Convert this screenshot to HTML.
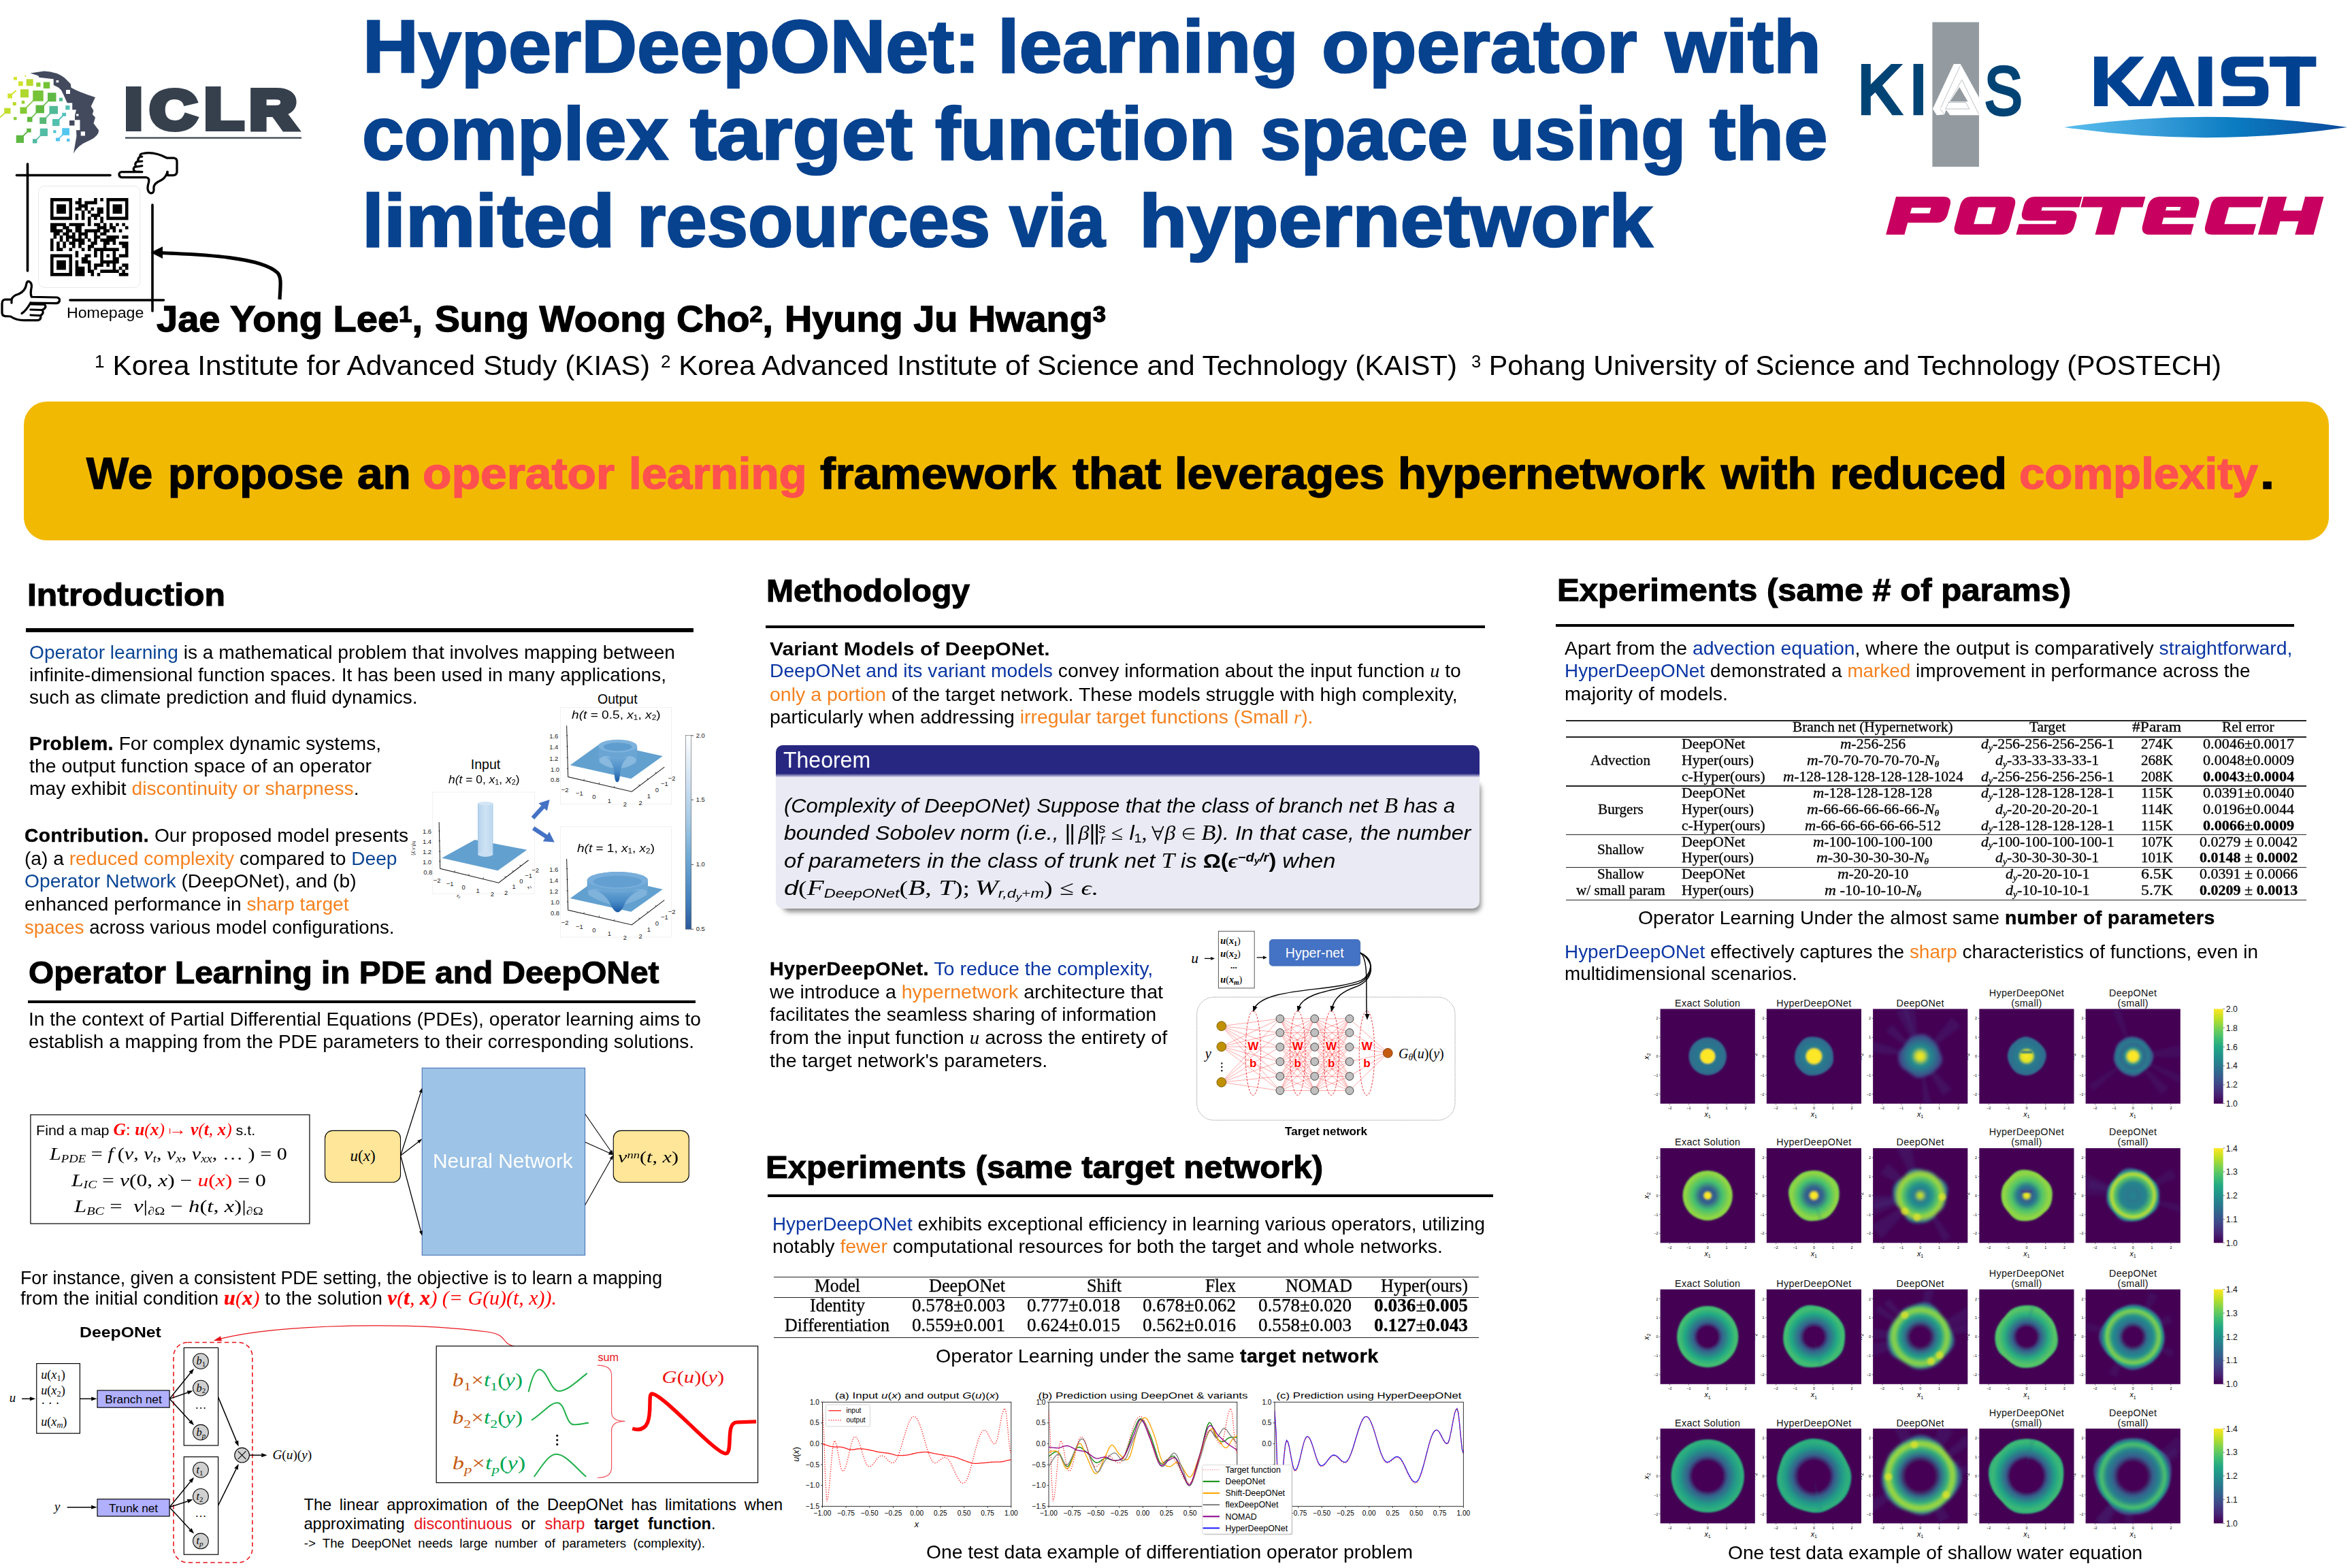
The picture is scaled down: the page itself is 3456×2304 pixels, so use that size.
<!DOCTYPE html>
<html><head><meta charset="utf-8"><title>HyperDeepONet poster</title>
<style>
html,body{margin:0;padding:0;background:#fff;}
body{width:3456px;height:2304px;position:relative;overflow:hidden;font-family:"Liberation Sans",sans-serif;}
.t{position:absolute;white-space:nowrap;line-height:1;transform-origin:0 0;}
.a{position:absolute;}
svg{position:absolute;overflow:visible;}
svg.il{position:static;display:inline-block;vertical-align:-0.02em;overflow:visible}
sup.s{font-size:62%;vertical-align:baseline;position:relative;top:-0.42em;}
sub.s{font-size:62%;vertical-align:baseline;position:relative;top:0.22em;}
b.hb{-webkit-text-stroke:0.45px currentColor;letter-spacing:0.45px}
.b{color:#0A4595}.b2{color:#0B36A4}.o{color:#F5821F}.r{color:#FF0000}
i.m{font-family:"Liberation Serif",serif;font-style:italic;}
</style></head>
<body>
<div class="t" id="t0" style="left:532.8px;top:14.1px;font-family:'Liberation Sans',sans-serif;font-size:109px;font-weight:bold;color:#07428F;-webkit-text-stroke:2.6px #07428F;transform:scaleX(1.0396);">HyperDeepONet:</div>
<div class="t" id="t1" style="left:1465.9px;top:14.1px;font-family:'Liberation Sans',sans-serif;font-size:109px;font-weight:bold;color:#07428F;-webkit-text-stroke:2.6px #07428F;transform:scaleX(1.0421);">learning</div>
<div class="t" id="t2" style="left:1941.9px;top:14.1px;font-family:'Liberation Sans',sans-serif;font-size:109px;font-weight:bold;color:#07428F;-webkit-text-stroke:2.6px #07428F;transform:scaleX(1.0483);">operator</div>
<div class="t" id="t3" style="left:2446.7px;top:14.1px;font-family:'Liberation Sans',sans-serif;font-size:109px;font-weight:bold;color:#07428F;-webkit-text-stroke:2.6px #07428F;transform:scaleX(1.0508);">with</div>
<div class="t" id="t4" style="left:532.0px;top:142.1px;font-family:'Liberation Sans',sans-serif;font-size:109px;font-weight:bold;color:#07428F;-webkit-text-stroke:2.6px #07428F;transform:scaleX(1.0176);">complex</div>
<div class="t" id="t5" style="left:1014.0px;top:142.1px;font-family:'Liberation Sans',sans-serif;font-size:109px;font-weight:bold;color:#07428F;-webkit-text-stroke:2.6px #07428F;transform:scaleX(1.0800);">target</div>
<div class="t" id="t6" style="left:1374.4px;top:142.1px;font-family:'Liberation Sans',sans-serif;font-size:109px;font-weight:bold;color:#07428F;-webkit-text-stroke:2.6px #07428F;transform:scaleX(1.0264);">function</div>
<div class="t" id="t7" style="left:1851.5px;top:142.1px;font-family:'Liberation Sans',sans-serif;font-size:109px;font-weight:bold;color:#07428F;-webkit-text-stroke:2.6px #07428F;transform:scaleX(0.9865);">space</div>
<div class="t" id="t8" style="left:2188.6px;top:142.1px;font-family:'Liberation Sans',sans-serif;font-size:109px;font-weight:bold;color:#07428F;-webkit-text-stroke:2.6px #07428F;transform:scaleX(0.9921);">using</div>
<div class="t" id="t9" style="left:2511.5px;top:142.1px;font-family:'Liberation Sans',sans-serif;font-size:109px;font-weight:bold;color:#07428F;-webkit-text-stroke:2.6px #07428F;transform:scaleX(1.0618);">the</div>
<div class="t" id="t10" style="left:532.3px;top:270.0px;font-family:'Liberation Sans',sans-serif;font-size:109px;font-weight:bold;color:#07428F;-webkit-text-stroke:2.6px #07428F;transform:scaleX(1.0573);">limited</div>
<div class="t" id="t11" style="left:935.6px;top:270.0px;font-family:'Liberation Sans',sans-serif;font-size:109px;font-weight:bold;color:#07428F;-webkit-text-stroke:2.6px #07428F;transform:scaleX(0.9960);">resources</div>
<div class="t" id="t12" style="left:1483.3px;top:270.0px;font-family:'Liberation Sans',sans-serif;font-size:109px;font-weight:bold;color:#07428F;-webkit-text-stroke:2.6px #07428F;transform:scaleX(0.9294);">via</div>
<div class="t" id="t13" style="left:1674.3px;top:270.0px;font-family:'Liberation Sans',sans-serif;font-size:109px;font-weight:bold;color:#07428F;-webkit-text-stroke:2.6px #07428F;transform:scaleX(1.0552);">hypernetwork</div>
<div class="t" id="t14" style="left:230.3px;top:440.9px;font-family:'Liberation Sans',sans-serif;font-size:54px;font-weight:bold;color:#000;-webkit-text-stroke:1.3px #000;transform:scaleX(1.0377);">Jae Yong Lee<sup class="s">1</sup>,</div>
<div class="t" id="t15" style="left:638.5px;top:440.9px;font-family:'Liberation Sans',sans-serif;font-size:54px;font-weight:bold;color:#000;-webkit-text-stroke:1.3px #000;transform:scaleX(1.0236);">Sung Woong Cho<sup class="s">2</sup>,</div>
<div class="t" id="t16" style="left:1152.5px;top:440.9px;font-family:'Liberation Sans',sans-serif;font-size:54px;font-weight:bold;color:#000;-webkit-text-stroke:1.3px #000;transform:scaleX(1.0336);">Hyung Ju Hwang<sup class="s">3</sup></div>
<div class="t" id="t17" style="left:139.0px;top:515.9px;font-family:'Liberation Sans',sans-serif;font-size:41.5px;font-weight:normal;color:#000;transform:scaleX(1.0218);"><sup class="s">1</sup> Korea Institute for Advanced Study (KIAS)</div>
<div class="t" id="t18" style="left:971.3px;top:515.9px;font-family:'Liberation Sans',sans-serif;font-size:41.5px;font-weight:normal;color:#000;transform:scaleX(1.0146);"><sup class="s">2</sup> Korea Advanced Institute of Science and Technology (KAIST)</div>
<div class="t" id="t19" style="left:2162.0px;top:515.9px;font-family:'Liberation Sans',sans-serif;font-size:41.5px;font-weight:normal;color:#000;transform:scaleX(0.9935);"><sup class="s">3</sup> Pohang University of Science and Technology (POSTECH)</div>
<div class="a" style="left:35px;top:590px;width:3387px;height:204px;background:#F2B903;border-radius:34px;"></div>
<div class="t" id="t20" style="left:126.7px;top:662.5px;font-family:'Liberation Sans',sans-serif;font-size:65px;font-weight:bold;color:#000;-webkit-text-stroke:1.5px currentColor;transform:scaleX(1.0100);">We</div>
<div class="t" id="t21" style="left:246.5px;top:662.5px;font-family:'Liberation Sans',sans-serif;font-size:65px;font-weight:bold;color:#000;-webkit-text-stroke:1.5px currentColor;transform:scaleX(1.0043);">propose</div>
<div class="t" id="t22" style="left:524.8px;top:662.5px;font-family:'Liberation Sans',sans-serif;font-size:65px;font-weight:bold;color:#000;-webkit-text-stroke:1.5px currentColor;transform:scaleX(1.0361);">an</div>
<div class="t" id="t23" style="left:620.6px;top:662.5px;font-family:'Liberation Sans',sans-serif;font-size:65px;font-weight:bold;color:#FF5050;-webkit-text-stroke:1.5px currentColor;transform:scaleX(1.0702);">operator</div>
<div class="t" id="t24" style="left:923.6px;top:662.5px;font-family:'Liberation Sans',sans-serif;font-size:65px;font-weight:bold;color:#FF5050;-webkit-text-stroke:1.5px currentColor;transform:scaleX(1.0349);">learning</div>
<div class="t" id="t25" style="left:1204.6px;top:662.5px;font-family:'Liberation Sans',sans-serif;font-size:65px;font-weight:bold;color:#000;-webkit-text-stroke:1.5px currentColor;transform:scaleX(1.0556);">framework</div>
<div class="t" id="t26" style="left:1576.0px;top:662.5px;font-family:'Liberation Sans',sans-serif;font-size:65px;font-weight:bold;color:#000;-webkit-text-stroke:1.5px currentColor;transform:scaleX(1.0918);">that</div>
<div class="t" id="t27" style="left:1726.1px;top:662.5px;font-family:'Liberation Sans',sans-serif;font-size:65px;font-weight:bold;color:#000;-webkit-text-stroke:1.5px currentColor;transform:scaleX(1.0280);">leverages</div>
<div class="t" id="t28" style="left:2053.5px;top:662.5px;font-family:'Liberation Sans',sans-serif;font-size:65px;font-weight:bold;color:#000;-webkit-text-stroke:1.5px currentColor;transform:scaleX(1.0573);">hypernetwork</div>
<div class="t" id="t29" style="left:2528.5px;top:662.5px;font-family:'Liberation Sans',sans-serif;font-size:65px;font-weight:bold;color:#000;-webkit-text-stroke:1.5px currentColor;transform:scaleX(1.0773);">with</div>
<div class="t" id="t30" style="left:2688.9px;top:662.5px;font-family:'Liberation Sans',sans-serif;font-size:65px;font-weight:bold;color:#000;-webkit-text-stroke:1.5px currentColor;transform:scaleX(1.0273);">reduced</div>
<div class="t" id="t31" style="left:2967.2px;top:662.5px;font-family:'Liberation Sans',sans-serif;font-size:65px;font-weight:bold;color:#FF5050;-webkit-text-stroke:1.5px currentColor;transform:scaleX(1.0334);">complexity</div>
<div class="t" id="t32" style="left:3320.7px;top:662.5px;font-family:'Liberation Sans',sans-serif;font-size:65px;font-weight:bold;color:#000;-webkit-text-stroke:1.5px currentColor;transform:scaleX(1.1709);">.</div>
<div class="t" id="t33" style="left:40.2px;top:851.5px;font-family:'Liberation Sans',sans-serif;font-size:45.5px;font-weight:bold;color:#000;-webkit-text-stroke:1.1px #000;transform:scaleX(1.0966);">Introduction</div>
<div class="a" style="left:38px;top:923.0px;width:981px;height:6px;background:#000;"></div>
<div class="t" id="t34" style="left:42.8px;top:944.6px;font-family:'Liberation Sans',sans-serif;font-size:27.3px;font-weight:normal;color:#000;transform:scaleX(1.0304);"><span class="b">Operator learning</span> is a mathematical problem that involves mapping between</div>
<div class="t" id="t35" style="left:42.8px;top:977.8px;font-family:'Liberation Sans',sans-serif;font-size:27.3px;font-weight:normal;color:#000;transform:scaleX(1.0281);">infinite-dimensional function spaces. It has been used in many applications,</div>
<div class="t" id="t36" style="left:42.8px;top:1011.0px;font-family:'Liberation Sans',sans-serif;font-size:27.3px;font-weight:normal;color:#000;transform:scaleX(1.0274);">such as climate prediction and fluid dynamics.</div>
<div class="t" id="t37" style="left:42.8px;top:1078.6px;font-family:'Liberation Sans',sans-serif;font-size:27.3px;font-weight:normal;color:#000;transform:scaleX(1.0285);"><b class="hb">Problem.</b> For complex dynamic systems,</div>
<div class="t" id="t38" style="left:42.8px;top:1111.9px;font-family:'Liberation Sans',sans-serif;font-size:27.3px;font-weight:normal;color:#000;transform:scaleX(1.0423);">the output function space of an operator</div>
<div class="t" id="t39" style="left:42.8px;top:1145.1px;font-family:'Liberation Sans',sans-serif;font-size:27.3px;font-weight:normal;color:#000;transform:scaleX(1.0334);">may exhibit <span class="o">discontinuity or sharpness</span>.</div>
<div class="t" id="t40" style="left:35.8px;top:1214.4px;font-family:'Liberation Sans',sans-serif;font-size:27.3px;font-weight:normal;color:#000;transform:scaleX(1.0332);"><b class="hb">Contribution.</b> Our proposed model presents</div>
<div class="t" id="t41" style="left:35.8px;top:1247.7px;font-family:'Liberation Sans',sans-serif;font-size:27.3px;font-weight:normal;color:#000;transform:scaleX(1.0310);">(a) a <span class="o">reduced complexity</span> compared to <span class="b">Deep</span></div>
<div class="t" id="t42" style="left:35.8px;top:1281.3px;font-family:'Liberation Sans',sans-serif;font-size:27.3px;font-weight:normal;color:#000;transform:scaleX(1.0333);"><span class="b">Operator Network</span> (DeepONet), and (b)</div>
<div class="t" id="t43" style="left:35.8px;top:1315.0px;font-family:'Liberation Sans',sans-serif;font-size:27.3px;font-weight:normal;color:#000;transform:scaleX(1.0295);">enhanced performance in <span class="o">sharp target</span></div>
<div class="t" id="t44" style="left:35.8px;top:1348.7px;font-family:'Liberation Sans',sans-serif;font-size:27.3px;font-weight:normal;color:#000;transform:scaleX(1.0119);"><span class="o">spaces</span> across various model configurations.</div>
<div class="t" id="t45" style="left:41.9px;top:1406.5px;font-family:'Liberation Sans',sans-serif;font-size:45.5px;font-weight:bold;color:#000;-webkit-text-stroke:1.1px #000;transform:scaleX(1.0500);">Operator Learning in PDE and DeepONet</div>
<div class="a" style="left:41px;top:1469.5px;width:981px;height:4px;background:#000;"></div>
<div class="t" id="t46" style="left:41.5px;top:1483.9px;font-family:'Liberation Sans',sans-serif;font-size:27.3px;font-weight:normal;color:#000;transform:scaleX(1.0309);">In the context of Partial Differential Equations (PDEs), operator learning aims to</div>
<div class="t" id="t47" style="left:41.5px;top:1516.7px;font-family:'Liberation Sans',sans-serif;font-size:27.3px;font-weight:normal;color:#000;transform:scaleX(1.0248);">establish a mapping from the PDE parameters to their corresponding solutions.</div>
<div class="t" id="t48" style="left:29.8px;top:1864.2px;font-family:'Liberation Sans',sans-serif;font-size:27.3px;font-weight:normal;color:#000;transform:scaleX(0.9772);">For instance, given a consistent PDE setting, the objective is to learn a mapping</div>
<div class="t" id="t49" style="left:29.8px;top:1893.4px;font-family:'Liberation Sans',sans-serif;font-size:27.3px;font-weight:normal;color:#000;transform:scaleX(1.0157);">from the initial condition <i class="m r" style="font-size:108%"><b class="hb">u</b>(<b class="hb">x</b>)</i> to the solution <i class="m r" style="font-size:108%"><b class="hb">v</b>(<b class="hb">t</b>, <b class="hb">x</b>) (= G(u)(t, x)).</i></div>
<div class="t" id="t50" style="left:1125.5px;top:846.2px;font-family:'Liberation Sans',sans-serif;font-size:45.5px;font-weight:bold;color:#000;-webkit-text-stroke:1.1px #000;transform:scaleX(1.0563);">Methodology</div>
<div class="a" style="left:1125px;top:919.0px;width:1057px;height:4px;background:#000;"></div>
<div class="t" id="t51" style="left:1130.8px;top:939.5px;font-family:'Liberation Sans',sans-serif;font-size:27.3px;font-weight:bold;color:#000;transform:scaleX(1.1033);">Variant Models of DeepONet.</div>
<div class="t" id="t52" style="left:1130.8px;top:972.2px;font-family:'Liberation Sans',sans-serif;font-size:27.3px;font-weight:normal;color:#000;transform:scaleX(1.0346);"><span class="b2">DeepONet and its variant models</span> convey information about the input function <i class="m">u</i> to</div>
<div class="t" id="t53" style="left:1130.8px;top:1006.5px;font-family:'Liberation Sans',sans-serif;font-size:27.3px;font-weight:normal;color:#000;transform:scaleX(1.0435);"><span class="o">only a portion</span> of the target network. These models struggle with high complexity,</div>
<div class="t" id="t54" style="left:1130.8px;top:1039.7px;font-family:'Liberation Sans',sans-serif;font-size:27.3px;font-weight:normal;color:#000;transform:scaleX(1.0401);">particularly when addressing <span class="o">irregular target functions (Small <i class="m">r</i>).</span></div>
<div class="t" id="t55" style="left:1130.8px;top:1410.2px;font-family:'Liberation Sans',sans-serif;font-size:27.3px;font-weight:normal;color:#000;transform:scaleX(1.0474);"><b class="hb">HyperDeepONet.</b> <span class="b2">To reduce the complexity,</span></div>
<div class="t" id="t56" style="left:1130.8px;top:1443.5px;font-family:'Liberation Sans',sans-serif;font-size:27.3px;font-weight:normal;color:#000;transform:scaleX(1.0465);">we introduce a <span class="o">hypernetwork</span> architecture that</div>
<div class="t" id="t57" style="left:1130.8px;top:1477.2px;font-family:'Liberation Sans',sans-serif;font-size:27.3px;font-weight:normal;color:#000;transform:scaleX(1.0288);">facilitates the seamless sharing of information</div>
<div class="t" id="t58" style="left:1130.8px;top:1510.5px;font-family:'Liberation Sans',sans-serif;font-size:27.3px;font-weight:normal;color:#000;transform:scaleX(1.0579);">from the input function <i class="m">u</i> across the entirety of</div>
<div class="t" id="t59" style="left:1130.8px;top:1544.7px;font-family:'Liberation Sans',sans-serif;font-size:27.3px;font-weight:normal;color:#000;transform:scaleX(1.0453);">the target network's parameters.</div>
<div class="t" id="t60" style="left:1125.4px;top:1692.5px;font-family:'Liberation Sans',sans-serif;font-size:45.5px;font-weight:bold;color:#000;-webkit-text-stroke:1.1px #000;transform:scaleX(1.0797);">Experiments (same target network)</div>
<div class="a" style="left:1128px;top:1754.7px;width:1066px;height:4px;background:#000;"></div>
<div class="t" id="t61" style="left:1135.2px;top:1784.8px;font-family:'Liberation Sans',sans-serif;font-size:27.3px;font-weight:normal;color:#000;transform:scaleX(1.0198);"><span class="b2">HyperDeepONet</span> exhibits exceptional efficiency in learning various operators, utilizing</div>
<div class="t" id="t62" style="left:1135.2px;top:1817.6px;font-family:'Liberation Sans',sans-serif;font-size:27.3px;font-weight:normal;color:#000;transform:scaleX(1.0401);">notably <span class="o">fewer</span> computational resources for both the target and whole networks.</div>
<div class="t" id="t63" style="left:1374.8px;top:1978.9px;font-family:'Liberation Sans',sans-serif;font-size:27.3px;font-weight:normal;color:#000;transform:scaleX(1.0482);">Operator Learning under the same <b class="hb">target network</b></div>
<div class="t" id="t64" style="left:1361.1px;top:2267.4px;font-family:'Liberation Sans',sans-serif;font-size:27.3px;font-weight:normal;color:#000;transform:scaleX(1.0341);">One test data example of differentiation operator problem</div>
<div class="t" id="t65" style="left:2287.5px;top:844.5px;font-family:'Liberation Sans',sans-serif;font-size:45.5px;font-weight:bold;color:#000;-webkit-text-stroke:1.1px #000;transform:scaleX(1.0778);">Experiments (same # of params)</div>
<div class="a" style="left:2286px;top:917.2px;width:1085px;height:4px;background:#000;"></div>
<div class="t" id="t66" style="left:2298.8px;top:938.9px;font-family:'Liberation Sans',sans-serif;font-size:27.3px;font-weight:normal;color:#000;transform:scaleX(1.0411);">Apart from the <span class="b2">advection equation</span>, where the output is comparatively <span class="b2">straightforward,</span></div>
<div class="t" id="t67" style="left:2298.8px;top:971.7px;font-family:'Liberation Sans',sans-serif;font-size:27.3px;font-weight:normal;color:#000;transform:scaleX(1.0215);"><span class="b2">HyperDeepONet</span> demonstrated a <span class="o">marked</span> improvement in performance across the</div>
<div class="t" id="t68" style="left:2298.8px;top:1005.5px;font-family:'Liberation Sans',sans-serif;font-size:27.3px;font-weight:normal;color:#000;transform:scaleX(1.0477);">majority of models.</div>
<div class="t" id="t69" style="left:2407.2px;top:1334.8px;font-family:'Liberation Sans',sans-serif;font-size:27.3px;font-weight:normal;color:#000;transform:scaleX(1.0386);">Operator Learning Under the almost same <b class="hb">number of parameters</b></div>
<div class="t" id="t70" style="left:2298.8px;top:1385.2px;font-family:'Liberation Sans',sans-serif;font-size:27.3px;font-weight:normal;color:#000;transform:scaleX(1.0227);"><span class="b2">HyperDeepONet</span> effectively captures the <span class="o">sharp</span> characteristics of functions, even in</div>
<div class="t" id="t71" style="left:2298.8px;top:1417.4px;font-family:'Liberation Sans',sans-serif;font-size:27.3px;font-weight:normal;color:#000;transform:scaleX(1.0194);">multidimensional scenarios.</div>
<div class="t" id="t72" style="left:2538.9px;top:2268.2px;font-family:'Liberation Sans',sans-serif;font-size:27.3px;font-weight:normal;color:#000;transform:scaleX(1.0322);">One test data example of shallow water equation</div>
<svg style="left:0;top:0" width="600" height="480"><g transform="translate(0 40) scale(0.25)"><path d="M178,270 L260,258 Q335,262 380,298 L415,333 L418,355 Q460,380 560,412 L535,465 L550,490 L543,512 L560,530 L550,565 L580,605 Q582,640 520,668 Q455,695 432,742 L450,640 L448,605 L470,605 L470,545 L440,545 L440,520 L448,485 L425,485 L425,445 L395,445 L375,400 L360,370 L345,355 L315,340 L315,305 L230,295 L225,285 Z" fill="#434A5E"/><rect x="330" y="312" width="15" height="13" fill="#fff"/><rect x="388" y="368" width="24" height="24" fill="#fff"/><rect x="448" y="510" width="14" height="12" fill="#fff"/><rect x="475" y="613" width="25" height="25" fill="#fff"/><rect x="408" y="548" width="30" height="30" fill="#434A5E"/><line x1="58" y1="404" x2="95" y2="372" stroke="#d1e32a" stroke-width="7"/><line x1="43" y1="492" x2="0" y2="530" stroke="#c6df2b" stroke-width="7"/><line x1="138" y1="489" x2="224" y2="403" stroke="#7cc635" stroke-width="7"/><line x1="235" y1="482" x2="305" y2="411" stroke="#5fb943" stroke-width="7"/><line x1="175" y1="542" x2="235" y2="482" stroke="#60ba40" stroke-width="7"/><line x1="253" y1="549" x2="315" y2="487" stroke="#53b985" stroke-width="7"/><line x1="329" y1="560" x2="377" y2="513" stroke="#52c0b6" stroke-width="7"/><line x1="117" y1="657" x2="170" y2="606" stroke="#5eb945" stroke-width="7"/><line x1="205" y1="670" x2="257" y2="618" stroke="#50bca3" stroke-width="7"/><line x1="340" y1="660" x2="386" y2="614" stroke="#52c6ee" stroke-width="7"/><rect x="80" y="292" width="20" height="18" fill="#d4e52a"/><rect x="145" y="283" width="8" height="8" fill="#d1e32a"/><rect x="108" y="318" width="27" height="27" fill="#d0e32a"/><rect x="155" y="305" width="40" height="40" fill="#b9db2c"/><rect x="213" y="325" width="25" height="25" fill="#8ece30"/><rect x="255" y="322" width="38" height="38" fill="#74c337"/><rect x="45" y="390" width="27" height="28" fill="#d1e32a"/><rect x="120" y="365" width="48" height="48" fill="#aed82d"/><rect x="193" y="372" width="62" height="63" fill="#76c337"/><rect x="280" y="385" width="50" height="52" fill="#5eb945"/><rect x="348" y="415" width="20" height="20" fill="#51b991"/><rect x="75" y="440" width="20" height="20" fill="#b8db2c"/><rect x="127" y="432" width="18" height="18" fill="#98d12f"/><rect x="25" y="475" width="37" height="33" fill="#c0dd2b"/><rect x="118" y="470" width="40" height="38" fill="#82c933"/><rect x="210" y="458" width="50" height="47" fill="#60ba41"/><rect x="290" y="463" width="50" height="47" fill="#50b996"/><rect x="385" y="460" width="25" height="25" fill="#52c0b3"/><rect x="80" y="528" width="18" height="17" fill="#89cc32"/><rect x="160" y="527" width="30" height="30" fill="#61ba3e"/><rect x="233" y="530" width="40" height="38" fill="#56b874"/><rect x="308" y="540" width="42" height="40" fill="#52c0ae"/><rect x="365" y="503" width="23" height="20" fill="#52c1bd"/><rect x="157" y="595" width="26" height="23" fill="#5eb946"/><rect x="235" y="595" width="45" height="45" fill="#51bca4"/><rect x="313" y="605" width="17" height="17" fill="#52c3d3"/><rect x="365" y="593" width="43" height="42" fill="#52c6ee"/><rect x="95" y="635" width="45" height="45" fill="#5fb943"/><rect x="192" y="657" width="26" height="25" fill="#50bba2"/><rect x="328" y="650" width="24" height="20" fill="#52c6ee"/><rect x="392" y="655" width="18" height="17" fill="#52c6ee"/></g><rect x="185" y="127" width="22.5" height="66" fill="#36404d"/><path d="M302,127 h22.5 v50 h35 v16 h-57.5 z" fill="#36404d"/><text transform="translate(220.2 188.6) scale(1.19 1)" font-family="'Liberation Sans',sans-serif" font-weight="bold" font-size="80" fill="#36404d" stroke="#36404d" stroke-width="8" stroke-linejoin="miter" stroke-miterlimit="3">C</text><text transform="translate(366.6 189) scale(1.19 1)" font-family="'Liberation Sans',sans-serif" font-weight="bold" font-size="81" fill="#36404d" stroke="#36404d" stroke-width="8" stroke-linejoin="miter" stroke-miterlimit="3">R</text><rect x="184" y="201.5" width="259" height="2.2" fill="#36404d"/></svg>
<svg style="left:0;top:220px" width="480" height="260" viewBox="0 220 480 260"><g stroke="#000" stroke-width="3.6" stroke-linecap="round" fill="none"><line x1="40.5" y1="241" x2="40.5" y2="398"/><line x1="24.5" y1="257.5" x2="162" y2="257.5"/><line x1="224" y1="301" x2="224" y2="457"/><line x1="103" y1="441" x2="240.5" y2="441"/></g><rect x="56.5" y="273.5" width="149.5" height="149" rx="9" fill="#fff" stroke="#e9e9e9" stroke-width="1"/><path transform="translate(74.0 291.0)" d="M0.00,0.00h32.06v4.73h-32.06zM41.22,0.00h4.58v4.73h-4.58zM64.12,0.00h4.58v4.73h-4.58zM73.28,0.00h4.58v4.73h-4.58zM82.44,0.00h32.06v4.73h-32.06zM0.00,4.58h4.58v4.73h-4.58zM27.48,4.58h4.58v4.73h-4.58zM36.64,4.58h9.16v4.73h-9.16zM50.38,4.58h18.32v4.73h-18.32zM82.44,4.58h4.58v4.73h-4.58zM109.92,4.58h4.58v4.73h-4.58zM0.00,9.16h4.58v4.73h-4.58zM9.16,9.16h13.74v4.73h-13.74zM27.48,9.16h4.58v4.73h-4.58zM41.22,9.16h13.74v4.73h-13.74zM82.44,9.16h4.58v4.73h-4.58zM91.60,9.16h13.74v4.73h-13.74zM109.92,9.16h4.58v4.73h-4.58zM0.00,13.74h4.58v4.73h-4.58zM9.16,13.74h13.74v4.73h-13.74zM27.48,13.74h4.58v4.73h-4.58zM36.64,13.74h9.16v4.73h-9.16zM50.38,13.74h4.58v4.73h-4.58zM59.54,13.74h4.58v4.73h-4.58zM68.70,13.74h9.16v4.73h-9.16zM82.44,13.74h4.58v4.73h-4.58zM91.60,13.74h13.74v4.73h-13.74zM109.92,13.74h4.58v4.73h-4.58zM0.00,18.32h4.58v4.73h-4.58zM9.16,18.32h13.74v4.73h-13.74zM27.48,18.32h4.58v4.73h-4.58zM45.80,18.32h4.58v4.73h-4.58zM54.96,18.32h4.58v4.73h-4.58zM68.70,18.32h9.16v4.73h-9.16zM82.44,18.32h4.58v4.73h-4.58zM91.60,18.32h13.74v4.73h-13.74zM109.92,18.32h4.58v4.73h-4.58zM0.00,22.90h4.58v4.73h-4.58zM27.48,22.90h4.58v4.73h-4.58zM36.64,22.90h4.58v4.73h-4.58zM45.80,22.90h4.58v4.73h-4.58zM59.54,22.90h13.74v4.73h-13.74zM82.44,22.90h4.58v4.73h-4.58zM109.92,22.90h4.58v4.73h-4.58zM0.00,27.48h32.06v4.73h-32.06zM36.64,27.48h4.58v4.73h-4.58zM45.80,27.48h4.58v4.73h-4.58zM54.96,27.48h4.58v4.73h-4.58zM64.12,27.48h4.58v4.73h-4.58zM73.28,27.48h4.58v4.73h-4.58zM82.44,27.48h32.06v4.73h-32.06zM54.96,32.06h4.58v4.73h-4.58zM73.28,32.06h4.58v4.73h-4.58zM0.00,36.64h22.90v4.73h-22.90zM27.48,36.64h22.90v4.73h-22.90zM54.96,36.64h4.58v4.73h-4.58zM64.12,36.64h9.16v4.73h-9.16zM77.86,36.64h4.58v4.73h-4.58zM87.02,36.64h4.58v4.73h-4.58zM96.18,36.64h4.58v4.73h-4.58zM105.34,36.64h4.58v4.73h-4.58zM0.00,41.22h9.16v4.73h-9.16zM18.32,41.22h9.16v4.73h-9.16zM36.64,41.22h9.16v4.73h-9.16zM68.70,41.22h13.74v4.73h-13.74zM87.02,41.22h9.16v4.73h-9.16zM109.92,41.22h4.58v4.73h-4.58zM0.00,45.80h18.32v4.73h-18.32zM22.90,45.80h9.16v4.73h-9.16zM36.64,45.80h9.16v4.73h-9.16zM50.38,45.80h22.90v4.73h-22.90zM77.86,45.80h9.16v4.73h-9.16zM91.60,45.80h4.58v4.73h-4.58zM100.76,45.80h4.58v4.73h-4.58zM4.58,50.38h9.16v4.73h-9.16zM18.32,50.38h9.16v4.73h-9.16zM32.06,50.38h4.58v4.73h-4.58zM41.22,50.38h13.74v4.73h-13.74zM64.12,50.38h4.58v4.73h-4.58zM73.28,50.38h9.16v4.73h-9.16zM4.58,54.96h4.58v4.73h-4.58zM13.74,54.96h4.58v4.73h-4.58zM22.90,54.96h13.74v4.73h-13.74zM41.22,54.96h4.58v4.73h-4.58zM50.38,54.96h4.58v4.73h-4.58zM64.12,54.96h9.16v4.73h-9.16zM82.44,54.96h18.32v4.73h-18.32zM105.34,54.96h9.16v4.73h-9.16zM0.00,59.54h4.58v4.73h-4.58zM13.74,59.54h4.58v4.73h-4.58zM22.90,59.54h4.58v4.73h-4.58zM32.06,59.54h18.32v4.73h-18.32zM54.96,59.54h4.58v4.73h-4.58zM64.12,59.54h4.58v4.73h-4.58zM73.28,59.54h22.90v4.73h-22.90zM0.00,64.12h4.58v4.73h-4.58zM9.16,64.12h4.58v4.73h-4.58zM18.32,64.12h4.58v4.73h-4.58zM27.48,64.12h9.16v4.73h-9.16zM41.22,64.12h9.16v4.73h-9.16zM59.54,64.12h9.16v4.73h-9.16zM77.86,64.12h9.16v4.73h-9.16zM91.60,64.12h4.58v4.73h-4.58zM100.76,64.12h13.74v4.73h-13.74zM0.00,68.70h4.58v4.73h-4.58zM9.16,68.70h4.58v4.73h-4.58zM18.32,68.70h4.58v4.73h-4.58zM32.06,68.70h4.58v4.73h-4.58zM41.22,68.70h4.58v4.73h-4.58zM54.96,68.70h9.16v4.73h-9.16zM77.86,68.70h4.58v4.73h-4.58zM105.34,68.70h9.16v4.73h-9.16zM0.00,73.28h4.58v4.73h-4.58zM9.16,73.28h9.16v4.73h-9.16zM27.48,73.28h4.58v4.73h-4.58zM45.80,73.28h4.58v4.73h-4.58zM54.96,73.28h4.58v4.73h-4.58zM64.12,73.28h36.64v4.73h-36.64zM109.92,73.28h4.58v4.73h-4.58zM36.64,77.86h4.58v4.73h-4.58zM64.12,77.86h4.58v4.73h-4.58zM73.28,77.86h4.58v4.73h-4.58zM91.60,77.86h4.58v4.73h-4.58zM109.92,77.86h4.58v4.73h-4.58zM0.00,82.44h32.06v4.73h-32.06zM36.64,82.44h4.58v4.73h-4.58zM50.38,82.44h9.16v4.73h-9.16zM64.12,82.44h4.58v4.73h-4.58zM73.28,82.44h4.58v4.73h-4.58zM82.44,82.44h4.58v4.73h-4.58zM91.60,82.44h4.58v4.73h-4.58zM100.76,82.44h13.74v4.73h-13.74zM0.00,87.02h4.58v4.73h-4.58zM27.48,87.02h4.58v4.73h-4.58zM45.80,87.02h9.16v4.73h-9.16zM73.28,87.02h4.58v4.73h-4.58zM91.60,87.02h9.16v4.73h-9.16zM0.00,91.60h4.58v4.73h-4.58zM9.16,91.60h13.74v4.73h-13.74zM27.48,91.60h4.58v4.73h-4.58zM36.64,91.60h4.58v4.73h-4.58zM45.80,91.60h13.74v4.73h-13.74zM73.28,91.60h27.48v4.73h-27.48zM0.00,96.18h4.58v4.73h-4.58zM9.16,96.18h13.74v4.73h-13.74zM27.48,96.18h4.58v4.73h-4.58zM36.64,96.18h4.58v4.73h-4.58zM54.96,96.18h4.58v4.73h-4.58zM64.12,96.18h13.74v4.73h-13.74zM82.44,96.18h4.58v4.73h-4.58zM91.60,96.18h4.58v4.73h-4.58zM105.34,96.18h9.16v4.73h-9.16zM0.00,100.76h4.58v4.73h-4.58zM9.16,100.76h13.74v4.73h-13.74zM27.48,100.76h4.58v4.73h-4.58zM36.64,100.76h13.74v4.73h-13.74zM54.96,100.76h4.58v4.73h-4.58zM64.12,100.76h4.58v4.73h-4.58zM91.60,100.76h4.58v4.73h-4.58zM100.76,100.76h4.58v4.73h-4.58zM109.92,100.76h4.58v4.73h-4.58zM0.00,105.34h4.58v4.73h-4.58zM27.48,105.34h4.58v4.73h-4.58zM36.64,105.34h13.74v4.73h-13.74zM54.96,105.34h9.16v4.73h-9.16zM73.28,105.34h27.48v4.73h-27.48zM105.34,105.34h4.58v4.73h-4.58zM0.00,109.92h32.06v4.73h-32.06zM36.64,109.92h13.74v4.73h-13.74zM59.54,109.92h4.58v4.73h-4.58zM68.70,109.92h4.58v4.73h-4.58zM100.76,109.92h13.74v4.73h-13.74z" fill="#000"/><path d="M411,440 C412,420 414,408 408,401 C385,378 300,374 236,371.5" fill="none" stroke="#000" stroke-width="5.2"/><path d="M221.5,371 L239,362.3 L239,380 Z" fill="#000"/><g transform="translate(0 40) scale(0.25)" fill="none" stroke="#000" stroke-width="13" stroke-linecap="round" stroke-linejoin="round"><path d="M835,850 L717,850 Q700,851 700,866 Q701,882 717,882 L858,882 Q880,884 874,912 Q858,962 884,975 Q906,978 904,950 Q900,925 930,908 Q975,890 984,850"/><path d="M835,850 L795,848 Q778,838 790,822 L835,815 M800,820 Q788,800 806,790 L835,788 M812,788 Q808,768 826,760 L835,760 M826,760 Q818,745 840,742 Q905,728 980,768 L1020,768 Q1040,770 1040,790 L1040,850 Q1038,870 1018,870 L985,870 L984,850"/></g><g transform="translate(0 340) scale(0.25)" fill="none" stroke="#000" stroke-width="13" stroke-linecap="round" stroke-linejoin="round"><path d="M68,420 L68,400 Q75,378 110,368 Q150,350 155,310 Q158,290 172,295 Q192,305 183,340 Q178,365 185,385 L335,388 Q352,392 350,408 Q346,422 330,422 L180,420"/><path d="M68,400 L30,400 Q12,402 12,425 L12,480 Q14,498 32,498 L62,500 Q100,525 150,522 L225,522 Q245,515 238,495 L180,492 M238,495 Q262,480 248,462 L180,460 M248,462 Q278,448 262,430 L180,428 M180,420 Q150,470 128,482"/></g></svg>
<div class="t" id="t73" style="left:97.8px;top:450.4px;font-family:'Liberation Sans',sans-serif;font-size:21.5px;font-weight:normal;color:#000;transform:scaleX(1.0777);">Homepage</div>
<svg style="left:0;top:0" width="3456" height="400"><g transform="translate(2720 20) scale(0.15306)"><rect x="780" y="82" width="448" height="1388" fill="#949BA0"/><polygon points="97,483 188,483 188,680 385,483 498,483 300,690 505,975 395,975 232,757 188,797 188,975 97,975" fill="#004375"/><rect x="598" y="483" width="94" height="492" fill="#004375"/><polygon points="783,915 985,483 1050,483 1228,805 1228,975 950,975 912,925 895,968 822,975" fill="#fff"/><polygon points="1040,705 950,845 1120,845" fill="#949BA0"/><g stroke="#949BA0" stroke-width="4" fill="none"><path d="M1048,500 L860,905 M1063,635 L1225,965 M1063,635 L905,915 M930,852 L1100,852 M905,915 L1135,915 L1100,852 M855,915 L890,960"/></g></g><text transform="translate(2915.8 168) scale(0.83 1)" font-family="'Liberation Sans',sans-serif" font-size="101" fill="#004375" stroke="#004375" stroke-width="4.4">S</text></svg>
<svg style="left:0;top:0" width="3456" height="400"><defs><linearGradient id="kg" x1="0" x2="1" y1="0" y2="0"><stop offset="0" stop-color="#58bdec"/><stop offset="0.3" stop-color="#3a9fda"/><stop offset="0.6" stop-color="#0b7cc1"/><stop offset="1" stop-color="#0a4a9c"/></linearGradient></defs><g transform="translate(3020 60) scale(0.18537)" fill="#004191"><rect x="308" y="125" width="107" height="393"/><polygon points="415,300 590,125 705,125 470,380 415,340"/><polygon points="415,340 470,300 525,322 668,475 700,518 583,518"/><polygon points="843,125 942,125 880,232 795,440 763,518 650,518 668,475"/><polygon points="843,125 942,125 1105,518 997,518 880,232"/><polygon points="830,440 965,440 1000,518 858,518"/><rect x="1135" y="125" width="108" height="393"/><path d="M1650,125 L1420,125 Q1315,125 1315,230 L1315,255 Q1315,360 1420,360 L1560,360 Q1585,360 1585,385 L1585,413 Q1585,438 1560,438 L1330,438 L1330,518 L1590,518 Q1690,518 1690,418 L1690,383 Q1690,283 1590,283 L1450,283 Q1425,283 1425,258 L1425,230 Q1425,205 1450,205 L1650,205 Z"/><rect x="1700" y="125" width="368" height="80"/><rect x="1830" y="125" width="108" height="393"/><path d="M70,685 Q1190,521 2315,685 Q1190,849 70,685 Z" fill="url(#kg)"/></g></svg>
<svg style="left:0;top:0" width="3456" height="400"><g transform="translate(2750 270) scale(0.29337) translate(68.3 0) skewX(-15)" fill="#C8005F" fill-rule="evenodd"><path d="M72,255 L72,65 L310,65 Q354,65 354,110 L354,150 Q354,195 310,195 L165,195 L165,255 Z M165,120 L262,120 L262,148 L165,148 Z"/><path d="M450,65 L634,65 Q679,65 679,110 L679,210 Q679,255 634,255 L450,255 Q405,255 405,210 L405,110 Q405,65 450,65 Z M498,118 L586,118 L586,202 L498,202 Z"/><path d="M1004,65 L770,65 Q724,65 724,110 L724,140 Q724,185 770,185 L908,185 L908,202 L724,202 L724,255 L958,255 Q1004,255 1004,210 L1004,172 Q1004,135 958,135 L818,135 L818,118 L1004,118 Z"/><path d="M1011,65 L1321,65 L1321,118 L1215,118 L1215,255 L1120,255 L1120,118 L1011,118 Z"/><path d="M1395,65 L1555,65 Q1600,65 1600,110 L1600,170 L1440,170 L1440,202 L1600,202 L1600,255 L1395,255 Q1345,255 1345,205 L1345,115 Q1345,65 1395,65 Z M1440,116 L1512,116 L1512,134 L1440,134 Z"/><path d="M1912,65 L1705,65 Q1660,65 1660,110 L1660,210 Q1660,255 1705,255 L1912,255 L1912,202 L1753,202 L1753,118 L1912,118 Z"/><path d="M1936,65 L2029,65 L2029,135 L2121,135 L2121,65 L2214,65 L2214,255 L2121,255 L2121,188 L2029,188 L2029,255 L1936,255 Z"/></g></svg>
<svg style="left:0;top:0" width="1100" height="1420"><defs><linearGradient id="cb" x1="0" x2="0" y1="0" y2="1"><stop offset="0" stop-color="#fdfeff"/><stop offset="0.22" stop-color="#d4e4f3"/><stop offset="0.45" stop-color="#a3c9e4"/><stop offset="0.65" stop-color="#6ba6d3"/><stop offset="0.85" stop-color="#4481bd"/><stop offset="1" stop-color="#2c5a9b"/></linearGradient><linearGradient id="fun" x1="0" x2="0" y1="0" y2="1"><stop offset="0" stop-color="#6ea8d6"/><stop offset="0.55" stop-color="#4a8cc7"/><stop offset="1" stop-color="#1b5aa6"/></linearGradient><linearGradient id="cyl" x1="0" x2="1" y1="0" y2="0"><stop offset="0" stop-color="#9cc4e6"/><stop offset="0.5" stop-color="#c4dcf1"/><stop offset="1" stop-color="#a6cae8"/></linearGradient></defs><g transform="translate(600 1000) scale(0.2551)"><rect x="140" y="643" width="588" height="585" fill="#fff" stroke="#ececec" stroke-width="3"/><rect x="876" y="155" width="639" height="557" fill="#fff" stroke="#ececec" stroke-width="3"/><rect x="876" y="842" width="639" height="636" fill="#fff" stroke="#ececec" stroke-width="3"/><polygon points="193,1022 383,917 683,975 515,1095" fill="#62a0cf"/><path d="M400,708 L400,1000 A44,15 0 0 0 488,1000 L488,708 Z" fill="url(#cyl)"/><line x1="408" y1="712" x2="408" y2="1005" stroke="#e6f0fa" stroke-width="3"/><line x1="417" y1="712" x2="417" y2="1005" stroke="#e6f0fa" stroke-width="3"/><line x1="426" y1="712" x2="426" y2="1005" stroke="#e6f0fa" stroke-width="3"/><line x1="435" y1="712" x2="435" y2="1005" stroke="#e6f0fa" stroke-width="3"/><line x1="444" y1="712" x2="444" y2="1005" stroke="#e6f0fa" stroke-width="3"/><line x1="453" y1="712" x2="453" y2="1005" stroke="#e6f0fa" stroke-width="3"/><line x1="462" y1="712" x2="462" y2="1005" stroke="#e6f0fa" stroke-width="3"/><line x1="471" y1="712" x2="471" y2="1005" stroke="#e6f0fa" stroke-width="3"/><line x1="480" y1="712" x2="480" y2="1005" stroke="#e6f0fa" stroke-width="3"/><ellipse cx="444" cy="708" rx="44" ry="10" fill="#d3e5f5"/><ellipse cx="444" cy="1000" rx="44" ry="15" fill="#c9dff2" opacity="0.8"/><path d="M177,815 L183,1083 L520,1165 L692,1035" fill="none" stroke="#1a1a1a" stroke-width="4"/><line x1="174" y1="866" x2="183" y2="866" stroke="#1a1a1a" stroke-width="3"/><line x1="175" y1="924" x2="184" y2="924" stroke="#1a1a1a" stroke-width="3"/><line x1="176" y1="984" x2="185" y2="984" stroke="#1a1a1a" stroke-width="3"/><line x1="177" y1="1041" x2="186" y2="1041" stroke="#1a1a1a" stroke-width="3"/><line x1="265" y1="1103" x2="268" y2="1094" stroke="#1a1a1a" stroke-width="3"/><line x1="347" y1="1123" x2="350" y2="1114" stroke="#1a1a1a" stroke-width="3"/><line x1="430" y1="1143" x2="433" y2="1134" stroke="#1a1a1a" stroke-width="3"/><line x1="563" y1="1132" x2="554" y2="1129" stroke="#1a1a1a" stroke-width="3"/><line x1="607" y1="1099" x2="598" y2="1096" stroke="#1a1a1a" stroke-width="3"/><line x1="650" y1="1066" x2="641" y2="1063" stroke="#1a1a1a" stroke-width="3"/><text x="108" y="883" font-size="37" text-anchor="middle" fill="#222" font-family="'Liberation Sans',sans-serif">1.6</text><text x="108" y="941" font-size="37" text-anchor="middle" fill="#222" font-family="'Liberation Sans',sans-serif">1.4</text><text x="108" y="1001" font-size="37" text-anchor="middle" fill="#222" font-family="'Liberation Sans',sans-serif">1.2</text><text x="108" y="1058" font-size="37" text-anchor="middle" fill="#222" font-family="'Liberation Sans',sans-serif">1.0</text><text x="113" y="1116" font-size="37" text-anchor="middle" fill="#222" font-family="'Liberation Sans',sans-serif">0.8</text><text x="165" y="1166" font-size="37" text-anchor="middle" fill="#222" font-family="'Liberation Sans',sans-serif">−2</text><text x="240" y="1183" font-size="37" text-anchor="middle" fill="#222" font-family="'Liberation Sans',sans-serif">−1</text><text x="318" y="1203" font-size="37" text-anchor="middle" fill="#222" font-family="'Liberation Sans',sans-serif">0</text><text x="400" y="1224" font-size="37" text-anchor="middle" fill="#222" font-family="'Liberation Sans',sans-serif">1</text><text x="484" y="1243" font-size="37" text-anchor="middle" fill="#222" font-family="'Liberation Sans',sans-serif">2</text><text x="563" y="1233" font-size="37" text-anchor="middle" fill="#222" font-family="'Liberation Sans',sans-serif">2</text><text x="608" y="1201" font-size="37" text-anchor="middle" fill="#222" font-family="'Liberation Sans',sans-serif">1</text><text x="650" y="1168" font-size="37" text-anchor="middle" fill="#222" font-family="'Liberation Sans',sans-serif">0</text><text x="692" y="1136" font-size="37" text-anchor="middle" fill="#222" font-family="'Liberation Sans',sans-serif">−1</text><text x="732" y="1104" font-size="37" text-anchor="middle" fill="#222" font-family="'Liberation Sans',sans-serif">−2</text><text transform="translate(22 965) rotate(90)" font-size="27" text-anchor="middle" fill="#222" font-family="'Liberation Sans',sans-serif">h(t,x,y)</text><text transform="translate(287 1248) rotate(14)" font-size="26" font-style="italic" text-anchor="middle" fill="#222" font-family="'Liberation Sans',sans-serif">x<tspan font-size="18" dy="5">2</tspan></text><text transform="translate(700 1195) rotate(-38)" font-size="26" font-style="italic" text-anchor="middle" fill="#222" font-family="'Liberation Sans',sans-serif">x<tspan font-size="18" dy="5">1</tspan></text><polygon points="725.9,800.1 783.7,736.9 799.2,751.1 814.0,686.0 750.5,706.5 766.0,720.7 708.1,783.9" fill="#4472C4"/><polygon points="713.4,860.0 787.0,908.9 775.4,926.4 842.0,931.0 811.9,871.4 800.3,888.9 726.6,840.0" fill="#4472C4"/><polygon points="932,487 1114,357 1465,435 1283,565" fill="#62a0cf"/><path d="M1095,380 L1095,452 A112,36 0 0 0 1318,452 L1318,380 A112,36 0 0 0 1095,380 Z" fill="#6aa5d4"/><ellipse cx="1206" cy="377" rx="111" ry="37" fill="#7db2dc"/><ellipse cx="1206" cy="382" rx="82" ry="24" fill="#5f9dcf"/><path d="M1100,452 Q1135,418 1178,452 Q1184,475 1186,505 Q1140,500 1100,470 Z" fill="#94c0e3" opacity="0.75"/><path d="M1312,452 Q1277,418 1234,452 Q1228,475 1226,505 Q1272,500 1312,470 Z" fill="#94c0e3" opacity="0.75"/><path d="M1140,440 Q1185,470 1188,552 Q1190,585 1203,585 Q1216,585 1218,552 Q1222,470 1268,440 Q1205,462 1140,440 Z" fill="url(#fun)"/><path d="M912,260 L920,555 L1287,640 L1475,498" fill="none" stroke="#1a1a1a" stroke-width="4"/><line x1="910" y1="317" x2="919" y2="317" stroke="#1a1a1a" stroke-width="3"/><line x1="911" y1="379" x2="920" y2="379" stroke="#1a1a1a" stroke-width="3"/><line x1="912" y1="444" x2="921" y2="444" stroke="#1a1a1a" stroke-width="3"/><line x1="913" y1="507" x2="922" y2="507" stroke="#1a1a1a" stroke-width="3"/><line x1="1010" y1="576" x2="1013" y2="567" stroke="#1a1a1a" stroke-width="3"/><line x1="1098" y1="596" x2="1101" y2="587" stroke="#1a1a1a" stroke-width="3"/><line x1="1185" y1="617" x2="1188" y2="608" stroke="#1a1a1a" stroke-width="3"/><line x1="1335" y1="604" x2="1326" y2="601" stroke="#1a1a1a" stroke-width="3"/><line x1="1383" y1="568" x2="1374" y2="565" stroke="#1a1a1a" stroke-width="3"/><line x1="1430" y1="532" x2="1421" y2="529" stroke="#1a1a1a" stroke-width="3"/><text x="838" y="333" font-size="37" text-anchor="middle" fill="#222" font-family="'Liberation Sans',sans-serif">1.6</text><text x="838" y="396" font-size="37" text-anchor="middle" fill="#222" font-family="'Liberation Sans',sans-serif">1.4</text><text x="838" y="461" font-size="37" text-anchor="middle" fill="#222" font-family="'Liberation Sans',sans-serif">1.2</text><text x="845" y="524" font-size="37" text-anchor="middle" fill="#222" font-family="'Liberation Sans',sans-serif">1.0</text><text x="845" y="586" font-size="37" text-anchor="middle" fill="#222" font-family="'Liberation Sans',sans-serif">0.8</text><text x="902" y="641" font-size="37" text-anchor="middle" fill="#222" font-family="'Liberation Sans',sans-serif">−2</text><text x="985" y="663" font-size="37" text-anchor="middle" fill="#222" font-family="'Liberation Sans',sans-serif">−1</text><text x="1070" y="684" font-size="37" text-anchor="middle" fill="#222" font-family="'Liberation Sans',sans-serif">0</text><text x="1158" y="704" font-size="37" text-anchor="middle" fill="#222" font-family="'Liberation Sans',sans-serif">1</text><text x="1248" y="726" font-size="37" text-anchor="middle" fill="#222" font-family="'Liberation Sans',sans-serif">2</text><text x="1337" y="718" font-size="37" text-anchor="middle" fill="#222" font-family="'Liberation Sans',sans-serif">2</text><text x="1385" y="679" font-size="37" text-anchor="middle" fill="#222" font-family="'Liberation Sans',sans-serif">1</text><text x="1432" y="643" font-size="37" text-anchor="middle" fill="#222" font-family="'Liberation Sans',sans-serif">0</text><text x="1475" y="609" font-size="37" text-anchor="middle" fill="#222" font-family="'Liberation Sans',sans-serif">−1</text><text x="1518" y="576" font-size="37" text-anchor="middle" fill="#222" font-family="'Liberation Sans',sans-serif">−2</text><polygon points="932,1254 1114,1124 1465,1202 1283,1332" fill="#62a0cf"/><path d="M1030,1150 L1030,1212 A175,50 0 0 0 1380,1212 L1380,1150 A175,48 0 0 0 1030,1150 Z" fill="#6aa5d4"/><ellipse cx="1205" cy="1150" rx="175" ry="48" fill="#78aedb"/><ellipse cx="1205" cy="1158" rx="140" ry="34" fill="#649fd1"/><path d="M1036,1212 Q1075,1185 1120,1215 Q1150,1250 1165,1290 Q1090,1270 1036,1235 Z" fill="#8fbde1" opacity="0.6"/><path d="M1374,1212 Q1335,1185 1290,1215 Q1260,1250 1245,1290 Q1320,1270 1374,1235 Z" fill="#8fbde1" opacity="0.6"/><path d="M1048,1195 Q1140,1225 1170,1300 Q1190,1335 1205,1335 Q1222,1335 1240,1300 Q1270,1225 1362,1195 Q1205,1250 1048,1195 Z" fill="url(#fun)"/><path d="M912,1027 L920,1322 L1287,1407 L1475,1265" fill="none" stroke="#1a1a1a" stroke-width="4"/><line x1="910" y1="1084" x2="919" y2="1084" stroke="#1a1a1a" stroke-width="3"/><line x1="911" y1="1146" x2="920" y2="1146" stroke="#1a1a1a" stroke-width="3"/><line x1="912" y1="1211" x2="921" y2="1211" stroke="#1a1a1a" stroke-width="3"/><line x1="913" y1="1274" x2="922" y2="1274" stroke="#1a1a1a" stroke-width="3"/><line x1="1010" y1="1343" x2="1013" y2="1334" stroke="#1a1a1a" stroke-width="3"/><line x1="1098" y1="1363" x2="1101" y2="1354" stroke="#1a1a1a" stroke-width="3"/><line x1="1185" y1="1384" x2="1188" y2="1375" stroke="#1a1a1a" stroke-width="3"/><line x1="1335" y1="1371" x2="1326" y2="1368" stroke="#1a1a1a" stroke-width="3"/><line x1="1383" y1="1335" x2="1374" y2="1332" stroke="#1a1a1a" stroke-width="3"/><line x1="1430" y1="1299" x2="1421" y2="1296" stroke="#1a1a1a" stroke-width="3"/><text x="838" y="1100" font-size="37" text-anchor="middle" fill="#222" font-family="'Liberation Sans',sans-serif">1.6</text><text x="838" y="1163" font-size="37" text-anchor="middle" fill="#222" font-family="'Liberation Sans',sans-serif">1.4</text><text x="838" y="1228" font-size="37" text-anchor="middle" fill="#222" font-family="'Liberation Sans',sans-serif">1.2</text><text x="845" y="1291" font-size="37" text-anchor="middle" fill="#222" font-family="'Liberation Sans',sans-serif">1.0</text><text x="845" y="1353" font-size="37" text-anchor="middle" fill="#222" font-family="'Liberation Sans',sans-serif">0.8</text><text x="902" y="1408" font-size="37" text-anchor="middle" fill="#222" font-family="'Liberation Sans',sans-serif">−2</text><text x="985" y="1430" font-size="37" text-anchor="middle" fill="#222" font-family="'Liberation Sans',sans-serif">−1</text><text x="1070" y="1451" font-size="37" text-anchor="middle" fill="#222" font-family="'Liberation Sans',sans-serif">0</text><text x="1158" y="1471" font-size="37" text-anchor="middle" fill="#222" font-family="'Liberation Sans',sans-serif">1</text><text x="1248" y="1493" font-size="37" text-anchor="middle" fill="#222" font-family="'Liberation Sans',sans-serif">2</text><text x="1337" y="1485" font-size="37" text-anchor="middle" fill="#222" font-family="'Liberation Sans',sans-serif">2</text><text x="1385" y="1446" font-size="37" text-anchor="middle" fill="#222" font-family="'Liberation Sans',sans-serif">1</text><text x="1432" y="1410" font-size="37" text-anchor="middle" fill="#222" font-family="'Liberation Sans',sans-serif">0</text><text x="1475" y="1376" font-size="37" text-anchor="middle" fill="#222" font-family="'Liberation Sans',sans-serif">−1</text><text x="1518" y="1343" font-size="37" text-anchor="middle" fill="#222" font-family="'Liberation Sans',sans-serif">−2</text><rect x="1597" y="315" width="33" height="1117" fill="url(#cb)" stroke="#444" stroke-width="2"/><line x1="1630" y1="317" x2="1643" y2="317" stroke="#1a1a1a" stroke-width="3"/><text x="1657" y="329" font-size="37" fill="#222" font-family="'Liberation Sans',sans-serif">2.0</text><line x1="1630" y1="687" x2="1643" y2="687" stroke="#1a1a1a" stroke-width="3"/><text x="1657" y="699" font-size="37" fill="#222" font-family="'Liberation Sans',sans-serif">1.5</text><line x1="1630" y1="1060" x2="1643" y2="1060" stroke="#1a1a1a" stroke-width="3"/><text x="1657" y="1072" font-size="37" fill="#222" font-family="'Liberation Sans',sans-serif">1.0</text><line x1="1630" y1="1432" x2="1643" y2="1432" stroke="#1a1a1a" stroke-width="3"/><text x="1657" y="1444" font-size="37" fill="#222" font-family="'Liberation Sans',sans-serif">0.5</text></g></svg>
<div class="t" id="t74" style="left:878.1px;top:1017.9px;font-family:'Liberation Sans',sans-serif;font-size:19.5px;font-weight:normal;color:#000;">Output</div>
<div class="t" id="t75" style="left:691.8px;top:1114.1px;font-family:'Liberation Sans',sans-serif;font-size:19.5px;font-weight:normal;color:#000;">Input</div>
<div class="t" id="t76" style="left:840.1px;top:1041.8px;font-family:'Liberation Sans',sans-serif;font-size:16.3px;font-weight:normal;color:#000;font-style:italic;transform:scaleX(1.1736);">h(t<span style="font-style:normal"> = 0.5, </span>x<sub class="s" style="font-style:normal">1</sub><span style="font-style:normal">, </span>x<sub class="s" style="font-style:normal">2</sub><span style="font-style:normal">)</span></div>
<div class="t" id="t77" style="left:658.7px;top:1136.7px;font-family:'Liberation Sans',sans-serif;font-size:16.3px;font-weight:normal;color:#000;font-style:italic;transform:scaleX(1.0706);">h(t<span style="font-style:normal"> = 0, </span>x<sub class="s" style="font-style:normal">1</sub><span style="font-style:normal">, </span>x<sub class="s" style="font-style:normal">2</sub><span style="font-style:normal">)</span></div>
<div class="t" id="t78" style="left:848.4px;top:1237.5px;font-family:'Liberation Sans',sans-serif;font-size:16.3px;font-weight:normal;color:#000;font-style:italic;transform:scaleX(1.1668);">h(t<span style="font-style:normal"> = 1, </span>x<sub class="s" style="font-style:normal">1</sub><span style="font-style:normal">, </span>x<sub class="s" style="font-style:normal">2</sub><span style="font-style:normal">)</span></div>
<svg style="left:0;top:0" width="1100" height="1900"><rect x="44.9" y="1638" width="410" height="160" fill="#fff" stroke="#000" stroke-width="1.2"/><rect x="620.2" y="1569.3" width="239.4" height="275" fill="#9DC3E6" stroke="#3b68b0" stroke-width="1"/><rect x="477.5" y="1661.4" width="111" height="75.8" rx="11" fill="#FFE699" stroke="#000" stroke-width="1.1"/><rect x="901.3" y="1661.4" width="111" height="75.8" rx="11" fill="#FFE699" stroke="#000" stroke-width="1.1"/><line x1="588.6" y1="1698.0" x2="618.1" y2="1605.4" stroke="#000" stroke-width="1.3"/><polygon points="620.2,1598.7 620.5,1606.1 615.7,1604.6" fill="#000"/><line x1="588.6" y1="1698.0" x2="614.7" y2="1677.9" stroke="#000" stroke-width="1.3"/><polygon points="620.2,1673.6 616.2,1679.9 613.1,1675.9" fill="#000"/><line x1="588.6" y1="1698.0" x2="618.4" y2="1808.9" stroke="#000" stroke-width="1.3"/><polygon points="620.2,1815.7 616.0,1809.6 620.8,1808.3" fill="#000"/><line x1="859.8" y1="1637.0" x2="897.3" y2="1691.2" stroke="#000" stroke-width="1.1"/><polygon points="901.3,1697.0 895.3,1692.7 899.4,1689.8" fill="#000"/><line x1="859.8" y1="1678.2" x2="894.9" y2="1694.1" stroke="#000" stroke-width="1.1"/><polygon points="901.3,1697.0 893.9,1696.4 896.0,1691.8" fill="#000"/><line x1="859.8" y1="1770.4" x2="897.9" y2="1703.1" stroke="#000" stroke-width="1.1"/><polygon points="901.3,1697.0 900.0,1704.3 895.7,1701.9" fill="#000"/></svg>
<div class="t" id="t79" style="left:636.1px;top:1692.0px;font-family:'Liberation Sans',sans-serif;font-size:29px;font-weight:normal;color:#fff;transform:scaleX(1.0298);">Neural Network</div>
<div class="t" id="t80" style="left:52.7px;top:1648.1px;font-family:'Liberation Sans',sans-serif;font-size:20.5px;font-weight:normal;color:#000;transform:scaleX(1.0487);">Find a map <span class="r" style="font-family:'Liberation Serif',serif;font-style:italic;font-weight:bold;font-size:118%">G<span style="font-weight:normal;font-style:normal">: </span>u<span style="font-weight:normal">(</span>x<span style="font-weight:normal">)</span> <span style="display:inline-block;position:relative;font-style:normal;font-weight:normal">→<span style="position:absolute;left:1px;top:0.40em;height:0.34em;border-left:1.6px solid currentColor"></span></span> v<span style="font-weight:normal">(</span>t<span style="font-weight:normal">,</span> x<span style="font-weight:normal">)</span></span> s.t.</div>
<div class="t" id="t81" style="left:73.4px;top:1683.2px;font-family:'Liberation Serif',serif;font-size:26px;font-weight:normal;color:#000;font-style:italic;transform:scaleX(1.1608);">L<sub class="s">PDE</sub> <span style="font-style:normal">=</span> f<span style="font-style:normal">&thinsp;(</span>v<span style="font-style:normal">,</span> v<sub class="s">t</sub><span style="font-style:normal">,</span> v<sub class="s">x</sub><span style="font-style:normal">,</span> v<sub class="s">xx</sub><span style="font-style:normal">, … ) = 0</span></div>
<div class="t" id="t82" style="left:105.2px;top:1721.9px;font-family:'Liberation Serif',serif;font-size:26px;font-weight:normal;color:#000;font-style:italic;transform:scaleX(1.2169);">L<sub class="s">IC</sub> <span style="font-style:normal">=</span> v<span style="font-style:normal">(0,</span> x<span style="font-style:normal">) − </span><span class="r">u<span style="font-style:normal">(</span>x<span style="font-style:normal">)</span></span> <span style="font-style:normal">= 0</span></div>
<div class="t" id="t83" style="left:109.4px;top:1760.2px;font-family:'Liberation Serif',serif;font-size:26px;font-weight:normal;color:#000;font-style:italic;transform:scaleX(1.2580);">L<sub class="s">BC</sub> <span style="font-style:normal">=</span>&nbsp; v<span style="font-style:normal">|</span><sub class="s"><span style="font-style:normal">∂Ω</span></sub> <span style="font-style:normal">−</span> h<span style="font-style:normal">(</span>t<span style="font-style:normal">,</span> x<span style="font-style:normal">)|</span><sub class="s"><span style="font-style:normal">∂Ω</span></sub></div>
<div class="t" id="t84" style="left:514.5px;top:1686.7px;font-family:'Liberation Serif',serif;font-size:23px;font-weight:normal;color:#000;font-style:italic;">u<span style="font-style:normal">(</span>x<span style="font-style:normal">)</span></div>
<div class="t" id="t85" style="left:907.5px;top:1688.7px;font-family:'Liberation Serif',serif;font-size:23px;font-weight:normal;color:#000;font-style:italic;transform:scaleX(1.3103);">v<sup class="s">nn</sup><span style="font-style:normal">(</span>t<span style="font-style:normal">,</span> x<span style="font-style:normal">)</span></div>
<svg style="left:0;top:0" width="1200" height="2304"><g transform="translate(0 1900) scale(0.4932)"><rect x="109" y="210" width="129" height="208" fill="#fff" stroke="#000" stroke-width="2.4"/><text x="122" y="255" font-size="37" font-style="italic" font-family="'Liberation Serif',serif">u<tspan font-style="normal">(</tspan>x<tspan font-size="25" dy="7" font-style="normal">1</tspan><tspan dy="-7" font-style="normal">)</tspan></text><text x="122" y="302" font-size="37" font-style="italic" font-family="'Liberation Serif',serif">u<tspan font-style="normal">(</tspan>x<tspan font-size="25" dy="7" font-style="normal">2</tspan><tspan dy="-7" font-style="normal">)</tspan></text><text x="122" y="395" font-size="37" font-style="italic" font-family="'Liberation Serif',serif">u<tspan font-style="normal">(</tspan>x<tspan font-size="25" dy="7" font-style="italic">m</tspan><tspan dy="-7" font-style="normal">)</tspan></text><text x="122" y="340" font-size="37" font-family="'Liberation Serif',serif">· · ·</text><text x="28" y="325" font-size="38" font-style="italic" font-family="'Liberation Serif',serif">u</text><text x="162" y="648" font-size="38" font-style="italic" font-family="'Liberation Serif',serif">y</text><line x1="65.0" y1="315.0" x2="89.0" y2="315.0" stroke="#000" stroke-width="3.0"/><polygon points="106.0,315.0 89.0,321.0 89.0,309.0" fill="#000"/><line x1="238.0" y1="315.0" x2="272.0" y2="315.0" stroke="#000" stroke-width="3.0"/><polygon points="289.0,315.0 272.0,321.0 272.0,309.0" fill="#000"/><line x1="200.0" y1="638.0" x2="272.0" y2="638.0" stroke="#000" stroke-width="3.0"/><polygon points="289.0,638.0 272.0,644.0 272.0,632.0" fill="#000"/><rect x="290" y="290" width="215" height="51" fill="#B0B0FF" stroke="#000" stroke-width="2.4"/><text x="397.5" y="328" font-size="35" text-anchor="middle" font-family="'Liberation Sans',sans-serif">Branch net</text><rect x="290" y="614" width="215" height="51" fill="#B0B0FF" stroke="#000" stroke-width="2.4"/><text x="397.5" y="652" font-size="35" text-anchor="middle" font-family="'Liberation Sans',sans-serif">Trunk net</text><rect x="517" y="147" width="235" height="656" rx="42" fill="none" stroke="#e8141c" stroke-width="3.2" stroke-dasharray="13 9"/><rect x="548" y="163" width="102" height="291" fill="#fff" stroke="#000" stroke-width="2.4"/><rect x="548" y="488" width="102" height="291" fill="#fff" stroke="#000" stroke-width="2.4"/><circle cx="598" cy="203" r="23" fill="#d0d0d0" stroke="#000" stroke-width="2.2"/><text x="585" y="213" font-size="33" font-style="italic" font-family="'Liberation Serif',serif">b<tspan font-size="22" dy="6" font-style="normal">1</tspan></text><circle cx="598" cy="283" r="23" fill="#d0d0d0" stroke="#000" stroke-width="2.2"/><text x="585" y="293" font-size="33" font-style="italic" font-family="'Liberation Serif',serif">b<tspan font-size="22" dy="6" font-style="normal">2</tspan></text><circle cx="598" cy="415" r="23" fill="#d0d0d0" stroke="#000" stroke-width="2.2"/><text x="585" y="425" font-size="33" font-style="italic" font-family="'Liberation Serif',serif">b<tspan font-size="22" dy="6" font-style="italic">p</tspan></text><circle cx="598" cy="527" r="23" fill="#d0d0d0" stroke="#000" stroke-width="2.2"/><text x="585" y="537" font-size="33" font-style="italic" font-family="'Liberation Serif',serif">t<tspan font-size="22" dy="6" font-style="normal">1</tspan></text><circle cx="598" cy="606" r="23" fill="#d0d0d0" stroke="#000" stroke-width="2.2"/><text x="585" y="616" font-size="33" font-style="italic" font-family="'Liberation Serif',serif">t<tspan font-size="22" dy="6" font-style="normal">2</tspan></text><circle cx="598" cy="739" r="23" fill="#d0d0d0" stroke="#000" stroke-width="2.2"/><text x="585" y="749" font-size="33" font-style="italic" font-family="'Liberation Serif',serif">t<tspan font-size="22" dy="6" font-style="italic">p</tspan></text><text x="598" y="354" font-size="34" text-anchor="middle" font-family="'Liberation Serif',serif">···</text><text x="598" y="678" font-size="34" text-anchor="middle" font-family="'Liberation Serif',serif">···</text><line x1="505.0" y1="315.0" x2="567.3" y2="238.2" stroke="#000" stroke-width="3.0"/><polygon points="578.0,225.0 572.0,242.0 562.6,234.4" fill="#000"/><line x1="505.0" y1="315.0" x2="558.9" y2="296.5" stroke="#000" stroke-width="3.0"/><polygon points="575.0,291.0 560.9,302.2 557.0,290.8" fill="#000"/><line x1="505.0" y1="315.0" x2="566.5" y2="381.5" stroke="#000" stroke-width="3.0"/><polygon points="578.0,394.0 562.1,385.6 570.9,377.4" fill="#000"/><line x1="505.0" y1="638.0" x2="567.2" y2="562.1" stroke="#000" stroke-width="3.0"/><polygon points="578.0,549.0 571.9,565.9 562.6,558.3" fill="#000"/><line x1="505.0" y1="638.0" x2="558.8" y2="620.3" stroke="#000" stroke-width="3.0"/><polygon points="575.0,615.0 560.7,626.0 557.0,614.6" fill="#000"/><line x1="505.0" y1="638.0" x2="566.5" y2="704.5" stroke="#000" stroke-width="3.0"/><polygon points="578.0,717.0 562.1,708.6 570.9,700.4" fill="#000"/><line x1="650.0" y1="310.0" x2="704.5" y2="441.3" stroke="#000" stroke-width="3.0"/><polygon points="711.0,457.0 698.9,443.6 710.0,439.0" fill="#000"/><line x1="650.0" y1="633.0" x2="703.5" y2="524.3" stroke="#000" stroke-width="3.0"/><polygon points="711.0,509.0 708.9,526.9 698.1,521.6" fill="#000"/><circle cx="721" cy="483" r="22" fill="#d0d0d0" stroke="#000" stroke-width="2.2"/><path d="M709,471 L733,495 M733,471 L709,495" stroke="#000" stroke-width="2.2"/><line x1="744.0" y1="483.0" x2="779.0" y2="483.0" stroke="#000" stroke-width="3.0"/><polygon points="796.0,483.0 779.0,489.0 779.0,477.0" fill="#000"/><text x="812" y="495" font-size="39" font-style="italic" font-family="'Liberation Serif',serif">G<tspan font-style="normal">(</tspan>u<tspan font-style="normal">)(</tspan>y<tspan font-style="normal">)</tspan></text><path d="M1535,160 C1490,150 1515,125 1455,116 C1250,88 850,88 652,137" fill="none" stroke="#e8141c" stroke-width="2.4"/><polygon points="636,142 657,128 661,143" fill="#e8141c"/><rect x="1300" y="158" width="958" height="407" fill="#fff" stroke="#000" stroke-width="2.4"/><text x="1348" y="278" font-size="54" font-style="italic" font-family="'Liberation Serif',serif" textLength="209" lengthAdjust="spacingAndGlyphs"><tspan fill="#C55A11">b<tspan font-size="36" dy="12" font-style="normal">1</tspan><tspan dy="-12" font-style="normal">×</tspan></tspan><tspan fill="#00A651">t<tspan font-size="36" dy="12" font-style="normal">1</tspan><tspan dy="-12" font-style="normal">(</tspan>y<tspan font-style="normal">)</tspan></tspan></text><text x="1348" y="390" font-size="54" font-style="italic" font-family="'Liberation Serif',serif" textLength="209" lengthAdjust="spacingAndGlyphs"><tspan fill="#C55A11">b<tspan font-size="36" dy="12" font-style="normal">2</tspan><tspan dy="-12" font-style="normal">×</tspan></tspan><tspan fill="#00A651">t<tspan font-size="36" dy="12" font-style="normal">2</tspan><tspan dy="-12" font-style="normal">(</tspan>y<tspan font-style="normal">)</tspan></tspan></text><text x="1348" y="525" font-size="54" font-style="italic" font-family="'Liberation Serif',serif" textLength="218" lengthAdjust="spacingAndGlyphs"><tspan fill="#C55A11">b<tspan font-size="36" dy="12" font-style="italic">p</tspan><tspan dy="-12" font-style="normal">×</tspan></tspan><tspan fill="#00A651">t<tspan font-size="36" dy="12" font-style="italic">p</tspan><tspan dy="-12" font-style="normal">(</tspan>y<tspan font-style="normal">)</tspan></tspan></text><path d="M1575,293 C1585,250 1595,228 1607,228 C1630,228 1640,292 1665,292 C1690,292 1720,262 1748,240" fill="none" stroke="#22B14C" stroke-width="4.2" stroke-linecap="round"/><path d="M1585,378 C1620,355 1640,327 1660,327 C1685,327 1685,392 1710,392 C1725,392 1740,388 1752,387" fill="none" stroke="#22B14C" stroke-width="4.2" stroke-linecap="round"/><path d="M1592,546 C1615,515 1635,480 1657,480 C1685,480 1715,520 1745,546" fill="none" stroke="#22B14C" stroke-width="4.2" stroke-linecap="round"/><g fill="#000"><circle cx="1660" cy="425" r="3.2"/><circle cx="1660" cy="438" r="3.2"/><circle cx="1660" cy="451" r="3.2"/></g><path d="M1780,215 Q1822,215 1822,245 L1822,355 Q1822,382 1862,382 Q1822,382 1822,410 L1822,520 Q1822,550 1780,550" fill="none" stroke="#f0505a" stroke-width="2.4"/><text x="1781" y="202" font-size="33" fill="#e8141c" font-family="'Liberation Sans',sans-serif">sum</text><text x="1972" y="267" font-size="52" font-style="italic" fill="#ee1111" font-family="'Liberation Serif',serif" textLength="186" lengthAdjust="spacingAndGlyphs">G<tspan font-style="normal">(</tspan>u<tspan font-style="normal">)(</tspan>y<tspan font-style="normal">)</tspan></text><path d="M1884,404 C1960,425 1925,300 1942,300 C1975,300 2130,478 2162,478 C2185,478 2160,385 2195,385 L2253,383" fill="none" stroke="#ff0000" stroke-width="11" stroke-linejoin="round"/></g></svg>
<div class="t" id="t86" style="left:117.1px;top:1946.4px;font-family:'Liberation Sans',sans-serif;font-size:22.7px;font-weight:bold;color:#000;transform:scaleX(1.0929);">DeepONet</div>
<div class="t" id="t87" style="left:446.5px;top:2199.6px;font-family:'Liberation Sans',sans-serif;font-size:23.6px;font-weight:normal;color:#000;word-spacing:5.162px;">The linear approximation of the DeepONet has limitations when</div>
<div class="t" id="t88" style="left:446.5px;top:2227.7px;font-family:'Liberation Sans',sans-serif;font-size:23.6px;font-weight:normal;color:#000;word-spacing:6.925px;">approximating <span style="color:#e8141c">discontinuous</span> or <span style="color:#e8141c">sharp</span> <b>target function</b>.</div>
<div class="t" id="t89" style="left:446.8px;top:2259.1px;font-family:'Liberation Sans',sans-serif;font-size:18.6px;font-weight:normal;color:#000;word-spacing:5.141px;">-&gt; The DeepONet needs large number of parameters (complexity).</div>
<div class="a" style="left:1150px;top:1150px;width:1026px;height:190px;border-radius:10px;background:#777;filter:blur(3.5px);opacity:0.85"></div>
<div class="a" style="left:1139.5px;top:1095px;width:1034px;height:240px;border-radius:10px;background:linear-gradient(#272782 0,#272782 41.5px,#EAEAF4 47.5px,#EAEAF4 100%);"></div>
<div class="t" id="t90" style="left:1151.2px;top:1100.7px;font-family:'Liberation Sans',sans-serif;font-size:32.5px;font-weight:normal;color:#fff;transform:scaleX(0.9847);">Theorem</div>
<div class="t" id="t91" style="left:1152.0px;top:1167.1px;font-family:'Liberation Sans',sans-serif;font-size:30px;font-weight:normal;color:#000;font-style:italic;transform:scaleX(1.0306);">(Complexity of DeepONet) Suppose that the class of branch net <i class="m" style="font-size:108%">B</i> has a</div>
<div class="t" id="t92" style="left:1152.0px;top:1207.1px;font-family:'Liberation Sans',sans-serif;font-size:30px;font-weight:normal;color:#000;font-style:italic;transform:scaleX(1.0707);">bounded Sobolev norm (i.e., <span style="font-style:normal;letter-spacing:-0.06em;font-size:105%">||</span><i class="m">&thinsp;β</i><span style="font-style:normal;letter-spacing:-0.06em;font-size:105%">||</span><sup class="s" style="top:-0.5em;font-size:66%">s</sup><sub class="s" style="margin-left:-0.36em;font-size:66%;top:0.3em">r</sub> <span style="font-style:normal;font-family:'Liberation Serif',serif">≤</span> l<sub class="s" style="font-style:normal">1</sub><span style="font-style:normal;font-family:'Liberation Serif',serif">,</span>&thinsp;<svg class="il" width="0.6em" height="0.72em" viewBox="0 0 12 14"><path d="M0.8,0.5 L6,13.5 L11.2,0.5 M2.9,5.6 H9.1" fill="none" stroke="currentColor" stroke-width="1.1"/></svg><i class="m">β</i> <svg class="il" width="0.62em" height="0.62em" viewBox="0 0 14 14"><path d="M13,1.2 H7.2 A5.8,5.8 0 0 0 7.2,12.8 H13 M1.6,7 H13" fill="none" stroke="currentColor" stroke-width="1.1"/></svg> <i class="m" style="font-size:108%">B</i>). In that case, the number</div>
<div class="t" id="t93" style="left:1152.0px;top:1248.3px;font-family:'Liberation Sans',sans-serif;font-size:30px;font-weight:normal;color:#000;font-style:italic;transform:scaleX(1.0866);">of parameters in the class of trunk net <i class="m" style="font-size:108%">T</i> is <b style="font-style:normal">Ω(<i class="m">ϵ</i><sup class="s" style="font-style:italic;top:-0.5em">−d<sub class="s" style="font-size:72%">y</sub>/r</sup>)</b> when</div>
<div class="t" id="t94" style="left:1152.0px;top:1288.3px;font-family:'Liberation Sans',sans-serif;font-size:30px;font-weight:normal;color:#000;font-style:italic;transform:scaleX(1.2623);">d<span style="font-style:normal;font-family:'Liberation Serif',serif">(</span><i class="m" style="font-size:108%">F</i><sub class="s">DeepONet</sub><span style="font-style:normal;font-family:'Liberation Serif',serif">(</span><i class="m" style="font-size:108%">B</i><span style="font-style:normal;font-family:'Liberation Serif',serif">,</span> <i class="m" style="font-size:108%">T</i><span style="font-style:normal;font-family:'Liberation Serif',serif">);</span>&thinsp;<i class="m" style="font-size:108%">W</i><sub class="s">r,d<sub class="s" style="font-size:72%">y</sub><span style="font-style:normal;font-family:'Liberation Serif',serif">+</span>m</sub><span style="font-style:normal;font-family:'Liberation Serif',serif">)</span> <span style="font-style:normal;font-family:'Liberation Serif',serif">≤</span> <i class="m">ϵ</i><span style="font-style:normal;font-family:'Liberation Serif',serif">.</span></div>
<svg style="left:0;top:0" width="2300" height="1700"><g transform="translate(1100 1360) scale(0.48895)"><text x="1330" y="112" font-size="44" font-style="italic" font-family="'Liberation Serif',serif">u</text><line x1="1370.0" y1="99.0" x2="1389.0" y2="99.0" stroke="#000" stroke-width="2.6"/><polygon points="1401.0,99.0 1389.0,104.0 1389.0,94.0" fill="#000"/><rect x="1412" y="17" width="108" height="171" fill="#fff" stroke="#555" stroke-width="2"/><text x="1418" y="55" font-size="29" font-style="italic" font-weight="bold" font-family="'Liberation Serif',serif">u<tspan font-style="normal" font-weight="normal">(</tspan>x<tspan font-size="20" dy="6" font-style="normal">1</tspan><tspan dy="-6" font-style="normal" font-weight="normal">)</tspan></text><text x="1418" y="95" font-size="29" font-style="italic" font-weight="bold" font-family="'Liberation Serif',serif">u<tspan font-style="normal" font-weight="normal">(</tspan>x<tspan font-size="20" dy="6" font-style="normal">2</tspan><tspan dy="-6" font-style="normal" font-weight="normal">)</tspan></text><text x="1418" y="172" font-size="29" font-style="italic" font-weight="bold" font-family="'Liberation Serif',serif">u<tspan font-style="normal" font-weight="normal">(</tspan>x<tspan font-size="20" dy="6" font-style="italic">m</tspan><tspan dy="-6" font-style="normal" font-weight="normal">)</tspan></text><text x="1458" y="128" font-size="26" font-weight="bold" text-anchor="middle" font-family="'Liberation Serif',serif">...</text><line x1="1527.0" y1="96.0" x2="1546.0" y2="96.0" stroke="#000" stroke-width="2.6"/><polygon points="1558.0,96.0 1546.0,101.0 1546.0,91.0" fill="#000"/><rect x="1565" y="42" width="273" height="79" rx="10" fill="#4472C4" stroke="#3a64ae" stroke-width="1.5"/><text x="1701" y="96" font-size="40" fill="#fff" text-anchor="middle" font-family="'Liberation Sans',sans-serif">Hyper-net</text><rect x="1347" y="215" width="776" height="370" rx="52" fill="none" stroke="#666" stroke-width="1.6" stroke-dasharray="2 2"/><path d="M1421,302L1597,280M1421,302L1597,322M1421,302L1597,365M1421,302L1597,409M1421,302L1597,453M1421,302L1597,496M1421,364L1597,280M1421,364L1597,322M1421,364L1597,365M1421,364L1597,409M1421,364L1597,453M1421,364L1597,496M1421,471L1597,280M1421,471L1597,322M1421,471L1597,365M1421,471L1597,409M1421,471L1597,453M1421,471L1597,496M1597,280L1701,280M1597,280L1701,322M1597,280L1701,365M1597,280L1701,409M1597,280L1701,453M1597,280L1701,496M1597,322L1701,280M1597,322L1701,322M1597,322L1701,365M1597,322L1701,409M1597,322L1701,453M1597,322L1701,496M1597,365L1701,280M1597,365L1701,322M1597,365L1701,365M1597,365L1701,409M1597,365L1701,453M1597,365L1701,496M1597,409L1701,280M1597,409L1701,322M1597,409L1701,365M1597,409L1701,409M1597,409L1701,453M1597,409L1701,496M1597,453L1701,280M1597,453L1701,322M1597,453L1701,365M1597,453L1701,409M1597,453L1701,453M1597,453L1701,496M1597,496L1701,280M1597,496L1701,322M1597,496L1701,365M1597,496L1701,409M1597,496L1701,453M1597,496L1701,496M1701,280L1806,280M1701,280L1806,322M1701,280L1806,365M1701,280L1806,409M1701,280L1806,453M1701,280L1806,496M1701,322L1806,280M1701,322L1806,322M1701,322L1806,365M1701,322L1806,409M1701,322L1806,453M1701,322L1806,496M1701,365L1806,280M1701,365L1806,322M1701,365L1806,365M1701,365L1806,409M1701,365L1806,453M1701,365L1806,496M1701,409L1806,280M1701,409L1806,322M1701,409L1806,365M1701,409L1806,409M1701,409L1806,453M1701,409L1806,496M1701,453L1806,280M1701,453L1806,322M1701,453L1806,365M1701,453L1806,409M1701,453L1806,453M1701,453L1806,496M1701,496L1806,280M1701,496L1806,322M1701,496L1806,365M1701,496L1806,409M1701,496L1806,453M1701,496L1806,496M1806,280L1921,383M1806,322L1921,383M1806,365L1921,383M1806,409L1921,383M1806,453L1921,383M1806,496L1921,383" stroke="#ff2020" stroke-opacity="0.7" stroke-width="1.15" fill="none"/><ellipse cx="1516" cy="383" rx="23" ry="127" fill="none" stroke="#e8141c" stroke-width="1.8" stroke-dasharray="6 4"/><text x="1516" y="375" font-size="35" font-weight="bold" fill="#ff0000" stroke="#fff" stroke-width="4" paint-order="stroke" text-anchor="middle" font-family="'Liberation Sans',sans-serif">W</text><text x="1516" y="426" font-size="35" font-weight="bold" fill="#ff0000" stroke="#fff" stroke-width="4" paint-order="stroke" text-anchor="middle" font-family="'Liberation Sans',sans-serif">b</text><ellipse cx="1650" cy="383" rx="23" ry="127" fill="none" stroke="#e8141c" stroke-width="1.8" stroke-dasharray="6 4"/><text x="1650" y="375" font-size="35" font-weight="bold" fill="#ff0000" stroke="#fff" stroke-width="4" paint-order="stroke" text-anchor="middle" font-family="'Liberation Sans',sans-serif">W</text><text x="1650" y="426" font-size="35" font-weight="bold" fill="#ff0000" stroke="#fff" stroke-width="4" paint-order="stroke" text-anchor="middle" font-family="'Liberation Sans',sans-serif">b</text><ellipse cx="1751" cy="383" rx="23" ry="127" fill="none" stroke="#e8141c" stroke-width="1.8" stroke-dasharray="6 4"/><text x="1751" y="375" font-size="35" font-weight="bold" fill="#ff0000" stroke="#fff" stroke-width="4" paint-order="stroke" text-anchor="middle" font-family="'Liberation Sans',sans-serif">W</text><text x="1751" y="426" font-size="35" font-weight="bold" fill="#ff0000" stroke="#fff" stroke-width="4" paint-order="stroke" text-anchor="middle" font-family="'Liberation Sans',sans-serif">b</text><ellipse cx="1858" cy="383" rx="23" ry="127" fill="none" stroke="#e8141c" stroke-width="1.8" stroke-dasharray="6 4"/><text x="1858" y="375" font-size="35" font-weight="bold" fill="#ff0000" stroke="#fff" stroke-width="4" paint-order="stroke" text-anchor="middle" font-family="'Liberation Sans',sans-serif">W</text><text x="1858" y="426" font-size="35" font-weight="bold" fill="#ff0000" stroke="#fff" stroke-width="4" paint-order="stroke" text-anchor="middle" font-family="'Liberation Sans',sans-serif">b</text><circle cx="1421" cy="302" r="14" fill="#BF9000" stroke="#7f6000" stroke-width="2"/><circle cx="1421" cy="364" r="14" fill="#BF9000" stroke="#7f6000" stroke-width="2"/><circle cx="1421" cy="471" r="14" fill="#BF9000" stroke="#7f6000" stroke-width="2"/><circle cx="1597" cy="280" r="12" fill="#BFBFBF" stroke="#404040" stroke-width="2"/><circle cx="1597" cy="322" r="12" fill="#BFBFBF" stroke="#404040" stroke-width="2"/><circle cx="1597" cy="365" r="12" fill="#BFBFBF" stroke="#404040" stroke-width="2"/><circle cx="1597" cy="409" r="12" fill="#BFBFBF" stroke="#404040" stroke-width="2"/><circle cx="1597" cy="453" r="12" fill="#BFBFBF" stroke="#404040" stroke-width="2"/><circle cx="1597" cy="496" r="12" fill="#BFBFBF" stroke="#404040" stroke-width="2"/><circle cx="1701" cy="280" r="12" fill="#BFBFBF" stroke="#404040" stroke-width="2"/><circle cx="1701" cy="322" r="12" fill="#BFBFBF" stroke="#404040" stroke-width="2"/><circle cx="1701" cy="365" r="12" fill="#BFBFBF" stroke="#404040" stroke-width="2"/><circle cx="1701" cy="409" r="12" fill="#BFBFBF" stroke="#404040" stroke-width="2"/><circle cx="1701" cy="453" r="12" fill="#BFBFBF" stroke="#404040" stroke-width="2"/><circle cx="1701" cy="496" r="12" fill="#BFBFBF" stroke="#404040" stroke-width="2"/><circle cx="1806" cy="280" r="12" fill="#BFBFBF" stroke="#404040" stroke-width="2"/><circle cx="1806" cy="322" r="12" fill="#BFBFBF" stroke="#404040" stroke-width="2"/><circle cx="1806" cy="365" r="12" fill="#BFBFBF" stroke="#404040" stroke-width="2"/><circle cx="1806" cy="409" r="12" fill="#BFBFBF" stroke="#404040" stroke-width="2"/><circle cx="1806" cy="453" r="12" fill="#BFBFBF" stroke="#404040" stroke-width="2"/><circle cx="1806" cy="496" r="12" fill="#BFBFBF" stroke="#404040" stroke-width="2"/><circle cx="1921" cy="383" r="14" fill="#C55A11" stroke="#843C0C" stroke-width="2"/><text x="1372" y="398" font-size="42" font-style="italic" font-family="'Liberation Serif',serif">y</text><g fill="#222"><circle cx="1422" cy="414" r="2.6"/><circle cx="1422" cy="425" r="2.6"/><circle cx="1422" cy="436" r="2.6"/></g><text x="1953" y="398" font-size="41" font-style="italic" font-family="'Liberation Serif',serif">G<tspan font-size="28" dy="7">θ</tspan><tspan dy="-7" font-style="normal">(</tspan>u<tspan font-style="normal">)(</tspan>y<tspan font-style="normal">)</tspan></text><path d="M1838,82 C1885,100 1872,150 1840,165 C1750,200 1560,185 1521,246" fill="none" stroke="#000" stroke-width="3"/><path d="M1838,82 C1890,110 1872,160 1830,175 C1760,195 1672,200 1653,246" fill="none" stroke="#000" stroke-width="3"/><path d="M1838,82 C1892,115 1872,170 1822,185 C1786,198 1762,215 1754,246" fill="none" stroke="#000" stroke-width="3"/><path d="M1838,82 C1866,100 1853,200 1858,270" fill="none" stroke="#000" stroke-width="3"/><polygon transform="translate(1516 260) rotate(20)" points="0,0 -7,-18 7,-18" fill="#000"/><polygon transform="translate(1650 260) rotate(15)" points="0,0 -7,-18 7,-18" fill="#000"/><polygon transform="translate(1751 260) rotate(12)" points="0,0 -7,-18 7,-18" fill="#000"/><polygon transform="translate(1859 284) rotate(0)" points="0,0 -7,-18 7,-18" fill="#000"/></g></svg>
<div class="t" id="t95" style="left:1887.8px;top:1654.4px;font-family:'Liberation Sans',sans-serif;font-size:17.3px;font-weight:bold;color:#000;transform:scaleX(0.9870);">Target network</div>
<div class="a" style="left:1137.2px;top:1875.60px;width:1035.9999999999998px;height:1.6px;background:#222;"></div>
<div class="a" style="left:1137.2px;top:1905.60px;width:1035.9999999999998px;height:1.2px;background:#222;"></div>
<div class="a" style="left:1137.2px;top:1964.60px;width:1035.9999999999998px;height:1.6px;background:#222;"></div>
<div class="t" id="t96" style="left:1196.5px;top:1875.7px;font-family:'Liberation Serif',serif;font-size:26.5px;font-weight:normal;color:#000;-webkit-text-stroke:0.3px #000;transform:scaleX(0.9684);">Model</div>
<div class="t" id="t97" style="left:1365.2px;top:1875.7px;font-family:'Liberation Serif',serif;font-size:26.5px;font-weight:normal;color:#000;-webkit-text-stroke:0.3px #000;transform:scaleX(0.9884);">DeepONet</div>
<div class="t" id="t98" style="left:1596.7px;top:1875.7px;font-family:'Liberation Serif',serif;font-size:26.5px;font-weight:normal;color:#000;-webkit-text-stroke:0.3px #000;transform:scaleX(0.9894);">Shift</div>
<div class="t" id="t99" style="left:1770.8px;top:1875.7px;font-family:'Liberation Serif',serif;font-size:26.5px;font-weight:normal;color:#000;-webkit-text-stroke:0.3px #000;transform:scaleX(0.9549);">Flex</div>
<div class="t" id="t100" style="left:1888.6px;top:1875.7px;font-family:'Liberation Serif',serif;font-size:26.5px;font-weight:normal;color:#000;-webkit-text-stroke:0.3px #000;transform:scaleX(0.9788);">NOMAD</div>
<div class="t" id="t101" style="left:2028.6px;top:1875.7px;font-family:'Liberation Serif',serif;font-size:26.5px;font-weight:normal;color:#000;-webkit-text-stroke:0.3px #000;transform:scaleX(0.9883);">Hyper(ours)</div>
<div class="t" id="t102" style="left:1189.5px;top:1905.0px;font-family:'Liberation Serif',serif;font-size:26.5px;font-weight:normal;color:#000;-webkit-text-stroke:0.3px #000;transform:scaleX(0.9826);">Identity</div>
<div class="t" id="t103" style="left:1339.5px;top:1905.0px;font-family:'Liberation Serif',serif;font-size:26.5px;font-weight:normal;color:#000;-webkit-text-stroke:0.3px #000;transform:scaleX(1.0239);">0.578±0.003</div>
<div class="t" id="t104" style="left:1509.2px;top:1905.0px;font-family:'Liberation Serif',serif;font-size:26.5px;font-weight:normal;color:#000;-webkit-text-stroke:0.3px #000;transform:scaleX(1.0239);">0.777±0.018</div>
<div class="t" id="t105" style="left:1679.4px;top:1905.0px;font-family:'Liberation Serif',serif;font-size:26.5px;font-weight:normal;color:#000;-webkit-text-stroke:0.3px #000;transform:scaleX(1.0239);">0.678±0.062</div>
<div class="t" id="t106" style="left:1849.0px;top:1905.0px;font-family:'Liberation Serif',serif;font-size:26.5px;font-weight:normal;color:#000;-webkit-text-stroke:0.3px #000;transform:scaleX(1.0239);">0.578±0.020</div>
<div class="t" id="t107" style="left:2018.7px;top:1905.0px;font-family:'Liberation Serif',serif;font-size:26.5px;font-weight:normal;color:#000;-webkit-text-stroke:0.3px #000;transform:scaleX(1.0314);"><b>0.036</b>±<b>0.005</b></div>
<div class="t" id="t108" style="left:1153.0px;top:1934.4px;font-family:'Liberation Serif',serif;font-size:26.5px;font-weight:normal;color:#000;-webkit-text-stroke:0.3px #000;transform:scaleX(0.9810);">Differentiation</div>
<div class="t" id="t109" style="left:1339.5px;top:1934.4px;font-family:'Liberation Serif',serif;font-size:26.5px;font-weight:normal;color:#000;-webkit-text-stroke:0.3px #000;transform:scaleX(1.0239);">0.559±0.001</div>
<div class="t" id="t110" style="left:1509.2px;top:1934.4px;font-family:'Liberation Serif',serif;font-size:26.5px;font-weight:normal;color:#000;-webkit-text-stroke:0.3px #000;transform:scaleX(1.0239);">0.624±0.015</div>
<div class="t" id="t111" style="left:1679.4px;top:1934.4px;font-family:'Liberation Serif',serif;font-size:26.5px;font-weight:normal;color:#000;-webkit-text-stroke:0.3px #000;transform:scaleX(1.0239);">0.562±0.016</div>
<div class="t" id="t112" style="left:1849.0px;top:1934.4px;font-family:'Liberation Serif',serif;font-size:26.5px;font-weight:normal;color:#000;-webkit-text-stroke:0.3px #000;transform:scaleX(1.0239);">0.558±0.003</div>
<div class="t" id="t113" style="left:2018.7px;top:1934.4px;font-family:'Liberation Serif',serif;font-size:26.5px;font-weight:normal;color:#000;-webkit-text-stroke:0.3px #000;transform:scaleX(1.0314);"><b>0.127</b>±<b>0.043</b></div>
<div class="a" style="left:2301.3px;top:1058.00px;width:1088.1px;height:1.5px;background:#222;"></div>
<div class="a" style="left:2301.3px;top:1082.45px;width:1088.1px;height:1.1px;background:#222;"></div>
<div class="a" style="left:2301.3px;top:1154.45px;width:1088.1px;height:1.1px;background:#222;"></div>
<div class="a" style="left:2301.3px;top:1226.20px;width:1088.1px;height:1.1px;background:#222;"></div>
<div class="a" style="left:2301.3px;top:1273.70px;width:1088.1px;height:1.1px;background:#222;"></div>
<div class="a" style="left:2301.3px;top:1321.75px;width:1088.1px;height:1.5px;background:#222;"></div>
<div class="t" id="t114" style="left:2634.4px;top:1058.3px;font-family:'Liberation Serif',serif;font-size:20px;font-weight:normal;color:#000;-webkit-text-stroke:0.3px #000;transform:scaleX(1.0655);">Branch net (Hypernetwork)</div>
<div class="t" id="t115" style="left:2981.9px;top:1058.3px;font-family:'Liberation Serif',serif;font-size:20px;font-weight:normal;color:#000;-webkit-text-stroke:0.3px #000;transform:scaleX(1.0607);">Target</div>
<div class="t" id="t116" style="left:3133.0px;top:1058.3px;font-family:'Liberation Serif',serif;font-size:20px;font-weight:normal;color:#000;-webkit-text-stroke:0.3px #000;transform:scaleX(1.1785);">#Param</div>
<div class="t" id="t117" style="left:3265.4px;top:1058.3px;font-family:'Liberation Serif',serif;font-size:20px;font-weight:normal;color:#000;-webkit-text-stroke:0.3px #000;transform:scaleX(1.0692);">Rel error</div>
<div class="t" id="t118" style="left:2336.9px;top:1107.0px;font-family:'Liberation Serif',serif;font-size:20px;font-weight:normal;color:#000;-webkit-text-stroke:0.3px #000;transform:scaleX(1.0563);">Advection</div>
<div class="t" id="t119" style="left:2347.5px;top:1178.8px;font-family:'Liberation Serif',serif;font-size:20px;font-weight:normal;color:#000;-webkit-text-stroke:0.3px #000;transform:scaleX(1.0600);">Burgers</div>
<div class="t" id="t120" style="left:2346.5px;top:1238.3px;font-family:'Liberation Serif',serif;font-size:20px;font-weight:normal;color:#000;-webkit-text-stroke:0.3px #000;transform:scaleX(1.0486);">Shallow</div>
<div class="t" id="t121" style="left:2346.5px;top:1274.0px;font-family:'Liberation Serif',serif;font-size:20px;font-weight:normal;color:#000;-webkit-text-stroke:0.3px #000;transform:scaleX(1.0486);">Shallow</div>
<div class="t" id="t122" style="left:2315.5px;top:1297.8px;font-family:'Liberation Serif',serif;font-size:20px;font-weight:normal;color:#000;-webkit-text-stroke:0.3px #000;transform:scaleX(1.0603);">w/ small param</div>
<div class="t" id="t123" style="left:2471.4px;top:1083.3px;font-family:'Liberation Serif',serif;font-size:20px;font-weight:normal;color:#000;-webkit-text-stroke:0.3px #000;transform:scaleX(1.0926);">DeepONet</div>
<div class="t" id="t124" style="left:2703.8px;top:1083.3px;font-family:'Liberation Serif',serif;font-size:20px;font-weight:normal;color:#000;-webkit-text-stroke:0.3px #000;transform:scaleX(1.0893);"><i style="font-size:104%">m</i>-256-256</div>
<div class="t" id="t125" style="left:2910.6px;top:1083.3px;font-family:'Liberation Serif',serif;font-size:20px;font-weight:normal;color:#000;-webkit-text-stroke:0.3px #000;transform:scaleX(1.0939);"><i>d</i><sub class="s" style="font-style:italic">y</sub>-256-256-256-256-1</div>
<div class="t" id="t126" style="left:3145.6px;top:1083.3px;font-family:'Liberation Serif',serif;font-size:20px;font-weight:normal;color:#000;-webkit-text-stroke:0.3px #000;transform:scaleX(1.0550);">274K</div>
<div class="t" id="t127" style="left:3236.6px;top:1083.3px;font-family:'Liberation Serif',serif;font-size:20px;font-weight:normal;color:#000;-webkit-text-stroke:0.3px #000;transform:scaleX(1.1084);">0.0046±0.0017</div>
<div class="t" id="t128" style="left:2471.4px;top:1107.0px;font-family:'Liberation Serif',serif;font-size:20px;font-weight:normal;color:#000;-webkit-text-stroke:0.3px #000;transform:scaleX(1.0839);">Hyper(ours)</div>
<div class="t" id="t129" style="left:2654.8px;top:1107.0px;font-family:'Liberation Serif',serif;font-size:20px;font-weight:normal;color:#000;-webkit-text-stroke:0.3px #000;transform:scaleX(1.1136);"><i style="font-size:104%">m</i>-70-70-70-70-70-<i>N</i><sub class="s" style="font-style:italic">θ</sub></div>
<div class="t" id="t130" style="left:2932.2px;top:1107.0px;font-family:'Liberation Serif',serif;font-size:20px;font-weight:normal;color:#000;-webkit-text-stroke:0.3px #000;transform:scaleX(1.0972);"><i>d</i><sub class="s" style="font-style:italic">y</sub>-33-33-33-33-1</div>
<div class="t" id="t131" style="left:3145.6px;top:1107.0px;font-family:'Liberation Serif',serif;font-size:20px;font-weight:normal;color:#000;-webkit-text-stroke:0.3px #000;transform:scaleX(1.0550);">268K</div>
<div class="t" id="t132" style="left:3236.6px;top:1107.0px;font-family:'Liberation Serif',serif;font-size:20px;font-weight:normal;color:#000;-webkit-text-stroke:0.3px #000;transform:scaleX(1.1084);">0.0048±0.0009</div>
<div class="t" id="t133" style="left:2471.4px;top:1130.8px;font-family:'Liberation Serif',serif;font-size:20px;font-weight:normal;color:#000;-webkit-text-stroke:0.3px #000;transform:scaleX(1.0831);">c-Hyper(ours)</div>
<div class="t" id="t134" style="left:2619.6px;top:1130.8px;font-family:'Liberation Serif',serif;font-size:20px;font-weight:normal;color:#000;-webkit-text-stroke:0.3px #000;transform:scaleX(1.0804);"><i style="font-size:104%">m</i>-128-128-128-128-128-1024</div>
<div class="t" id="t135" style="left:2910.6px;top:1130.8px;font-family:'Liberation Serif',serif;font-size:20px;font-weight:normal;color:#000;-webkit-text-stroke:0.3px #000;transform:scaleX(1.0939);"><i>d</i><sub class="s" style="font-style:italic">y</sub>-256-256-256-256-1</div>
<div class="t" id="t136" style="left:3145.6px;top:1130.8px;font-family:'Liberation Serif',serif;font-size:20px;font-weight:normal;color:#000;-webkit-text-stroke:0.3px #000;transform:scaleX(1.0550);">208K</div>
<div class="t" id="t137" style="left:3236.6px;top:1130.8px;font-family:'Liberation Serif',serif;font-size:20px;font-weight:normal;color:#000;-webkit-text-stroke:0.3px #000;transform:scaleX(1.1084);"><b>0.0043</b>±<b>0.0004</b></div>
<div class="t" id="t138" style="left:2471.4px;top:1155.0px;font-family:'Liberation Serif',serif;font-size:20px;font-weight:normal;color:#000;-webkit-text-stroke:0.3px #000;transform:scaleX(1.0926);">DeepONet</div>
<div class="t" id="t139" style="left:2664.4px;top:1155.0px;font-family:'Liberation Serif',serif;font-size:20px;font-weight:normal;color:#000;-webkit-text-stroke:0.3px #000;transform:scaleX(1.0824);"><i style="font-size:104%">m</i>-128-128-128-128</div>
<div class="t" id="t140" style="left:2910.6px;top:1155.0px;font-family:'Liberation Serif',serif;font-size:20px;font-weight:normal;color:#000;-webkit-text-stroke:0.3px #000;transform:scaleX(1.0939);"><i>d</i><sub class="s" style="font-style:italic">y</sub>-128-128-128-128-1</div>
<div class="t" id="t141" style="left:3145.6px;top:1155.0px;font-family:'Liberation Serif',serif;font-size:20px;font-weight:normal;color:#000;-webkit-text-stroke:0.3px #000;transform:scaleX(1.0731);">115K</div>
<div class="t" id="t142" style="left:3236.6px;top:1155.0px;font-family:'Liberation Serif',serif;font-size:20px;font-weight:normal;color:#000;-webkit-text-stroke:0.3px #000;transform:scaleX(1.1084);">0.0391±0.0040</div>
<div class="t" id="t143" style="left:2471.4px;top:1178.8px;font-family:'Liberation Serif',serif;font-size:20px;font-weight:normal;color:#000;-webkit-text-stroke:0.3px #000;transform:scaleX(1.0839);">Hyper(ours)</div>
<div class="t" id="t144" style="left:2654.8px;top:1178.8px;font-family:'Liberation Serif',serif;font-size:20px;font-weight:normal;color:#000;-webkit-text-stroke:0.3px #000;transform:scaleX(1.1136);"><i style="font-size:104%">m</i>-66-66-66-66-66-<i>N</i><sub class="s" style="font-style:italic">θ</sub></div>
<div class="t" id="t145" style="left:2932.2px;top:1178.8px;font-family:'Liberation Serif',serif;font-size:20px;font-weight:normal;color:#000;-webkit-text-stroke:0.3px #000;transform:scaleX(1.0972);"><i>d</i><sub class="s" style="font-style:italic">y</sub>-20-20-20-20-1</div>
<div class="t" id="t146" style="left:3145.6px;top:1178.8px;font-family:'Liberation Serif',serif;font-size:20px;font-weight:normal;color:#000;-webkit-text-stroke:0.3px #000;transform:scaleX(1.0731);">114K</div>
<div class="t" id="t147" style="left:3236.6px;top:1178.8px;font-family:'Liberation Serif',serif;font-size:20px;font-weight:normal;color:#000;-webkit-text-stroke:0.3px #000;transform:scaleX(1.1084);">0.0196±0.0044</div>
<div class="t" id="t148" style="left:2471.4px;top:1202.5px;font-family:'Liberation Serif',serif;font-size:20px;font-weight:normal;color:#000;-webkit-text-stroke:0.3px #000;transform:scaleX(1.0831);">c-Hyper(ours)</div>
<div class="t" id="t149" style="left:2651.9px;top:1202.5px;font-family:'Liberation Serif',serif;font-size:20px;font-weight:normal;color:#000;-webkit-text-stroke:0.3px #000;transform:scaleX(1.0811);"><i style="font-size:104%">m</i>-66-66-66-66-66-512</div>
<div class="t" id="t150" style="left:2910.6px;top:1202.5px;font-family:'Liberation Serif',serif;font-size:20px;font-weight:normal;color:#000;-webkit-text-stroke:0.3px #000;transform:scaleX(1.0939);"><i>d</i><sub class="s" style="font-style:italic">y</sub>-128-128-128-128-1</div>
<div class="t" id="t151" style="left:3145.6px;top:1202.5px;font-family:'Liberation Serif',serif;font-size:20px;font-weight:normal;color:#000;-webkit-text-stroke:0.3px #000;transform:scaleX(1.0731);">115K</div>
<div class="t" id="t152" style="left:3236.6px;top:1202.5px;font-family:'Liberation Serif',serif;font-size:20px;font-weight:normal;color:#000;-webkit-text-stroke:0.3px #000;transform:scaleX(1.1084);"><b>0.0066</b>±<b>0.0009</b></div>
<div class="t" id="t153" style="left:2471.4px;top:1226.5px;font-family:'Liberation Serif',serif;font-size:20px;font-weight:normal;color:#000;-webkit-text-stroke:0.3px #000;transform:scaleX(1.0926);">DeepONet</div>
<div class="t" id="t154" style="left:2664.2px;top:1226.5px;font-family:'Liberation Serif',serif;font-size:20px;font-weight:normal;color:#000;-webkit-text-stroke:0.3px #000;transform:scaleX(1.0855);"><i style="font-size:104%">m</i>-100-100-100-100</div>
<div class="t" id="t155" style="left:2910.6px;top:1226.5px;font-family:'Liberation Serif',serif;font-size:20px;font-weight:normal;color:#000;-webkit-text-stroke:0.3px #000;transform:scaleX(1.0939);"><i>d</i><sub class="s" style="font-style:italic">y</sub>-100-100-100-100-1</div>
<div class="t" id="t156" style="left:3145.6px;top:1226.5px;font-family:'Liberation Serif',serif;font-size:20px;font-weight:normal;color:#000;-webkit-text-stroke:0.3px #000;transform:scaleX(1.0550);">107K</div>
<div class="t" id="t157" style="left:3231.6px;top:1226.5px;font-family:'Liberation Serif',serif;font-size:20px;font-weight:normal;color:#000;-webkit-text-stroke:0.3px #000;transform:scaleX(1.1009);">0.0279 ± 0.0042</div>
<div class="t" id="t158" style="left:2471.4px;top:1250.3px;font-family:'Liberation Serif',serif;font-size:20px;font-weight:normal;color:#000;-webkit-text-stroke:0.3px #000;transform:scaleX(1.0839);">Hyper(ours)</div>
<div class="t" id="t159" style="left:2669.4px;top:1250.3px;font-family:'Liberation Serif',serif;font-size:20px;font-weight:normal;color:#000;-webkit-text-stroke:0.3px #000;transform:scaleX(1.1165);"><i style="font-size:104%">m</i>-30-30-30-30-<i>N</i><sub class="s" style="font-style:italic">θ</sub></div>
<div class="t" id="t160" style="left:2932.2px;top:1250.3px;font-family:'Liberation Serif',serif;font-size:20px;font-weight:normal;color:#000;-webkit-text-stroke:0.3px #000;transform:scaleX(1.0972);"><i>d</i><sub class="s" style="font-style:italic">y</sub>-30-30-30-30-1</div>
<div class="t" id="t161" style="left:3145.6px;top:1250.3px;font-family:'Liberation Serif',serif;font-size:20px;font-weight:normal;color:#000;-webkit-text-stroke:0.3px #000;transform:scaleX(1.0550);">101K</div>
<div class="t" id="t162" style="left:3231.6px;top:1250.3px;font-family:'Liberation Serif',serif;font-size:20px;font-weight:normal;color:#000;-webkit-text-stroke:0.3px #000;transform:scaleX(1.1009);"><b>0.0148 </b>±<b> 0.0002</b></div>
<div class="t" id="t163" style="left:2471.4px;top:1274.0px;font-family:'Liberation Serif',serif;font-size:20px;font-weight:normal;color:#000;-webkit-text-stroke:0.3px #000;transform:scaleX(1.0926);">DeepONet</div>
<div class="t" id="t164" style="left:2699.8px;top:1274.0px;font-family:'Liberation Serif',serif;font-size:20px;font-weight:normal;color:#000;-webkit-text-stroke:0.3px #000;transform:scaleX(1.0972);"><i style="font-size:104%">m</i>-20-20-10</div>
<div class="t" id="t165" style="left:2946.7px;top:1274.0px;font-family:'Liberation Serif',serif;font-size:20px;font-weight:normal;color:#000;-webkit-text-stroke:0.3px #000;transform:scaleX(1.1013);"><i>d</i><sub class="s" style="font-style:italic">y</sub>-20-20-10-1</div>
<div class="t" id="t166" style="left:3145.6px;top:1274.0px;font-family:'Liberation Serif',serif;font-size:20px;font-weight:normal;color:#000;-webkit-text-stroke:0.3px #000;transform:scaleX(1.1888);">6.5K</div>
<div class="t" id="t167" style="left:3231.6px;top:1274.0px;font-family:'Liberation Serif',serif;font-size:20px;font-weight:normal;color:#000;-webkit-text-stroke:0.3px #000;transform:scaleX(1.1009);">0.0391 ± 0.0066</div>
<div class="t" id="t168" style="left:2471.4px;top:1297.8px;font-family:'Liberation Serif',serif;font-size:20px;font-weight:normal;color:#000;-webkit-text-stroke:0.3px #000;transform:scaleX(1.0839);">Hyper(ours)</div>
<div class="t" id="t169" style="left:2681.0px;top:1297.8px;font-family:'Liberation Serif',serif;font-size:20px;font-weight:normal;color:#000;-webkit-text-stroke:0.3px #000;transform:scaleX(1.1240);"><i style="font-size:104%">m</i> -10-10-10-<i>N</i><sub class="s" style="font-style:italic">θ</sub></div>
<div class="t" id="t170" style="left:2946.7px;top:1297.8px;font-family:'Liberation Serif',serif;font-size:20px;font-weight:normal;color:#000;-webkit-text-stroke:0.3px #000;transform:scaleX(1.1013);"><i>d</i><sub class="s" style="font-style:italic">y</sub>-10-10-10-1</div>
<div class="t" id="t171" style="left:3145.6px;top:1297.8px;font-family:'Liberation Serif',serif;font-size:20px;font-weight:normal;color:#000;-webkit-text-stroke:0.3px #000;transform:scaleX(1.1888);">5.7K</div>
<div class="t" id="t172" style="left:3231.6px;top:1297.8px;font-family:'Liberation Serif',serif;font-size:20px;font-weight:normal;color:#000;-webkit-text-stroke:0.3px #000;transform:scaleX(1.1009);"><b>0.0209 </b>±<b> 0.0013</b></div>
<svg style="left:0;top:0" width="2300" height="2304"><clipPath id="cp0"><rect x="1208.5" y="2060.2" width="277.29999999999995" height="153.10000000000036"/></clipPath><rect x="1208.5" y="2060.2" width="277.3" height="153.1" fill="#fff" stroke="#000" stroke-width="0.8"/><line x1="1208.5" y1="2213.3" x2="1208.5" y2="2215.8" stroke="#000" stroke-width="0.7"/><text x="1208.5" y="2226.8" font-size="10.1" text-anchor="middle" font-family="'Liberation Sans',sans-serif">−1.00</text><line x1="1243.2" y1="2213.3" x2="1243.2" y2="2215.8" stroke="#000" stroke-width="0.7"/><text x="1243.2" y="2226.8" font-size="10.1" text-anchor="middle" font-family="'Liberation Sans',sans-serif">−0.75</text><line x1="1277.8" y1="2213.3" x2="1277.8" y2="2215.8" stroke="#000" stroke-width="0.7"/><text x="1277.8" y="2226.8" font-size="10.1" text-anchor="middle" font-family="'Liberation Sans',sans-serif">−0.50</text><line x1="1312.5" y1="2213.3" x2="1312.5" y2="2215.8" stroke="#000" stroke-width="0.7"/><text x="1312.5" y="2226.8" font-size="10.1" text-anchor="middle" font-family="'Liberation Sans',sans-serif">−0.25</text><line x1="1347.2" y1="2213.3" x2="1347.2" y2="2215.8" stroke="#000" stroke-width="0.7"/><text x="1347.2" y="2226.8" font-size="10.1" text-anchor="middle" font-family="'Liberation Sans',sans-serif">0.00</text><line x1="1381.8" y1="2213.3" x2="1381.8" y2="2215.8" stroke="#000" stroke-width="0.7"/><text x="1381.8" y="2226.8" font-size="10.1" text-anchor="middle" font-family="'Liberation Sans',sans-serif">0.25</text><line x1="1416.5" y1="2213.3" x2="1416.5" y2="2215.8" stroke="#000" stroke-width="0.7"/><text x="1416.5" y="2226.8" font-size="10.1" text-anchor="middle" font-family="'Liberation Sans',sans-serif">0.50</text><line x1="1451.1" y1="2213.3" x2="1451.1" y2="2215.8" stroke="#000" stroke-width="0.7"/><text x="1451.1" y="2226.8" font-size="10.1" text-anchor="middle" font-family="'Liberation Sans',sans-serif">0.75</text><line x1="1485.8" y1="2213.3" x2="1485.8" y2="2215.8" stroke="#000" stroke-width="0.7"/><text x="1485.8" y="2226.8" font-size="10.1" text-anchor="middle" font-family="'Liberation Sans',sans-serif">1.00</text><line x1="1206.0" y1="2060.2" x2="1208.5" y2="2060.2" stroke="#000" stroke-width="0.7"/><text x="1204.0" y="2063.7" font-size="10.1" text-anchor="end" font-family="'Liberation Sans',sans-serif">1.0</text><line x1="1206.0" y1="2090.8" x2="1208.5" y2="2090.8" stroke="#000" stroke-width="0.7"/><text x="1204.0" y="2094.3" font-size="10.1" text-anchor="end" font-family="'Liberation Sans',sans-serif">0.5</text><line x1="1206.0" y1="2121.4" x2="1208.5" y2="2121.4" stroke="#000" stroke-width="0.7"/><text x="1204.0" y="2124.9" font-size="10.1" text-anchor="end" font-family="'Liberation Sans',sans-serif">0.0</text><line x1="1206.0" y1="2152.1" x2="1208.5" y2="2152.1" stroke="#000" stroke-width="0.7"/><text x="1204.0" y="2155.6" font-size="10.1" text-anchor="end" font-family="'Liberation Sans',sans-serif">−0.5</text><line x1="1206.0" y1="2182.7" x2="1208.5" y2="2182.7" stroke="#000" stroke-width="0.7"/><text x="1204.0" y="2186.2" font-size="10.1" text-anchor="end" font-family="'Liberation Sans',sans-serif">−1.0</text><line x1="1206.0" y1="2213.3" x2="1208.5" y2="2213.3" stroke="#000" stroke-width="0.7"/><text x="1204.0" y="2216.8" font-size="10.1" text-anchor="end" font-family="'Liberation Sans',sans-serif">−1.5</text><clipPath id="cp1"><rect x="1541.0" y="2060.2" width="276.79999999999995" height="153.10000000000036"/></clipPath><rect x="1541.0" y="2060.2" width="276.8" height="153.1" fill="#fff" stroke="#000" stroke-width="0.8"/><line x1="1541.0" y1="2213.3" x2="1541.0" y2="2215.8" stroke="#000" stroke-width="0.7"/><text x="1541.0" y="2226.8" font-size="10.1" text-anchor="middle" font-family="'Liberation Sans',sans-serif">−1.00</text><line x1="1575.6" y1="2213.3" x2="1575.6" y2="2215.8" stroke="#000" stroke-width="0.7"/><text x="1575.6" y="2226.8" font-size="10.1" text-anchor="middle" font-family="'Liberation Sans',sans-serif">−0.75</text><line x1="1610.2" y1="2213.3" x2="1610.2" y2="2215.8" stroke="#000" stroke-width="0.7"/><text x="1610.2" y="2226.8" font-size="10.1" text-anchor="middle" font-family="'Liberation Sans',sans-serif">−0.50</text><line x1="1644.8" y1="2213.3" x2="1644.8" y2="2215.8" stroke="#000" stroke-width="0.7"/><text x="1644.8" y="2226.8" font-size="10.1" text-anchor="middle" font-family="'Liberation Sans',sans-serif">−0.25</text><line x1="1679.4" y1="2213.3" x2="1679.4" y2="2215.8" stroke="#000" stroke-width="0.7"/><text x="1679.4" y="2226.8" font-size="10.1" text-anchor="middle" font-family="'Liberation Sans',sans-serif">0.00</text><line x1="1714.0" y1="2213.3" x2="1714.0" y2="2215.8" stroke="#000" stroke-width="0.7"/><text x="1714.0" y="2226.8" font-size="10.1" text-anchor="middle" font-family="'Liberation Sans',sans-serif">0.25</text><line x1="1748.6" y1="2213.3" x2="1748.6" y2="2215.8" stroke="#000" stroke-width="0.7"/><text x="1748.6" y="2226.8" font-size="10.1" text-anchor="middle" font-family="'Liberation Sans',sans-serif">0.50</text><line x1="1783.2" y1="2213.3" x2="1783.2" y2="2215.8" stroke="#000" stroke-width="0.7"/><line x1="1817.8" y1="2213.3" x2="1817.8" y2="2215.8" stroke="#000" stroke-width="0.7"/><line x1="1538.5" y1="2060.2" x2="1541.0" y2="2060.2" stroke="#000" stroke-width="0.7"/><text x="1536.5" y="2063.7" font-size="10.1" text-anchor="end" font-family="'Liberation Sans',sans-serif">1.0</text><line x1="1538.5" y1="2090.8" x2="1541.0" y2="2090.8" stroke="#000" stroke-width="0.7"/><text x="1536.5" y="2094.3" font-size="10.1" text-anchor="end" font-family="'Liberation Sans',sans-serif">0.5</text><line x1="1538.5" y1="2121.4" x2="1541.0" y2="2121.4" stroke="#000" stroke-width="0.7"/><text x="1536.5" y="2124.9" font-size="10.1" text-anchor="end" font-family="'Liberation Sans',sans-serif">0.0</text><line x1="1538.5" y1="2152.1" x2="1541.0" y2="2152.1" stroke="#000" stroke-width="0.7"/><text x="1536.5" y="2155.6" font-size="10.1" text-anchor="end" font-family="'Liberation Sans',sans-serif">−0.5</text><line x1="1538.5" y1="2182.7" x2="1541.0" y2="2182.7" stroke="#000" stroke-width="0.7"/><text x="1536.5" y="2186.2" font-size="10.1" text-anchor="end" font-family="'Liberation Sans',sans-serif">−1.0</text><line x1="1538.5" y1="2213.3" x2="1541.0" y2="2213.3" stroke="#000" stroke-width="0.7"/><text x="1536.5" y="2216.8" font-size="10.1" text-anchor="end" font-family="'Liberation Sans',sans-serif">−1.5</text><clipPath id="cp2"><rect x="1873.0" y="2060.2" width="277.3000000000002" height="153.10000000000036"/></clipPath><rect x="1873.0" y="2060.2" width="277.3" height="153.1" fill="#fff" stroke="#000" stroke-width="0.8"/><line x1="1873.0" y1="2213.3" x2="1873.0" y2="2215.8" stroke="#000" stroke-width="0.7"/><line x1="1907.7" y1="2213.3" x2="1907.7" y2="2215.8" stroke="#000" stroke-width="0.7"/><text x="1907.7" y="2226.8" font-size="10.1" text-anchor="middle" font-family="'Liberation Sans',sans-serif">−0.75</text><line x1="1942.3" y1="2213.3" x2="1942.3" y2="2215.8" stroke="#000" stroke-width="0.7"/><text x="1942.3" y="2226.8" font-size="10.1" text-anchor="middle" font-family="'Liberation Sans',sans-serif">−0.50</text><line x1="1977.0" y1="2213.3" x2="1977.0" y2="2215.8" stroke="#000" stroke-width="0.7"/><text x="1977.0" y="2226.8" font-size="10.1" text-anchor="middle" font-family="'Liberation Sans',sans-serif">−0.25</text><line x1="2011.7" y1="2213.3" x2="2011.7" y2="2215.8" stroke="#000" stroke-width="0.7"/><text x="2011.7" y="2226.8" font-size="10.1" text-anchor="middle" font-family="'Liberation Sans',sans-serif">0.00</text><line x1="2046.3" y1="2213.3" x2="2046.3" y2="2215.8" stroke="#000" stroke-width="0.7"/><text x="2046.3" y="2226.8" font-size="10.1" text-anchor="middle" font-family="'Liberation Sans',sans-serif">0.25</text><line x1="2081.0" y1="2213.3" x2="2081.0" y2="2215.8" stroke="#000" stroke-width="0.7"/><text x="2081.0" y="2226.8" font-size="10.1" text-anchor="middle" font-family="'Liberation Sans',sans-serif">0.50</text><line x1="2115.6" y1="2213.3" x2="2115.6" y2="2215.8" stroke="#000" stroke-width="0.7"/><text x="2115.6" y="2226.8" font-size="10.1" text-anchor="middle" font-family="'Liberation Sans',sans-serif">0.75</text><line x1="2150.3" y1="2213.3" x2="2150.3" y2="2215.8" stroke="#000" stroke-width="0.7"/><text x="2150.3" y="2226.8" font-size="10.1" text-anchor="middle" font-family="'Liberation Sans',sans-serif">1.00</text><line x1="1870.5" y1="2060.2" x2="1873.0" y2="2060.2" stroke="#000" stroke-width="0.7"/><text x="1868.5" y="2063.7" font-size="10.1" text-anchor="end" font-family="'Liberation Sans',sans-serif">1.0</text><line x1="1870.5" y1="2090.8" x2="1873.0" y2="2090.8" stroke="#000" stroke-width="0.7"/><text x="1868.5" y="2094.3" font-size="10.1" text-anchor="end" font-family="'Liberation Sans',sans-serif">0.5</text><line x1="1870.5" y1="2121.4" x2="1873.0" y2="2121.4" stroke="#000" stroke-width="0.7"/><text x="1868.5" y="2124.9" font-size="10.1" text-anchor="end" font-family="'Liberation Sans',sans-serif">0.0</text><line x1="1870.5" y1="2152.1" x2="1873.0" y2="2152.1" stroke="#000" stroke-width="0.7"/><line x1="1870.5" y1="2182.7" x2="1873.0" y2="2182.7" stroke="#000" stroke-width="0.7"/><text x="1868.5" y="2186.2" font-size="10.1" text-anchor="end" font-family="'Liberation Sans',sans-serif">−1.0</text><line x1="1870.5" y1="2213.3" x2="1873.0" y2="2213.3" stroke="#000" stroke-width="0.7"/><text x="1868.5" y="2216.8" font-size="10.1" text-anchor="end" font-family="'Liberation Sans',sans-serif">−1.5</text><g clip-path="url(#cp0)" fill="none" stroke="#ff1a1a" stroke-width="1.3"><path d="M1208.5,2121.4L1209.6,2121.8L1211.0,2122.3L1212.7,2122.9L1214.6,2123.5L1216.6,2124.2L1218.6,2124.8L1220.5,2125.3L1222.4,2125.7L1224.1,2126.0L1225.8,2126.1L1227.6,2126.1L1229.3,2126.1L1231.0,2126.0L1232.8,2126.1L1234.5,2126.1L1236.2,2126.3L1238.0,2126.7L1239.7,2127.2L1241.4,2127.7L1243.2,2128.3L1244.9,2128.9L1246.6,2129.4L1248.4,2129.8L1250.1,2130.0L1251.8,2130.1L1253.6,2130.0L1255.3,2129.8L1257.0,2129.5L1258.8,2129.2L1260.5,2129.0L1262.2,2128.8L1264.0,2128.8L1265.7,2128.9L1267.4,2129.0L1269.2,2129.2L1270.9,2129.4L1272.6,2129.7L1274.4,2130.0L1276.1,2130.3L1277.8,2130.6L1279.6,2131.0L1281.3,2131.3L1283.0,2131.7L1284.8,2132.2L1286.5,2132.6L1288.2,2133.0L1290.0,2133.4L1291.7,2133.7L1293.4,2134.0L1295.2,2134.2L1296.9,2134.4L1298.6,2134.6L1300.4,2134.8L1302.1,2135.0L1303.8,2135.2L1305.6,2135.5L1307.3,2135.9L1309.0,2136.3L1310.8,2136.7L1312.5,2137.2L1314.2,2137.7L1316.0,2138.1L1317.7,2138.4L1319.4,2138.6L1321.2,2138.7L1322.9,2138.7L1324.6,2138.7L1326.4,2138.7L1328.1,2138.5L1329.8,2138.4L1331.6,2138.2L1333.3,2138.0L1335.0,2137.7L1336.8,2137.3L1338.5,2136.9L1340.2,2136.5L1342.0,2136.0L1343.7,2135.6L1345.4,2135.2L1347.2,2134.9L1348.9,2134.6L1350.6,2134.4L1352.3,2134.2L1354.1,2134.0L1355.8,2133.8L1357.5,2133.7L1359.3,2133.7L1361.0,2133.7L1362.7,2133.8L1364.5,2134.0L1366.2,2134.3L1367.9,2134.7L1369.7,2135.1L1371.4,2135.4L1373.1,2135.8L1374.9,2136.1L1376.6,2136.4L1378.3,2136.8L1380.1,2137.1L1381.8,2137.4L1383.5,2137.7L1385.3,2138.0L1387.0,2138.3L1388.7,2138.6L1390.5,2138.9L1392.2,2139.1L1393.9,2139.4L1395.7,2139.7L1397.4,2139.9L1399.1,2140.3L1400.9,2140.6L1402.6,2141.0L1404.3,2141.5L1406.1,2142.1L1407.8,2142.7L1409.5,2143.4L1411.3,2144.0L1413.0,2144.7L1414.7,2145.3L1416.5,2145.9L1418.2,2146.5L1419.9,2147.2L1421.7,2147.8L1423.4,2148.4L1425.1,2149.0L1426.9,2149.5L1428.6,2149.9L1430.3,2150.2L1432.1,2150.4L1433.8,2150.4L1435.5,2150.4L1437.3,2150.3L1439.0,2150.1L1440.7,2149.9L1442.5,2149.7L1444.2,2149.6L1445.9,2149.5L1447.7,2149.3L1449.4,2149.2L1451.1,2149.0L1452.9,2148.8L1454.6,2148.7L1456.3,2148.5L1458.1,2148.4L1459.8,2148.3L1461.5,2148.2L1463.3,2148.2L1465.0,2148.2L1466.7,2148.2L1468.5,2148.1L1470.2,2148.0L1471.9,2147.8L1473.8,2147.5L1475.7,2147.1L1477.7,2146.7L1479.7,2146.2L1481.6,2145.7L1483.3,2145.3L1484.7,2145.0L1485.8,2144.7"/><path d="M1208.5,2072.9L1210.6,2106.2L1212.7,2172.7L1214.9,2206.0L1216.7,2200.0L1218.6,2183.7L1220.5,2161.5L1222.4,2139.2L1224.2,2122.9L1226.1,2116.9L1227.9,2119.2L1229.6,2125.4L1231.3,2134.4L1233.1,2144.4L1234.8,2153.5L1236.6,2159.7L1238.3,2161.9L1240.1,2160.7L1242.0,2157.1L1243.8,2151.5L1245.6,2144.4L1247.4,2136.5L1249.2,2128.6L1251.0,2121.6L1252.8,2115.9L1254.6,2112.3L1256.4,2111.1L1258.3,2112.0L1260.2,2114.6L1262.0,2118.7L1263.9,2123.9L1265.8,2129.9L1267.6,2136.2L1269.5,2142.2L1271.4,2147.5L1273.2,2151.6L1275.1,2154.2L1277.0,2155.1L1278.8,2154.7L1280.7,2153.6L1282.5,2151.8L1284.4,2149.5L1286.3,2147.0L1288.1,2144.5L1290.0,2142.3L1291.8,2140.5L1293.7,2139.3L1295.6,2139.0L1297.3,2139.3L1299.1,2140.2L1300.9,2141.6L1302.7,2143.4L1304.5,2145.3L1306.3,2147.0L1308.1,2148.5L1309.9,2149.4L1311.7,2149.7L1313.4,2149.2L1315.2,2147.6L1316.9,2145.1L1318.6,2141.7L1320.4,2137.5L1322.1,2132.6L1323.9,2127.2L1325.6,2121.4L1327.3,2115.5L1329.1,2109.5L1330.8,2103.8L1332.6,2098.4L1334.3,2093.5L1336.0,2089.2L1337.8,2085.8L1339.5,2083.3L1341.3,2081.8L1343.0,2081.2L1344.8,2081.8L1346.6,2083.5L1348.4,2086.4L1350.2,2090.2L1352.1,2094.8L1353.9,2100.2L1355.7,2106.1L1357.5,2112.3L1359.3,2118.6L1361.1,2124.8L1362.9,2130.7L1364.7,2136.1L1366.6,2140.8L1368.4,2144.6L1370.2,2147.4L1372.0,2149.1L1373.8,2149.7L1375.6,2149.4L1377.5,2148.5L1379.3,2147.1L1381.1,2145.6L1383.0,2144.0L1384.8,2142.6L1386.6,2141.7L1388.5,2141.4L1390.3,2141.8L1392.1,2143.0L1393.9,2145.0L1395.6,2147.7L1397.4,2150.9L1399.2,2154.6L1401.0,2158.5L1402.8,2162.5L1404.6,2166.4L1406.4,2170.0L1408.2,2173.2L1410.0,2175.9L1411.8,2177.9L1413.6,2179.1L1415.4,2179.5L1417.2,2178.9L1419.0,2176.9L1420.8,2173.7L1422.6,2169.3L1424.4,2164.0L1426.2,2157.9L1428.1,2151.1L1429.9,2144.0L1431.7,2136.8L1433.5,2129.7L1435.3,2123.0L1437.1,2116.8L1438.9,2111.5L1440.7,2107.1L1442.6,2103.9L1444.4,2102.0L1446.2,2101.3L1447.9,2101.9L1449.7,2103.7L1451.4,2106.4L1453.1,2109.8L1454.9,2113.3L1456.6,2116.7L1458.4,2119.4L1460.1,2121.2L1461.8,2121.8L1463.7,2119.8L1465.5,2114.2L1467.3,2105.7L1469.2,2095.7L1471.0,2085.6L1472.8,2077.2L1474.7,2071.5L1476.5,2069.5L1478.4,2075.9L1480.2,2092.6L1482.1,2113.4L1483.9,2130.1L1485.8,2136.5" stroke-dasharray="1.3 2.1"/></g><g clip-path="url(#cp1)" fill="none" stroke-width="1.35"><path d="M1541.0,2139.8L1542.1,2139.2L1543.5,2138.1L1545.2,2136.8L1547.1,2135.4L1549.0,2134.2L1551.1,2133.4L1553.0,2133.2L1554.8,2133.7L1556.6,2135.4L1558.3,2138.3L1560.0,2141.9L1561.8,2145.7L1563.5,2149.5L1565.2,2152.6L1567.0,2154.6L1568.7,2155.1L1570.4,2153.8L1572.1,2150.9L1573.9,2146.9L1575.6,2142.3L1577.3,2137.6L1579.1,2133.2L1580.8,2129.7L1582.5,2127.6L1584.2,2126.7L1586.0,2126.5L1587.7,2127.0L1589.4,2127.9L1591.2,2129.2L1592.9,2130.7L1594.6,2132.3L1596.4,2133.7L1598.1,2135.3L1599.8,2137.4L1601.5,2139.7L1603.3,2142.1L1605.0,2144.4L1606.7,2146.5L1608.5,2148.0L1610.2,2149.0L1611.9,2149.2L1613.7,2148.8L1615.4,2147.9L1617.1,2146.7L1618.8,2145.4L1620.6,2144.3L1622.3,2143.3L1624.0,2142.9L1625.8,2142.9L1627.5,2143.2L1629.2,2143.8L1631.0,2144.4L1632.7,2145.1L1634.4,2145.6L1636.1,2145.9L1637.9,2145.9L1639.6,2145.8L1641.3,2145.8L1643.1,2145.7L1644.8,2145.4L1646.5,2144.8L1648.3,2143.7L1650.0,2142.1L1651.7,2139.8L1653.5,2136.6L1655.2,2132.3L1657.0,2127.5L1658.8,2122.2L1660.6,2116.8L1662.3,2111.7L1664.0,2107.0L1665.6,2103.1L1667.1,2099.6L1668.5,2096.2L1669.8,2092.9L1671.1,2090.1L1672.4,2087.6L1673.7,2085.8L1675.1,2084.8L1676.6,2084.7L1678.2,2085.6L1679.9,2087.4L1681.6,2090.1L1683.4,2093.3L1685.2,2097.0L1686.9,2101.0L1688.7,2105.1L1690.5,2109.2L1692.2,2113.7L1694.0,2119.1L1695.8,2124.9L1697.7,2130.8L1699.4,2136.5L1701.1,2141.7L1702.8,2146.0L1704.3,2149.0L1705.7,2150.7L1707.0,2151.3L1708.2,2151.1L1709.3,2150.3L1710.4,2149.2L1711.6,2147.9L1712.8,2146.8L1714.0,2145.9L1715.3,2145.1L1716.7,2144.0L1718.1,2142.8L1719.5,2141.5L1721.0,2140.4L1722.4,2139.7L1723.7,2139.4L1725.1,2139.8L1726.3,2140.9L1727.5,2142.5L1728.6,2144.6L1729.7,2147.1L1730.9,2149.8L1732.1,2152.6L1733.4,2155.4L1734.8,2158.2L1736.3,2161.4L1737.9,2165.5L1739.6,2169.9L1741.4,2174.3L1743.2,2178.2L1745.0,2181.1L1746.8,2182.8L1748.6,2182.7L1750.3,2180.6L1752.1,2176.8L1753.8,2171.8L1755.5,2165.8L1757.2,2159.3L1759.0,2152.5L1760.7,2145.9L1762.4,2139.8L1764.2,2133.5L1766.0,2126.3L1767.8,2118.8L1769.5,2111.3L1771.3,2104.3L1773.0,2098.3L1774.7,2093.6L1776.3,2090.8L1777.8,2090.2L1779.3,2091.6L1780.7,2094.4L1782.1,2098.1L1783.4,2102.2L1784.7,2106.3L1786.1,2109.8L1787.4,2112.3L1788.6,2113.8L1789.9,2115.1L1791.1,2116.2L1792.3,2117.0L1793.5,2117.7L1794.7,2118.1L1795.8,2118.3L1797.0,2118.4L1798.2,2118.2L1799.4,2117.6L1800.6,2116.7L1801.8,2115.7L1803.0,2114.6L1804.2,2113.6L1805.5,2112.8L1806.7,2112.3L1808.1,2112.0L1809.7,2111.8L1811.3,2111.8L1812.9,2111.9L1814.4,2112.0L1815.8,2112.1L1816.9,2112.2L1817.8,2112.3" stroke="#0a8a0a"/><path d="M1541.0,2133.7L1542.1,2133.5L1543.5,2133.1L1545.2,2132.6L1547.1,2132.2L1549.0,2131.9L1551.1,2132.0L1553.0,2132.5L1554.8,2133.7L1556.6,2136.0L1558.2,2139.5L1559.9,2143.8L1561.6,2148.2L1563.3,2152.4L1565.0,2155.8L1566.8,2157.9L1568.7,2158.2L1570.7,2156.1L1572.8,2152.0L1574.9,2146.5L1577.2,2140.2L1579.3,2133.9L1581.5,2128.2L1583.5,2123.8L1585.3,2121.4L1586.9,2121.0L1588.4,2122.0L1589.7,2124.0L1591.0,2126.7L1592.2,2130.0L1593.5,2133.4L1594.9,2136.8L1596.4,2139.8L1598.0,2143.0L1599.6,2146.9L1601.3,2151.2L1603.1,2155.4L1604.9,2159.3L1606.7,2162.5L1608.5,2164.7L1610.2,2165.5L1612.0,2164.7L1613.8,2162.5L1615.6,2159.3L1617.4,2155.3L1619.2,2151.0L1620.9,2146.8L1622.5,2142.9L1624.0,2139.8L1625.4,2137.1L1626.7,2134.3L1627.9,2131.6L1629.1,2129.1L1630.2,2126.9L1631.3,2125.1L1632.5,2123.8L1633.7,2123.3L1635.0,2123.6L1636.3,2124.7L1637.7,2126.5L1639.0,2128.6L1640.4,2130.9L1641.8,2133.2L1643.3,2135.2L1644.8,2136.8L1646.4,2138.2L1648.1,2140.0L1649.8,2141.9L1651.5,2143.5L1653.3,2144.7L1655.1,2145.2L1656.9,2144.6L1658.6,2142.9L1660.4,2139.4L1662.2,2134.3L1664.0,2128.0L1665.7,2121.1L1667.5,2114.1L1669.2,2107.4L1670.9,2101.5L1672.5,2096.9L1674.0,2093.4L1675.4,2090.4L1676.8,2087.8L1678.1,2085.7L1679.4,2084.2L1680.8,2083.3L1682.1,2083.1L1683.6,2083.5L1685.1,2084.7L1686.6,2086.9L1688.2,2089.8L1689.8,2093.2L1691.4,2097.0L1693.0,2101.1L1694.5,2105.2L1696.0,2109.2L1697.5,2113.4L1698.9,2118.2L1700.3,2123.4L1701.6,2128.6L1703.0,2133.7L1704.3,2138.4L1705.7,2142.6L1707.1,2145.9L1708.4,2148.5L1709.8,2150.5L1711.1,2152.1L1712.4,2153.2L1713.8,2154.0L1715.2,2154.5L1716.6,2154.9L1718.2,2155.1L1719.7,2154.9L1721.4,2154.0L1723.0,2152.7L1724.7,2151.3L1726.5,2149.9L1728.3,2149.0L1730.1,2148.5L1732.0,2149.0L1734.0,2150.7L1736.0,2153.6L1738.1,2157.3L1740.3,2161.2L1742.5,2165.0L1744.6,2168.1L1746.6,2170.1L1748.6,2170.4L1750.4,2169.2L1752.2,2166.7L1753.9,2163.2L1755.5,2158.9L1757.2,2154.3L1758.9,2149.3L1760.6,2144.4L1762.4,2139.8L1764.4,2134.9L1766.5,2129.2L1768.7,2123.1L1770.9,2117.0L1773.1,2111.3L1775.2,2106.3L1777.2,2102.4L1779.0,2100.0L1780.7,2099.3L1782.2,2100.0L1783.6,2101.8L1784.9,2104.4L1786.2,2107.4L1787.5,2110.4L1788.8,2113.2L1790.1,2115.3L1791.5,2117.2L1792.9,2119.2L1794.3,2121.2L1795.7,2123.2L1797.1,2124.9L1798.5,2126.3L1799.9,2127.2L1801.2,2127.6L1802.5,2127.2L1803.8,2126.1L1805.0,2124.5L1806.3,2122.6L1807.5,2120.5L1808.7,2118.5L1809.8,2116.7L1810.9,2115.3L1811.9,2114.2L1813.0,2113.2L1814.0,2112.3L1814.9,2111.5L1815.8,2110.8L1816.6,2110.1L1817.3,2109.6L1817.8,2109.2" stroke="#ffa500"/><path d="M1541.0,2155.1L1542.1,2153.5L1543.5,2151.0L1545.2,2148.1L1547.1,2145.0L1549.0,2142.0L1551.1,2139.4L1553.0,2137.6L1554.8,2136.8L1556.5,2137.4L1558.1,2139.5L1559.7,2142.4L1561.3,2145.6L1563.0,2148.7L1564.7,2151.2L1566.6,2152.5L1568.7,2152.1L1571.0,2149.4L1573.5,2144.7L1576.3,2138.7L1579.1,2132.0L1581.9,2125.6L1584.6,2119.9L1587.1,2115.9L1589.4,2114.1L1591.5,2114.8L1593.5,2117.5L1595.3,2121.6L1597.1,2126.6L1598.7,2132.0L1600.3,2137.4L1601.8,2142.2L1603.3,2145.9L1604.7,2149.0L1606.0,2152.1L1607.2,2154.9L1608.3,2157.6L1609.4,2159.8L1610.5,2161.6L1611.7,2162.7L1613.0,2163.1L1614.3,2162.5L1615.6,2161.1L1616.9,2158.9L1618.2,2156.3L1619.6,2153.4L1621.0,2150.6L1622.5,2148.0L1624.0,2145.9L1625.6,2144.1L1627.3,2142.2L1629.0,2140.4L1630.8,2138.7L1632.6,2137.2L1634.4,2136.0L1636.1,2135.2L1637.9,2134.9L1639.6,2135.5L1641.3,2137.1L1643.1,2139.3L1644.8,2141.6L1646.5,2143.9L1648.3,2145.6L1650.0,2146.4L1651.7,2145.9L1653.5,2144.1L1655.2,2141.1L1656.9,2137.4L1658.6,2133.0L1660.4,2128.4L1662.1,2123.7L1663.8,2119.3L1665.6,2115.3L1667.3,2111.3L1669.0,2106.8L1670.8,2102.1L1672.5,2097.5L1674.2,2093.5L1675.9,2090.3L1677.7,2088.3L1679.4,2087.8L1681.1,2089.0L1682.9,2091.9L1684.6,2095.9L1686.3,2100.8L1688.0,2106.1L1689.8,2111.6L1691.5,2116.8L1693.2,2121.4L1694.9,2126.0L1696.6,2131.1L1698.2,2136.4L1699.9,2141.6L1701.6,2146.4L1703.3,2150.5L1705.2,2153.5L1707.1,2155.1L1709.2,2154.9L1711.4,2152.8L1713.8,2149.6L1716.2,2145.7L1718.5,2141.7L1720.9,2138.2L1723.1,2135.7L1725.1,2134.9L1726.9,2135.7L1728.6,2137.6L1730.2,2140.4L1731.7,2143.8L1733.2,2147.5L1734.6,2151.3L1736.1,2154.9L1737.5,2158.2L1739.0,2161.6L1740.3,2165.7L1741.7,2170.0L1743.0,2174.2L1744.3,2177.9L1745.7,2180.8L1747.1,2182.5L1748.6,2182.7L1750.2,2181.1L1751.9,2177.9L1753.6,2173.7L1755.3,2168.5L1757.1,2162.9L1758.9,2157.0L1760.7,2151.2L1762.4,2145.9L1764.2,2140.5L1766.0,2134.4L1767.8,2128.0L1769.5,2121.6L1771.3,2115.6L1773.0,2110.3L1774.7,2106.0L1776.3,2103.1L1777.8,2101.9L1779.2,2102.2L1780.6,2103.7L1782.0,2105.8L1783.3,2108.2L1784.6,2110.3L1786.0,2111.8L1787.4,2112.3L1788.7,2111.5L1790.2,2109.9L1791.6,2107.8L1793.0,2105.4L1794.4,2103.1L1795.8,2101.0L1797.1,2099.5L1798.4,2098.8L1799.7,2098.9L1800.9,2099.7L1802.2,2100.9L1803.4,2102.4L1804.5,2104.1L1805.7,2105.9L1806.9,2107.6L1808.1,2109.2L1809.4,2110.7L1810.8,2112.4L1812.2,2114.2L1813.6,2116.0L1814.9,2117.7L1816.1,2119.2L1817.1,2120.5L1817.8,2121.4" stroke="#808080"/><path d="M1541.0,2126.3L1542.1,2126.5L1543.5,2126.7L1545.2,2126.9L1547.1,2127.1L1549.0,2127.4L1551.1,2127.5L1553.0,2127.6L1554.8,2127.6L1556.6,2127.3L1558.3,2126.9L1560.0,2126.3L1561.8,2125.7L1563.5,2125.2L1565.2,2124.7L1567.0,2124.5L1568.7,2124.5L1570.4,2124.8L1572.1,2125.5L1573.9,2126.3L1575.6,2127.2L1577.3,2128.2L1579.1,2129.1L1580.8,2129.9L1582.5,2130.6L1584.2,2131.1L1586.0,2131.5L1587.7,2131.7L1589.4,2132.0L1591.2,2132.2L1592.9,2132.6L1594.6,2133.0L1596.4,2133.7L1598.1,2134.6L1599.8,2135.8L1601.5,2137.2L1603.3,2138.6L1605.0,2140.0L1606.7,2141.2L1608.5,2142.2L1610.2,2142.9L1611.9,2143.1L1613.7,2143.0L1615.4,2142.7L1617.1,2142.2L1618.8,2141.7L1620.6,2141.3L1622.3,2141.0L1624.0,2141.0L1625.8,2141.4L1627.5,2142.0L1629.2,2142.9L1631.0,2143.8L1632.7,2144.6L1634.4,2145.3L1636.1,2145.8L1637.9,2145.9L1639.6,2145.9L1641.3,2145.8L1643.1,2145.5L1644.8,2145.1L1646.5,2144.4L1648.3,2143.3L1650.0,2141.8L1651.7,2139.8L1653.5,2137.1L1655.2,2133.7L1657.0,2129.8L1658.8,2125.6L1660.6,2121.2L1662.3,2116.9L1664.0,2112.8L1665.6,2109.2L1667.1,2105.6L1668.5,2101.6L1669.8,2097.6L1671.1,2093.8L1672.4,2090.5L1673.7,2087.9L1675.1,2086.3L1676.6,2085.9L1678.2,2087.0L1679.9,2089.4L1681.6,2092.8L1683.4,2096.9L1685.2,2101.4L1686.9,2106.2L1688.7,2110.9L1690.5,2115.3L1692.2,2119.9L1694.0,2125.0L1695.7,2130.4L1697.5,2135.9L1699.2,2141.1L1700.9,2145.7L1702.6,2149.5L1704.3,2152.1L1705.9,2153.3L1707.6,2153.5L1709.1,2152.8L1710.7,2151.5L1712.3,2149.9L1713.8,2148.3L1715.3,2146.8L1716.8,2145.9L1718.2,2145.2L1719.7,2144.4L1721.1,2143.5L1722.5,2142.7L1723.9,2142.1L1725.2,2141.8L1726.5,2142.1L1727.8,2142.9L1729.1,2144.4L1730.3,2146.6L1731.5,2149.3L1732.7,2152.3L1733.9,2155.5L1735.0,2158.7L1736.3,2161.7L1737.5,2164.3L1738.8,2167.1L1740.1,2170.3L1741.5,2173.6L1742.8,2176.8L1744.2,2179.5L1745.6,2181.4L1747.1,2182.2L1748.6,2181.5L1750.2,2179.1L1751.9,2175.2L1753.6,2170.3L1755.3,2164.5L1757.1,2158.2L1758.9,2151.8L1760.7,2145.5L1762.4,2139.8L1764.2,2134.0L1765.9,2127.6L1767.6,2120.9L1769.4,2114.3L1771.1,2108.1L1772.8,2102.8L1774.5,2098.5L1776.3,2095.7L1778.0,2094.7L1779.7,2095.1L1781.5,2096.6L1783.2,2098.9L1784.9,2101.7L1786.7,2104.6L1788.4,2107.2L1790.1,2109.2L1791.8,2110.8L1793.6,2112.4L1795.3,2114.0L1797.0,2115.6L1798.8,2117.1L1800.5,2118.6L1802.2,2120.1L1804.0,2121.4L1805.8,2122.8L1807.7,2124.2L1809.8,2125.5L1811.7,2126.8L1813.6,2128.0L1815.3,2129.0L1816.7,2129.9L1817.8,2130.6" stroke="#8b008b"/><path d="M1541.0,2072.9L1543.1,2106.2L1545.2,2172.7L1547.3,2206.0L1549.2,2200.0L1551.1,2183.7L1553.0,2161.5L1554.8,2139.2L1556.7,2122.9L1558.6,2116.9L1560.3,2119.2L1562.1,2125.4L1563.8,2134.4L1565.5,2144.4L1567.3,2153.5L1569.0,2159.7L1570.8,2161.9L1572.6,2160.7L1574.4,2157.1L1576.2,2151.5L1578.0,2144.4L1579.8,2136.5L1581.6,2128.6L1583.4,2121.6L1585.2,2115.9L1587.0,2112.3L1588.8,2111.1L1590.7,2112.0L1592.6,2114.6L1594.4,2118.7L1596.3,2123.9L1598.2,2129.9L1600.0,2136.2L1601.9,2142.2L1603.8,2147.5L1605.6,2151.6L1607.5,2154.2L1609.3,2155.1L1611.2,2154.7L1613.1,2153.6L1614.9,2151.8L1616.8,2149.5L1618.6,2147.0L1620.5,2144.5L1622.3,2142.3L1624.2,2140.5L1626.0,2139.3L1627.9,2139.0L1629.7,2139.3L1631.5,2140.2L1633.3,2141.6L1635.1,2143.4L1636.8,2145.3L1638.6,2147.0L1640.4,2148.5L1642.2,2149.4L1644.0,2149.7L1645.7,2149.2L1647.5,2147.6L1649.2,2145.1L1650.9,2141.7L1652.7,2137.5L1654.4,2132.6L1656.2,2127.2L1657.9,2121.4L1659.6,2115.5L1661.4,2109.5L1663.1,2103.8L1664.8,2098.4L1666.6,2093.5L1668.3,2089.2L1670.0,2085.8L1671.8,2083.3L1673.5,2081.8L1675.3,2081.2L1677.1,2081.8L1678.9,2083.5L1680.7,2086.4L1682.5,2090.2L1684.3,2094.8L1686.1,2100.2L1687.9,2106.1L1689.7,2112.3L1691.5,2118.6L1693.3,2124.8L1695.2,2130.7L1697.0,2136.1L1698.8,2140.8L1700.6,2144.6L1702.4,2147.4L1704.2,2149.1L1706.0,2149.7L1707.8,2149.4L1709.7,2148.5L1711.5,2147.1L1713.3,2145.6L1715.2,2144.0L1717.0,2142.6L1718.8,2141.7L1720.7,2141.4L1722.4,2141.8L1724.2,2143.0L1726.0,2145.0L1727.8,2147.7L1729.6,2150.9L1731.4,2154.6L1733.2,2158.5L1735.0,2162.5L1736.8,2166.4L1738.6,2170.0L1740.3,2173.2L1742.1,2175.9L1743.9,2177.9L1745.7,2179.1L1747.5,2179.5L1749.3,2178.9L1751.1,2176.9L1752.9,2173.7L1754.7,2169.3L1756.5,2164.0L1758.4,2157.9L1760.2,2151.1L1762.0,2144.0L1763.8,2136.8L1765.6,2129.7L1767.4,2123.0L1769.2,2116.8L1771.0,2111.5L1772.8,2107.1L1774.6,2103.9L1776.4,2102.0L1778.3,2101.3L1780.0,2101.9L1781.7,2103.7L1783.5,2106.4L1785.2,2109.8L1786.9,2113.3L1788.7,2116.7L1790.4,2119.4L1792.1,2121.2L1793.9,2121.8L1795.7,2119.8L1797.5,2114.2L1799.4,2105.7L1801.2,2095.7L1803.0,2085.6L1804.9,2077.2L1806.7,2071.5L1808.5,2069.5L1810.4,2075.9L1812.2,2092.6L1814.1,2113.4L1815.9,2130.1L1817.8,2136.5" stroke="#ff1a1a" stroke-width="1.2" stroke-dasharray="1.3 2.1"/></g><g clip-path="url(#cp2)" fill="none"><path d="M1873.0,2073.3L1875.1,2105.9L1877.2,2171.1L1879.4,2203.7L1881.2,2197.8L1883.1,2181.8L1885.0,2160.0L1886.9,2138.2L1888.7,2122.3L1890.6,2116.4L1892.4,2118.6L1894.1,2124.7L1895.8,2133.6L1897.6,2143.4L1899.3,2152.2L1901.1,2158.3L1902.8,2160.5L1904.6,2159.3L1906.5,2155.8L1908.3,2150.2L1910.1,2143.3L1911.9,2135.6L1913.7,2127.9L1915.5,2120.9L1917.3,2115.4L1919.1,2111.9L1920.9,2110.7L1922.8,2111.5L1924.7,2114.1L1926.5,2118.1L1928.4,2123.3L1930.3,2129.2L1932.1,2135.3L1934.0,2141.2L1935.9,2146.4L1937.7,2150.4L1939.6,2152.9L1941.5,2153.8L1943.3,2153.4L1945.2,2152.3L1947.0,2150.5L1948.9,2148.3L1950.8,2145.9L1952.6,2143.5L1954.5,2141.2L1956.3,2139.5L1958.2,2138.4L1960.1,2138.0L1961.8,2138.3L1963.6,2139.2L1965.4,2140.6L1967.2,2142.3L1969.0,2144.2L1970.8,2145.9L1972.6,2147.3L1974.4,2148.2L1976.2,2148.5L1977.9,2148.0L1979.7,2146.5L1981.4,2144.0L1983.1,2140.7L1984.9,2136.5L1986.6,2131.8L1988.4,2126.5L1990.1,2120.8L1991.8,2115.0L1993.6,2109.2L1995.3,2103.5L1997.1,2098.2L1998.8,2093.4L2000.5,2089.3L2002.3,2085.9L2004.0,2083.4L2005.8,2081.9L2007.5,2081.4L2009.3,2082.0L2011.1,2083.7L2012.9,2086.5L2014.7,2090.2L2016.6,2094.8L2018.4,2100.0L2020.2,2105.8L2022.0,2111.9L2023.8,2118.1L2025.6,2124.2L2027.4,2129.9L2029.2,2135.2L2031.1,2139.8L2032.9,2143.5L2034.7,2146.3L2036.5,2148.0L2038.3,2148.5L2040.1,2148.2L2042.0,2147.3L2043.8,2146.0L2045.6,2144.5L2047.5,2142.9L2049.3,2141.6L2051.1,2140.7L2053.0,2140.4L2054.8,2140.8L2056.6,2142.0L2058.4,2144.0L2060.1,2146.6L2061.9,2149.7L2063.7,2153.3L2065.5,2157.1L2067.3,2161.0L2069.1,2164.9L2070.9,2168.4L2072.7,2171.6L2074.5,2174.2L2076.3,2176.2L2078.1,2177.4L2079.9,2177.8L2081.7,2177.1L2083.5,2175.2L2085.3,2172.0L2087.1,2167.8L2088.9,2162.5L2090.7,2156.5L2092.6,2149.9L2094.4,2143.0L2096.2,2135.9L2098.0,2128.9L2099.8,2122.3L2101.6,2116.3L2103.4,2111.1L2105.2,2106.8L2107.1,2103.7L2108.9,2101.7L2110.7,2101.1L2112.4,2101.7L2114.2,2103.4L2115.9,2106.1L2117.6,2109.4L2119.4,2112.9L2121.1,2116.2L2122.9,2118.9L2124.6,2120.6L2126.3,2121.2L2128.2,2119.3L2130.0,2113.7L2131.8,2105.4L2133.7,2095.6L2135.5,2085.8L2137.3,2077.4L2139.2,2071.9L2141.0,2069.9L2142.9,2076.2L2144.7,2092.6L2146.6,2112.9L2148.4,2129.3L2150.3,2135.6" stroke="#1a1aff" stroke-width="1.3"/><path d="M1873.0,2072.9L1875.1,2106.2L1877.2,2172.7L1879.4,2206.0L1881.2,2200.0L1883.1,2183.7L1885.0,2161.5L1886.9,2139.2L1888.7,2122.9L1890.6,2116.9L1892.4,2119.2L1894.1,2125.4L1895.8,2134.4L1897.6,2144.4L1899.3,2153.5L1901.1,2159.7L1902.8,2161.9L1904.6,2160.7L1906.5,2157.1L1908.3,2151.5L1910.1,2144.4L1911.9,2136.5L1913.7,2128.6L1915.5,2121.6L1917.3,2115.9L1919.1,2112.3L1920.9,2111.1L1922.8,2112.0L1924.7,2114.6L1926.5,2118.7L1928.4,2123.9L1930.3,2129.9L1932.1,2136.2L1934.0,2142.2L1935.9,2147.5L1937.7,2151.6L1939.6,2154.2L1941.5,2155.1L1943.3,2154.7L1945.2,2153.6L1947.0,2151.8L1948.9,2149.5L1950.8,2147.0L1952.6,2144.5L1954.5,2142.3L1956.3,2140.5L1958.2,2139.3L1960.1,2139.0L1961.8,2139.3L1963.6,2140.2L1965.4,2141.6L1967.2,2143.4L1969.0,2145.3L1970.8,2147.0L1972.6,2148.5L1974.4,2149.4L1976.2,2149.7L1977.9,2149.2L1979.7,2147.6L1981.4,2145.1L1983.1,2141.7L1984.9,2137.5L1986.6,2132.6L1988.4,2127.2L1990.1,2121.4L1991.8,2115.5L1993.6,2109.5L1995.3,2103.8L1997.1,2098.4L1998.8,2093.5L2000.5,2089.2L2002.3,2085.8L2004.0,2083.3L2005.8,2081.8L2007.5,2081.2L2009.3,2081.8L2011.1,2083.5L2012.9,2086.4L2014.7,2090.2L2016.6,2094.8L2018.4,2100.2L2020.2,2106.1L2022.0,2112.3L2023.8,2118.6L2025.6,2124.8L2027.4,2130.7L2029.2,2136.1L2031.1,2140.8L2032.9,2144.6L2034.7,2147.4L2036.5,2149.1L2038.3,2149.7L2040.1,2149.4L2042.0,2148.5L2043.8,2147.1L2045.6,2145.6L2047.5,2144.0L2049.3,2142.6L2051.1,2141.7L2053.0,2141.4L2054.8,2141.8L2056.6,2143.0L2058.4,2145.0L2060.1,2147.7L2061.9,2150.9L2063.7,2154.6L2065.5,2158.5L2067.3,2162.5L2069.1,2166.4L2070.9,2170.0L2072.7,2173.2L2074.5,2175.9L2076.3,2177.9L2078.1,2179.1L2079.9,2179.5L2081.7,2178.9L2083.5,2176.9L2085.3,2173.7L2087.1,2169.3L2088.9,2164.0L2090.7,2157.9L2092.6,2151.1L2094.4,2144.0L2096.2,2136.8L2098.0,2129.7L2099.8,2123.0L2101.6,2116.8L2103.4,2111.5L2105.2,2107.1L2107.1,2103.9L2108.9,2102.0L2110.7,2101.3L2112.4,2101.9L2114.2,2103.7L2115.9,2106.4L2117.6,2109.8L2119.4,2113.3L2121.1,2116.7L2122.9,2119.4L2124.6,2121.2L2126.3,2121.8L2128.2,2119.8L2130.0,2114.2L2131.8,2105.7L2133.7,2095.7L2135.5,2085.6L2137.3,2077.2L2139.2,2071.5L2141.0,2069.5L2142.9,2075.9L2144.7,2092.6L2146.6,2113.4L2148.4,2130.1L2150.3,2136.5" stroke="#ff1a1a" stroke-width="1.1" stroke-dasharray="1.3 2.1"/></g><text x="1347.5" y="2054.5" font-size="13.6" text-anchor="middle" font-family="'Liberation Sans',sans-serif" textLength="241" lengthAdjust="spacingAndGlyphs">(a) Input <tspan font-style="italic">u</tspan>(<tspan font-style="italic">x</tspan>) and output <tspan font-style="italic">G</tspan>(<tspan font-style="italic">u</tspan>)(<tspan font-style="italic">x</tspan>)</text><text x="1679.5" y="2054.5" font-size="13.6" text-anchor="middle" font-family="'Liberation Sans',sans-serif" textLength="308" lengthAdjust="spacingAndGlyphs">(b) Prediction using DeepOnet &amp; variants</text><text x="2011.5" y="2054.5" font-size="13.6" text-anchor="middle" font-family="'Liberation Sans',sans-serif" textLength="272" lengthAdjust="spacingAndGlyphs">(c) Prediction using HyperDeepONet</text><text transform="translate(1173.5 2137) rotate(-90)" font-size="12.6" text-anchor="middle" font-family="'Liberation Sans',sans-serif"><tspan font-style="italic">u</tspan>(<tspan font-style="italic">x</tspan>)</text><text x="1347" y="2243.5" font-size="12.6" font-style="italic" text-anchor="middle" font-family="'Liberation Sans',sans-serif">x</text><rect x="1213.4" y="2064" width="65" height="32" rx="2" fill="#fff" fill-opacity="0.85" stroke="#ccc" stroke-width="0.8"/><line x1="1217.5" y1="2072.8" x2="1236" y2="2072.8" stroke="#ff1a1a" stroke-width="1.3"/><line x1="1217.5" y1="2086.8" x2="1236" y2="2086.8" stroke="#ff1a1a" stroke-width="1.3" stroke-dasharray="1.3 2.1"/><text x="1243.5" y="2076" font-size="10.1" font-family="'Liberation Sans',sans-serif">input</text><text x="1243.5" y="2090" font-size="10.1" font-family="'Liberation Sans',sans-serif">output</text><rect x="1768.3" y="2154.3" width="131" height="101" rx="2.5" fill="#999" opacity="0.55"/><rect x="1766.5" y="2152.6" width="131.5" height="101.3" rx="2.5" fill="#fff" stroke="#d0d0d0" stroke-width="0.8"/><line x1="1767.5" y1="2159.7" x2="1792" y2="2159.7" stroke="#ff7070" stroke-width="1.0" stroke-dasharray="1.3 2.1"/><text x="1800.5" y="2163.9" font-size="12.4" font-family="'Liberation Sans',sans-serif">Target function</text><line x1="1767.5" y1="2176.8" x2="1792" y2="2176.8" stroke="#0a8a0a" stroke-width="2.0" /><text x="1800.5" y="2181.0" font-size="12.4" font-family="'Liberation Sans',sans-serif">DeepONet</text><line x1="1767.5" y1="2194.0" x2="1792" y2="2194.0" stroke="#ffa500" stroke-width="2.0" /><text x="1800.5" y="2198.2" font-size="12.4" font-family="'Liberation Sans',sans-serif">Shift-DeepONet</text><line x1="1767.5" y1="2211.1" x2="1792" y2="2211.1" stroke="#808080" stroke-width="2.0" /><text x="1800.5" y="2215.3" font-size="12.4" font-family="'Liberation Sans',sans-serif">flexDeepONet</text><line x1="1767.5" y1="2228.3" x2="1792" y2="2228.3" stroke="#8b008b" stroke-width="2.0" /><text x="1800.5" y="2232.5" font-size="12.4" font-family="'Liberation Sans',sans-serif">NOMAD</text><line x1="1767.5" y1="2245.4" x2="1792" y2="2245.4" stroke="#1a1aff" stroke-width="2.0" /><text x="1800.5" y="2249.6" font-size="12.4" font-family="'Liberation Sans',sans-serif">HyperDeepONet</text></svg>
<svg style="left:0;top:0" width="3456" height="2304"><defs><filter id="bl1" x="-30%" y="-30%" width="160%" height="160%"><feGaussianBlur stdDeviation="1.15"/></filter><filter id="bl3" x="-30%" y="-30%" width="160%" height="160%"><feGaussianBlur stdDeviation="2.3"/></filter><filter id="bl2" x="-30%" y="-30%" width="160%" height="160%"><feGaussianBlur stdDeviation="1.8"/></filter><clipPath id="hc00"><rect x="2439.6" y="1482.5" width="139.2" height="139.2"/></clipPath><clipPath id="hc10"><rect x="2439.6" y="1687.1" width="139.2" height="139.2"/></clipPath><clipPath id="hc20"><rect x="2439.6" y="1894.6" width="139.2" height="139.2"/></clipPath><clipPath id="hc30"><rect x="2439.6" y="2099.2" width="139.2" height="139.2"/></clipPath><clipPath id="hc01"><rect x="2595.8" y="1482.5" width="139.2" height="139.2"/></clipPath><clipPath id="hc11"><rect x="2595.8" y="1687.1" width="139.2" height="139.2"/></clipPath><clipPath id="hc21"><rect x="2595.8" y="1894.6" width="139.2" height="139.2"/></clipPath><clipPath id="hc31"><rect x="2595.8" y="2099.2" width="139.2" height="139.2"/></clipPath><clipPath id="hc02"><rect x="2752.1" y="1482.5" width="139.2" height="139.2"/></clipPath><clipPath id="hc12"><rect x="2752.1" y="1687.1" width="139.2" height="139.2"/></clipPath><clipPath id="hc22"><rect x="2752.1" y="1894.6" width="139.2" height="139.2"/></clipPath><clipPath id="hc32"><rect x="2752.1" y="2099.2" width="139.2" height="139.2"/></clipPath><clipPath id="hc03"><rect x="2908.3" y="1482.5" width="139.2" height="139.2"/></clipPath><clipPath id="hc13"><rect x="2908.3" y="1687.1" width="139.2" height="139.2"/></clipPath><clipPath id="hc23"><rect x="2908.3" y="1894.6" width="139.2" height="139.2"/></clipPath><clipPath id="hc33"><rect x="2908.3" y="2099.2" width="139.2" height="139.2"/></clipPath><clipPath id="hc04"><rect x="3064.6" y="1482.5" width="139.2" height="139.2"/></clipPath><clipPath id="hc14"><rect x="3064.6" y="1687.1" width="139.2" height="139.2"/></clipPath><clipPath id="hc24"><rect x="3064.6" y="1894.6" width="139.2" height="139.2"/></clipPath><clipPath id="hc34"><rect x="3064.6" y="2099.2" width="139.2" height="139.2"/></clipPath><radialGradient id="hg00" gradientUnits="userSpaceOnUse" cx="0" cy="0" r="27.84"><stop offset="0.000" stop-color="#fde725"/><stop offset="0.360" stop-color="#fde725"/><stop offset="0.420" stop-color="#2a788e"/><stop offset="0.900" stop-color="#2e6e8e"/><stop offset="1.000" stop-color="#32668d"/></radialGradient><radialGradient id="hg01" gradientUnits="userSpaceOnUse" cx="0" cy="0" r="28.68"><stop offset="0.000" stop-color="#fde725"/><stop offset="0.350" stop-color="#fde725"/><stop offset="0.466" stop-color="#287d8e"/><stop offset="0.874" stop-color="#2e6e8e"/><stop offset="1.000" stop-color="#34628d"/></radialGradient><radialGradient id="hg02" gradientUnits="userSpaceOnUse" cx="0" cy="0" r="30.62"><stop offset="0.000" stop-color="#fde725"/><stop offset="0.182" stop-color="#dde326"/><stop offset="0.409" stop-color="#21918c"/><stop offset="0.727" stop-color="#2e6e8e"/><stop offset="1.000" stop-color="#414487"/></radialGradient><radialGradient id="hg03" gradientUnits="userSpaceOnUse" cx="0" cy="0" r="27.84"><stop offset="0.000" stop-color="#fde725"/><stop offset="0.300" stop-color="#dde326"/><stop offset="0.450" stop-color="#287d8e"/><stop offset="0.900" stop-color="#2e6e8e"/><stop offset="1.000" stop-color="#32668d"/></radialGradient><radialGradient id="hg04" gradientUnits="userSpaceOnUse" cx="0" cy="0" r="28.40"><stop offset="0.000" stop-color="#fde725"/><stop offset="0.245" stop-color="#fde725"/><stop offset="0.412" stop-color="#21918c"/><stop offset="0.588" stop-color="#32668d"/><stop offset="0.804" stop-color="#287d8e"/><stop offset="1.000" stop-color="#3b528a"/></radialGradient><radialGradient id="hg10" gradientUnits="userSpaceOnUse" cx="0" cy="0" r="36.75"><stop offset="0.000" stop-color="#fde725"/><stop offset="0.106" stop-color="#fde725"/><stop offset="0.197" stop-color="#355f8d"/><stop offset="0.303" stop-color="#355f8d"/><stop offset="0.568" stop-color="#44bf70"/><stop offset="0.909" stop-color="#95d740"/><stop offset="1.000" stop-color="#7ad151"/></radialGradient><radialGradient id="hg11" gradientUnits="userSpaceOnUse" cx="0" cy="0" r="37.31"><stop offset="0.000" stop-color="#fde725"/><stop offset="0.112" stop-color="#fde725"/><stop offset="0.224" stop-color="#375a8c"/><stop offset="0.336" stop-color="#33648d"/><stop offset="0.597" stop-color="#44bf70"/><stop offset="0.896" stop-color="#95d740"/><stop offset="1.000" stop-color="#6fcd57"/></radialGradient><radialGradient id="hg12" gradientUnits="userSpaceOnUse" cx="0" cy="0" r="38.42"><stop offset="0.000" stop-color="#dde326"/><stop offset="0.087" stop-color="#bddf26"/><stop offset="0.217" stop-color="#2a788e"/><stop offset="0.435" stop-color="#21918c"/><stop offset="0.688" stop-color="#5fc860"/><stop offset="0.833" stop-color="#b0dc2f"/><stop offset="1.000" stop-color="#2a788e"/></radialGradient><radialGradient id="hg13" gradientUnits="userSpaceOnUse" cx="0" cy="0" r="37.03"><stop offset="0.000" stop-color="#fde725"/><stop offset="0.090" stop-color="#dde326"/><stop offset="0.211" stop-color="#355f8d"/><stop offset="0.376" stop-color="#2a788e"/><stop offset="0.602" stop-color="#4fc36a"/><stop offset="0.902" stop-color="#95d740"/><stop offset="1.000" stop-color="#7ad151"/></radialGradient><radialGradient id="hg14" gradientUnits="userSpaceOnUse" cx="0" cy="0" r="38.42"><stop offset="0.000" stop-color="#26848d"/><stop offset="0.217" stop-color="#2a788e"/><stop offset="0.507" stop-color="#26848d"/><stop offset="0.725" stop-color="#5fc860"/><stop offset="0.826" stop-color="#d0e126"/><stop offset="0.928" stop-color="#22a884"/><stop offset="1.000" stop-color="#3b528a"/></radialGradient><radialGradient id="hg20" gradientUnits="userSpaceOnUse" cx="0" cy="0" r="45.10"><stop offset="0.000" stop-color="#440154"/><stop offset="0.321" stop-color="#440154"/><stop offset="0.463" stop-color="#355f8d"/><stop offset="0.741" stop-color="#22a884"/><stop offset="0.926" stop-color="#44bf70"/><stop offset="1.000" stop-color="#3dba74"/></radialGradient><radialGradient id="hg21" gradientUnits="userSpaceOnUse" cx="0" cy="0" r="45.66"><stop offset="0.000" stop-color="#440154"/><stop offset="0.305" stop-color="#440154"/><stop offset="0.457" stop-color="#355f8d"/><stop offset="0.732" stop-color="#22a884"/><stop offset="0.915" stop-color="#44bf70"/><stop offset="1.000" stop-color="#36b678"/></radialGradient><radialGradient id="hg22" gradientUnits="userSpaceOnUse" cx="0" cy="0" r="46.77"><stop offset="0.000" stop-color="#440154"/><stop offset="0.327" stop-color="#440154"/><stop offset="0.476" stop-color="#306c8e"/><stop offset="0.685" stop-color="#22a884"/><stop offset="0.833" stop-color="#9bd83c"/><stop offset="0.923" stop-color="#5fc860"/><stop offset="1.000" stop-color="#306c8e"/></radialGradient><radialGradient id="hg23" gradientUnits="userSpaceOnUse" cx="0" cy="0" r="45.38"><stop offset="0.000" stop-color="#440154"/><stop offset="0.307" stop-color="#440154"/><stop offset="0.460" stop-color="#355f8d"/><stop offset="0.706" stop-color="#29ad80"/><stop offset="0.920" stop-color="#5ac664"/><stop offset="1.000" stop-color="#44bf70"/></radialGradient><radialGradient id="hg24" gradientUnits="userSpaceOnUse" cx="0" cy="0" r="46.77"><stop offset="0.000" stop-color="#440154"/><stop offset="0.298" stop-color="#440154"/><stop offset="0.446" stop-color="#306c8e"/><stop offset="0.655" stop-color="#21918c"/><stop offset="0.821" stop-color="#87d448"/><stop offset="0.905" stop-color="#22a884"/><stop offset="1.000" stop-color="#3b528a"/></radialGradient><radialGradient id="hg30" gradientUnits="userSpaceOnUse" cx="0" cy="0" r="53.73"><stop offset="0.000" stop-color="#440154"/><stop offset="0.404" stop-color="#440154"/><stop offset="0.544" stop-color="#355f8d"/><stop offset="0.777" stop-color="#229c88"/><stop offset="0.943" stop-color="#30b17c"/><stop offset="1.000" stop-color="#29ad80"/></radialGradient><radialGradient id="hg31" gradientUnits="userSpaceOnUse" cx="0" cy="0" r="54.29"><stop offset="0.000" stop-color="#440154"/><stop offset="0.410" stop-color="#440154"/><stop offset="0.564" stop-color="#355f8d"/><stop offset="0.769" stop-color="#229c88"/><stop offset="0.933" stop-color="#30b17c"/><stop offset="1.000" stop-color="#22a884"/></radialGradient><radialGradient id="hg32" gradientUnits="userSpaceOnUse" cx="0" cy="0" r="55.68"><stop offset="0.000" stop-color="#440154"/><stop offset="0.400" stop-color="#440154"/><stop offset="0.550" stop-color="#306c8e"/><stop offset="0.725" stop-color="#33b47a"/><stop offset="0.850" stop-color="#b0dc2f"/><stop offset="0.925" stop-color="#5fc860"/><stop offset="1.000" stop-color="#355f8d"/></radialGradient><radialGradient id="hg33" gradientUnits="userSpaceOnUse" cx="0" cy="0" r="54.29"><stop offset="0.000" stop-color="#440154"/><stop offset="0.436" stop-color="#440154"/><stop offset="0.564" stop-color="#355f8d"/><stop offset="0.769" stop-color="#22a386"/><stop offset="0.933" stop-color="#3dba74"/><stop offset="1.000" stop-color="#30b17c"/></radialGradient><radialGradient id="hg34" gradientUnits="userSpaceOnUse" cx="0" cy="0" r="55.68"><stop offset="0.000" stop-color="#440154"/><stop offset="0.375" stop-color="#440154"/><stop offset="0.525" stop-color="#355f8d"/><stop offset="0.700" stop-color="#26848d"/><stop offset="0.840" stop-color="#4fc36a"/><stop offset="0.910" stop-color="#229c88"/><stop offset="1.000" stop-color="#414487"/></radialGradient><linearGradient id="vbar" x1="0" x2="0" y1="0" y2="1"><stop offset="0.00" stop-color="#fde725"/><stop offset="0.10" stop-color="#bddf26"/><stop offset="0.20" stop-color="#7ad151"/><stop offset="0.30" stop-color="#44bf70"/><stop offset="0.40" stop-color="#22a884"/><stop offset="0.50" stop-color="#21918c"/><stop offset="0.60" stop-color="#2a788e"/><stop offset="0.70" stop-color="#355f8d"/><stop offset="0.80" stop-color="#414487"/><stop offset="0.90" stop-color="#482475"/><stop offset="1.00" stop-color="#440154"/></linearGradient></defs><line x1="2453.5" y1="1621.7" x2="2453.5" y2="1623.5" stroke="#000" stroke-width="0.5"/><text x="2453.5" y="1630.2" font-size="5.4" text-anchor="middle" font-family="'Liberation Sans',sans-serif">−2</text><line x1="2437.7999999999997" y1="1607.8" x2="2439.6" y2="1607.8" stroke="#000" stroke-width="0.5"/><text x="2436.4" y="1609.8" font-size="5.4" text-anchor="end" font-family="'Liberation Sans',sans-serif">−2</text><line x1="2481.4" y1="1621.7" x2="2481.4" y2="1623.5" stroke="#000" stroke-width="0.5"/><text x="2481.4" y="1630.2" font-size="5.4" text-anchor="middle" font-family="'Liberation Sans',sans-serif">−1</text><line x1="2437.7999999999997" y1="1579.9" x2="2439.6" y2="1579.9" stroke="#000" stroke-width="0.5"/><text x="2436.4" y="1581.9" font-size="5.4" text-anchor="end" font-family="'Liberation Sans',sans-serif">−1</text><line x1="2509.2" y1="1621.7" x2="2509.2" y2="1623.5" stroke="#000" stroke-width="0.5"/><text x="2509.2" y="1630.2" font-size="5.4" text-anchor="middle" font-family="'Liberation Sans',sans-serif">0</text><line x1="2437.7999999999997" y1="1552.1" x2="2439.6" y2="1552.1" stroke="#000" stroke-width="0.5"/><text x="2436.4" y="1554.1" font-size="5.4" text-anchor="end" font-family="'Liberation Sans',sans-serif">0</text><line x1="2537.0" y1="1621.7" x2="2537.0" y2="1623.5" stroke="#000" stroke-width="0.5"/><text x="2537.0" y="1630.2" font-size="5.4" text-anchor="middle" font-family="'Liberation Sans',sans-serif">1</text><line x1="2437.7999999999997" y1="1524.3" x2="2439.6" y2="1524.3" stroke="#000" stroke-width="0.5"/><text x="2436.4" y="1526.3" font-size="5.4" text-anchor="end" font-family="'Liberation Sans',sans-serif">1</text><line x1="2564.9" y1="1621.7" x2="2564.9" y2="1623.5" stroke="#000" stroke-width="0.5"/><text x="2564.9" y="1630.2" font-size="5.4" text-anchor="middle" font-family="'Liberation Sans',sans-serif">2</text><line x1="2437.7999999999997" y1="1496.4" x2="2439.6" y2="1496.4" stroke="#000" stroke-width="0.5"/><text x="2436.4" y="1498.4" font-size="5.4" text-anchor="end" font-family="'Liberation Sans',sans-serif">2</text><text x="2509.2" y="1641.2" font-size="10.5" font-style="italic" text-anchor="middle" font-family="'Liberation Sans',sans-serif">x<tspan font-size="7.2" dy="2.2" font-style="normal">1</tspan></text><text transform="translate(2423.1 1552.1) rotate(-90)" font-size="10.5" font-style="italic" text-anchor="middle" font-family="'Liberation Sans',sans-serif">x<tspan font-size="7.2" dy="2.2" font-style="normal">2</tspan></text><line x1="2609.7" y1="1621.7" x2="2609.7" y2="1623.5" stroke="#000" stroke-width="0.5"/><text x="2609.7" y="1630.2" font-size="5.4" text-anchor="middle" font-family="'Liberation Sans',sans-serif">−2</text><line x1="2594.0" y1="1607.8" x2="2595.8" y2="1607.8" stroke="#000" stroke-width="0.5"/><text x="2592.6" y="1609.8" font-size="5.4" text-anchor="end" font-family="'Liberation Sans',sans-serif">−2</text><line x1="2637.6" y1="1621.7" x2="2637.6" y2="1623.5" stroke="#000" stroke-width="0.5"/><text x="2637.6" y="1630.2" font-size="5.4" text-anchor="middle" font-family="'Liberation Sans',sans-serif">−1</text><line x1="2594.0" y1="1579.9" x2="2595.8" y2="1579.9" stroke="#000" stroke-width="0.5"/><text x="2592.6" y="1581.9" font-size="5.4" text-anchor="end" font-family="'Liberation Sans',sans-serif">−1</text><line x1="2665.4" y1="1621.7" x2="2665.4" y2="1623.5" stroke="#000" stroke-width="0.5"/><text x="2665.4" y="1630.2" font-size="5.4" text-anchor="middle" font-family="'Liberation Sans',sans-serif">0</text><line x1="2594.0" y1="1552.1" x2="2595.8" y2="1552.1" stroke="#000" stroke-width="0.5"/><text x="2592.6" y="1554.1" font-size="5.4" text-anchor="end" font-family="'Liberation Sans',sans-serif">0</text><line x1="2693.2" y1="1621.7" x2="2693.2" y2="1623.5" stroke="#000" stroke-width="0.5"/><text x="2693.2" y="1630.2" font-size="5.4" text-anchor="middle" font-family="'Liberation Sans',sans-serif">1</text><line x1="2594.0" y1="1524.3" x2="2595.8" y2="1524.3" stroke="#000" stroke-width="0.5"/><text x="2592.6" y="1526.3" font-size="5.4" text-anchor="end" font-family="'Liberation Sans',sans-serif">1</text><line x1="2721.1" y1="1621.7" x2="2721.1" y2="1623.5" stroke="#000" stroke-width="0.5"/><text x="2721.1" y="1630.2" font-size="5.4" text-anchor="middle" font-family="'Liberation Sans',sans-serif">2</text><line x1="2594.0" y1="1496.4" x2="2595.8" y2="1496.4" stroke="#000" stroke-width="0.5"/><text x="2592.6" y="1498.4" font-size="5.4" text-anchor="end" font-family="'Liberation Sans',sans-serif">2</text><text x="2665.4" y="1641.2" font-size="10.5" font-style="italic" text-anchor="middle" font-family="'Liberation Sans',sans-serif">x<tspan font-size="7.2" dy="2.2" font-style="normal">1</tspan></text><text transform="translate(2579.3 1552.1) rotate(-90)" font-size="10.5" font-style="italic" text-anchor="middle" font-family="'Liberation Sans',sans-serif">x<tspan font-size="7.2" dy="2.2" font-style="normal">2</tspan></text><line x1="2766.0" y1="1621.7" x2="2766.0" y2="1623.5" stroke="#000" stroke-width="0.5"/><text x="2766.0" y="1630.2" font-size="5.4" text-anchor="middle" font-family="'Liberation Sans',sans-serif">−2</text><line x1="2750.2999999999997" y1="1607.8" x2="2752.1" y2="1607.8" stroke="#000" stroke-width="0.5"/><text x="2748.9" y="1609.8" font-size="5.4" text-anchor="end" font-family="'Liberation Sans',sans-serif">−2</text><line x1="2793.9" y1="1621.7" x2="2793.9" y2="1623.5" stroke="#000" stroke-width="0.5"/><text x="2793.9" y="1630.2" font-size="5.4" text-anchor="middle" font-family="'Liberation Sans',sans-serif">−1</text><line x1="2750.2999999999997" y1="1579.9" x2="2752.1" y2="1579.9" stroke="#000" stroke-width="0.5"/><text x="2748.9" y="1581.9" font-size="5.4" text-anchor="end" font-family="'Liberation Sans',sans-serif">−1</text><line x1="2821.7" y1="1621.7" x2="2821.7" y2="1623.5" stroke="#000" stroke-width="0.5"/><text x="2821.7" y="1630.2" font-size="5.4" text-anchor="middle" font-family="'Liberation Sans',sans-serif">0</text><line x1="2750.2999999999997" y1="1552.1" x2="2752.1" y2="1552.1" stroke="#000" stroke-width="0.5"/><text x="2748.9" y="1554.1" font-size="5.4" text-anchor="end" font-family="'Liberation Sans',sans-serif">0</text><line x1="2849.5" y1="1621.7" x2="2849.5" y2="1623.5" stroke="#000" stroke-width="0.5"/><text x="2849.5" y="1630.2" font-size="5.4" text-anchor="middle" font-family="'Liberation Sans',sans-serif">1</text><line x1="2750.2999999999997" y1="1524.3" x2="2752.1" y2="1524.3" stroke="#000" stroke-width="0.5"/><text x="2748.9" y="1526.3" font-size="5.4" text-anchor="end" font-family="'Liberation Sans',sans-serif">1</text><line x1="2877.4" y1="1621.7" x2="2877.4" y2="1623.5" stroke="#000" stroke-width="0.5"/><text x="2877.4" y="1630.2" font-size="5.4" text-anchor="middle" font-family="'Liberation Sans',sans-serif">2</text><line x1="2750.2999999999997" y1="1496.4" x2="2752.1" y2="1496.4" stroke="#000" stroke-width="0.5"/><text x="2748.9" y="1498.4" font-size="5.4" text-anchor="end" font-family="'Liberation Sans',sans-serif">2</text><text x="2821.7" y="1641.2" font-size="10.5" font-style="italic" text-anchor="middle" font-family="'Liberation Sans',sans-serif">x<tspan font-size="7.2" dy="2.2" font-style="normal">1</tspan></text><text transform="translate(2735.6 1552.1) rotate(-90)" font-size="10.5" font-style="italic" text-anchor="middle" font-family="'Liberation Sans',sans-serif">x<tspan font-size="7.2" dy="2.2" font-style="normal">2</tspan></text><line x1="2922.2" y1="1621.7" x2="2922.2" y2="1623.5" stroke="#000" stroke-width="0.5"/><text x="2922.2" y="1630.2" font-size="5.4" text-anchor="middle" font-family="'Liberation Sans',sans-serif">−2</text><line x1="2906.5" y1="1607.8" x2="2908.3" y2="1607.8" stroke="#000" stroke-width="0.5"/><text x="2905.1" y="1609.8" font-size="5.4" text-anchor="end" font-family="'Liberation Sans',sans-serif">−2</text><line x1="2950.1" y1="1621.7" x2="2950.1" y2="1623.5" stroke="#000" stroke-width="0.5"/><text x="2950.1" y="1630.2" font-size="5.4" text-anchor="middle" font-family="'Liberation Sans',sans-serif">−1</text><line x1="2906.5" y1="1579.9" x2="2908.3" y2="1579.9" stroke="#000" stroke-width="0.5"/><text x="2905.1" y="1581.9" font-size="5.4" text-anchor="end" font-family="'Liberation Sans',sans-serif">−1</text><line x1="2977.9" y1="1621.7" x2="2977.9" y2="1623.5" stroke="#000" stroke-width="0.5"/><text x="2977.9" y="1630.2" font-size="5.4" text-anchor="middle" font-family="'Liberation Sans',sans-serif">0</text><line x1="2906.5" y1="1552.1" x2="2908.3" y2="1552.1" stroke="#000" stroke-width="0.5"/><text x="2905.1" y="1554.1" font-size="5.4" text-anchor="end" font-family="'Liberation Sans',sans-serif">0</text><line x1="3005.7" y1="1621.7" x2="3005.7" y2="1623.5" stroke="#000" stroke-width="0.5"/><text x="3005.7" y="1630.2" font-size="5.4" text-anchor="middle" font-family="'Liberation Sans',sans-serif">1</text><line x1="2906.5" y1="1524.3" x2="2908.3" y2="1524.3" stroke="#000" stroke-width="0.5"/><text x="2905.1" y="1526.3" font-size="5.4" text-anchor="end" font-family="'Liberation Sans',sans-serif">1</text><line x1="3033.6" y1="1621.7" x2="3033.6" y2="1623.5" stroke="#000" stroke-width="0.5"/><text x="3033.6" y="1630.2" font-size="5.4" text-anchor="middle" font-family="'Liberation Sans',sans-serif">2</text><line x1="2906.5" y1="1496.4" x2="2908.3" y2="1496.4" stroke="#000" stroke-width="0.5"/><text x="2905.1" y="1498.4" font-size="5.4" text-anchor="end" font-family="'Liberation Sans',sans-serif">2</text><text x="2977.9" y="1641.2" font-size="10.5" font-style="italic" text-anchor="middle" font-family="'Liberation Sans',sans-serif">x<tspan font-size="7.2" dy="2.2" font-style="normal">1</tspan></text><text transform="translate(2891.8 1552.1) rotate(-90)" font-size="10.5" font-style="italic" text-anchor="middle" font-family="'Liberation Sans',sans-serif">x<tspan font-size="7.2" dy="2.2" font-style="normal">2</tspan></text><line x1="3078.5" y1="1621.7" x2="3078.5" y2="1623.5" stroke="#000" stroke-width="0.5"/><text x="3078.5" y="1630.2" font-size="5.4" text-anchor="middle" font-family="'Liberation Sans',sans-serif">−2</text><line x1="3062.7999999999997" y1="1607.8" x2="3064.6" y2="1607.8" stroke="#000" stroke-width="0.5"/><text x="3061.4" y="1609.8" font-size="5.4" text-anchor="end" font-family="'Liberation Sans',sans-serif">−2</text><line x1="3106.4" y1="1621.7" x2="3106.4" y2="1623.5" stroke="#000" stroke-width="0.5"/><text x="3106.4" y="1630.2" font-size="5.4" text-anchor="middle" font-family="'Liberation Sans',sans-serif">−1</text><line x1="3062.7999999999997" y1="1579.9" x2="3064.6" y2="1579.9" stroke="#000" stroke-width="0.5"/><text x="3061.4" y="1581.9" font-size="5.4" text-anchor="end" font-family="'Liberation Sans',sans-serif">−1</text><line x1="3134.2" y1="1621.7" x2="3134.2" y2="1623.5" stroke="#000" stroke-width="0.5"/><text x="3134.2" y="1630.2" font-size="5.4" text-anchor="middle" font-family="'Liberation Sans',sans-serif">0</text><line x1="3062.7999999999997" y1="1552.1" x2="3064.6" y2="1552.1" stroke="#000" stroke-width="0.5"/><text x="3061.4" y="1554.1" font-size="5.4" text-anchor="end" font-family="'Liberation Sans',sans-serif">0</text><line x1="3162.0" y1="1621.7" x2="3162.0" y2="1623.5" stroke="#000" stroke-width="0.5"/><text x="3162.0" y="1630.2" font-size="5.4" text-anchor="middle" font-family="'Liberation Sans',sans-serif">1</text><line x1="3062.7999999999997" y1="1524.3" x2="3064.6" y2="1524.3" stroke="#000" stroke-width="0.5"/><text x="3061.4" y="1526.3" font-size="5.4" text-anchor="end" font-family="'Liberation Sans',sans-serif">1</text><line x1="3189.9" y1="1621.7" x2="3189.9" y2="1623.5" stroke="#000" stroke-width="0.5"/><text x="3189.9" y="1630.2" font-size="5.4" text-anchor="middle" font-family="'Liberation Sans',sans-serif">2</text><line x1="3062.7999999999997" y1="1496.4" x2="3064.6" y2="1496.4" stroke="#000" stroke-width="0.5"/><text x="3061.4" y="1498.4" font-size="5.4" text-anchor="end" font-family="'Liberation Sans',sans-serif">2</text><text x="3134.2" y="1641.2" font-size="10.5" font-style="italic" text-anchor="middle" font-family="'Liberation Sans',sans-serif">x<tspan font-size="7.2" dy="2.2" font-style="normal">1</tspan></text><text transform="translate(3048.1 1552.1) rotate(-90)" font-size="10.5" font-style="italic" text-anchor="middle" font-family="'Liberation Sans',sans-serif">x<tspan font-size="7.2" dy="2.2" font-style="normal">2</tspan></text><rect x="2439.6" y="1482.5" width="139.2" height="139.2" fill="#440154"/><g clip-path="url(#hc00)"><g transform="translate(2509.2 1552.1)"><circle r="27.8" fill="url(#hg00)" filter="url(#bl1)"/></g></g><text x="2509.2" y="1478.8" font-size="14.3" letter-spacing="0.35" text-anchor="middle" fill="#111" font-family="'Liberation Sans',sans-serif">Exact Solution</text><rect x="2595.8" y="1482.5" width="139.2" height="139.2" fill="#440154"/><g clip-path="url(#hc01)"><g transform="translate(2665.4 1552.1)"><path d="M28.6,0.0L28.7,3.0L28.6,6.1L28.1,9.1L27.0,12.0L25.5,14.7L23.5,17.1L21.3,19.2L19.0,21.1L16.6,22.8L14.1,24.4L11.4,25.7L8.7,26.7L5.8,27.4L2.9,28.0L0.0,28.3L-3.0,28.5L-6.0,28.3L-9.0,27.8L-11.9,26.7L-14.6,25.2L-17.0,23.4L-19.2,21.3L-21.3,19.2L-23.3,16.9L-25.1,14.5L-26.6,11.8L-27.6,9.0L-28.2,6.0L-28.4,3.0L-28.3,0.0L-28.1,-2.9L-27.6,-5.9L-26.8,-8.7L-25.7,-11.5L-24.4,-14.1L-22.8,-16.5L-21.0,-18.9L-19.2,-21.3L-17.1,-23.5L-14.7,-25.5L-12.1,-27.1L-9.1,-28.1L-6.1,-28.7L-3.0,-28.8L-0.0,-28.6L3.0,-28.3L5.9,-27.8L8.8,-27.1L11.6,-26.0L14.2,-24.6L16.6,-22.9L18.9,-21.0L21.0,-18.9L23.0,-16.7L24.8,-14.3L26.2,-11.7L27.2,-8.8L27.9,-5.9L28.3,-3.0Z" fill="url(#hg01)" filter="url(#bl1)"/></g></g><text x="2665.4" y="1478.8" font-size="14.3" letter-spacing="0.35" text-anchor="middle" fill="#111" font-family="'Liberation Sans',sans-serif">HyperDeepONet</text><rect x="2752.1" y="1482.5" width="139.2" height="139.2" fill="#440154"/><g clip-path="url(#hc02)"><g transform="translate(2821.7 1552.1)"><path d="M0,0 L46.1,48.5 L33.3,58.0 Z" fill="#443780" opacity="0.28" filter="url(#bl3)"/><path d="M0,0 L-25.9,-69.4 L-8.8,-73.6 Z" fill="#443780" opacity="0.28" filter="url(#bl3)"/><path d="M0,0 L-51.0,-36.5 L-41.3,-47.2 Z" fill="#443780" opacity="0.28" filter="url(#bl3)"/><path d="M0,0 L-78.4,-5.3 L-74.9,-23.8 Z" fill="#443780" opacity="0.28" filter="url(#bl3)"/><path d="M0,0 L46.5,-57.3 L59.6,-43.6 Z" fill="#443780" opacity="0.28" filter="url(#bl3)"/><path d="M0,0 L19.8,86.1 L5.8,88.1 Z" fill="#443780" opacity="0.28" filter="url(#bl3)"/><path d="M0,0 L-36.4,-66.7 L-19.7,-73.4 Z" fill="#443780" opacity="0.28" filter="url(#bl3)"/><path d="M31.5,0.0L32.2,3.4L32.1,6.8L31.2,10.1L29.5,13.2L27.5,15.9L25.1,18.3L22.7,20.4L20.3,22.6L18.0,24.7L15.3,26.5L12.4,27.8L9.4,28.9L6.4,30.0L3.3,30.9L0.0,31.6L-3.3,31.6L-6.5,30.8L-9.5,29.3L-12.2,27.5L-14.7,25.5L-17.2,23.7L-19.7,21.8L-22.4,20.2L-25.3,18.4L-27.8,16.0L-29.7,13.2L-31.1,10.1L-32.0,6.8L-32.5,3.4L-32.5,0.0L-31.9,-3.3L-30.5,-6.5L-28.7,-9.3L-26.7,-11.9L-24.8,-14.3L-23.1,-16.8L-21.4,-19.3L-19.8,-21.9L-18.0,-24.7L-15.6,-27.0L-12.8,-28.8L-9.8,-30.1L-6.6,-31.1L-3.4,-31.9L-0.0,-32.4L3.4,-32.5L6.8,-31.9L9.9,-30.6L12.8,-28.8L15.5,-26.8L17.9,-24.6L20.0,-22.2L22.1,-19.9L24.2,-17.6L25.8,-14.9L26.9,-12.0L27.9,-9.1L29.0,-6.2L30.3,-3.2Z" fill="url(#hg02)" filter="url(#bl3)"/></g></g><text x="2821.7" y="1478.8" font-size="14.3" letter-spacing="0.35" text-anchor="middle" fill="#111" font-family="'Liberation Sans',sans-serif">DeepONet</text><rect x="2908.3" y="1482.5" width="139.2" height="139.2" fill="#440154"/><g clip-path="url(#hc03)"><g transform="translate(2977.9 1552.1)"><path d="M28.9,0.0L28.4,3.0L27.7,5.9L26.7,8.7L25.5,11.4L24.1,13.9L22.4,16.3L20.4,18.4L18.3,20.4L16.1,22.2L13.7,23.8L11.2,25.2L8.6,26.4L5.8,27.3L2.9,28.0L0.0,28.2L-3.0,28.1L-5.9,27.7L-8.8,27.0L-11.6,26.0L-14.3,24.7L-16.7,23.0L-18.8,20.9L-20.7,18.6L-22.4,16.3L-23.8,13.8L-25.2,11.2L-26.3,8.6L-27.3,5.8L-27.9,2.9L-28.2,0.0L-28.0,-2.9L-27.4,-5.8L-26.6,-8.6L-25.5,-11.4L-24.2,-14.0L-22.5,-16.3L-20.5,-18.5L-18.4,-20.5L-16.3,-22.4L-14.0,-24.2L-11.5,-25.8L-8.8,-27.2L-6.0,-28.2L-3.0,-28.8L-0.0,-28.8L3.0,-28.3L5.8,-27.4L8.5,-26.3L11.1,-25.0L13.6,-23.6L15.9,-21.9L18.1,-20.1L20.2,-18.2L22.2,-16.1L24.1,-13.9L25.8,-11.5L27.2,-8.8L28.3,-6.0L28.8,-3.0Z" fill="url(#hg03)" filter="url(#bl1)"/><rect x="-8.4" y="-7.8" width="16.7" height="3.3" fill="#2c738e" filter="url(#bl1)"/></g></g><text x="2977.9" y="1463.8" font-size="14.3" letter-spacing="0.35" text-anchor="middle" fill="#111" font-family="'Liberation Sans',sans-serif">HyperDeepONet</text><text x="2977.9" y="1478.8" font-size="14.3" letter-spacing="0.35" text-anchor="middle" fill="#111" font-family="'Liberation Sans',sans-serif">(small)</text><rect x="3064.6" y="1482.5" width="139.2" height="139.2" fill="#440154"/><g clip-path="url(#hc04)"><g transform="translate(3134.2 1552.1)"><path d="M0,0 L-58.0,51.4 L-65.1,42.0 Z" fill="#45317c" opacity="0.25" filter="url(#bl3)"/><path d="M0,0 L52.6,47.0 L41.7,56.8 Z" fill="#45317c" opacity="0.25" filter="url(#bl3)"/><path d="M0,0 L-36.0,-80.5 L-22.5,-85.3 Z" fill="#45317c" opacity="0.25" filter="url(#bl3)"/><path d="M0,0 L74.3,29.7 L69.1,40.4 Z" fill="#45317c" opacity="0.25" filter="url(#bl3)"/><path d="M0,0 L81.9,-19.5 L84.2,2.3 Z" fill="#45317c" opacity="0.25" filter="url(#bl3)"/><path d="M30.3,0.0L30.0,3.1L29.1,6.2L27.9,9.1L26.5,11.8L24.7,14.3L22.6,16.4L20.3,18.3L18.0,20.0L15.9,21.8L13.6,23.6L11.3,25.4L8.8,27.1L6.1,28.5L3.1,29.4L0.0,29.6L-3.1,29.2L-6.0,28.4L-8.9,27.4L-11.7,26.3L-14.4,24.9L-16.9,23.3L-19.1,21.2L-21.1,19.0L-23.1,16.7L-24.7,14.3L-26.2,11.7L-27.4,8.9L-28.2,6.0L-28.5,3.0L-28.3,0.0L-27.8,-2.9L-27.1,-5.8L-26.4,-8.6L-25.6,-11.4L-24.7,-14.2L-23.3,-16.9L-21.4,-19.3L-19.3,-21.4L-17.0,-23.4L-14.5,-25.1L-11.8,-26.6L-9.0,-27.8L-6.1,-28.6L-3.1,-29.1L-0.0,-29.0L3.0,-28.5L5.9,-27.8L8.7,-26.9L11.5,-25.8L14.1,-24.4L16.5,-22.7L18.5,-20.5L20.4,-18.3L22.2,-16.1L24.0,-13.8L25.7,-11.5L27.4,-8.9L28.9,-6.1L29.9,-3.1Z" fill="url(#hg04)" filter="url(#bl2)"/></g></g><text x="3134.2" y="1463.8" font-size="14.3" letter-spacing="0.35" text-anchor="middle" fill="#111" font-family="'Liberation Sans',sans-serif">DeepONet</text><text x="3134.2" y="1478.8" font-size="14.3" letter-spacing="0.35" text-anchor="middle" fill="#111" font-family="'Liberation Sans',sans-serif">(small)</text><rect x="3252.9" y="1482.5" width="13.8" height="139.2" fill="url(#vbar)"/><line x1="3266.7" y1="1482.5" x2="3269" y2="1482.5" stroke="#000" stroke-width="0.5"/><text x="3270.8" y="1486.9" font-size="12.3" fill="#111" font-family="'Liberation Sans',sans-serif">2.0</text><line x1="3266.7" y1="1510.3" x2="3269" y2="1510.3" stroke="#000" stroke-width="0.5"/><text x="3270.8" y="1514.7" font-size="12.3" fill="#111" font-family="'Liberation Sans',sans-serif">1.8</text><line x1="3266.7" y1="1538.2" x2="3269" y2="1538.2" stroke="#000" stroke-width="0.5"/><text x="3270.8" y="1542.6" font-size="12.3" fill="#111" font-family="'Liberation Sans',sans-serif">1.6</text><line x1="3266.7" y1="1566.0" x2="3269" y2="1566.0" stroke="#000" stroke-width="0.5"/><text x="3270.8" y="1570.4" font-size="12.3" fill="#111" font-family="'Liberation Sans',sans-serif">1.4</text><line x1="3266.7" y1="1593.9" x2="3269" y2="1593.9" stroke="#000" stroke-width="0.5"/><text x="3270.8" y="1598.3" font-size="12.3" fill="#111" font-family="'Liberation Sans',sans-serif">1.2</text><line x1="3266.7" y1="1621.7" x2="3269" y2="1621.7" stroke="#000" stroke-width="0.5"/><text x="3270.8" y="1626.1" font-size="12.3" fill="#111" font-family="'Liberation Sans',sans-serif">1.0</text><line x1="2453.5" y1="1826.3" x2="2453.5" y2="1828.1" stroke="#000" stroke-width="0.5"/><text x="2453.5" y="1834.8" font-size="5.4" text-anchor="middle" font-family="'Liberation Sans',sans-serif">−2</text><line x1="2437.7999999999997" y1="1812.4" x2="2439.6" y2="1812.4" stroke="#000" stroke-width="0.5"/><text x="2436.4" y="1814.4" font-size="5.4" text-anchor="end" font-family="'Liberation Sans',sans-serif">−2</text><line x1="2481.4" y1="1826.3" x2="2481.4" y2="1828.1" stroke="#000" stroke-width="0.5"/><text x="2481.4" y="1834.8" font-size="5.4" text-anchor="middle" font-family="'Liberation Sans',sans-serif">−1</text><line x1="2437.7999999999997" y1="1784.5" x2="2439.6" y2="1784.5" stroke="#000" stroke-width="0.5"/><text x="2436.4" y="1786.5" font-size="5.4" text-anchor="end" font-family="'Liberation Sans',sans-serif">−1</text><line x1="2509.2" y1="1826.3" x2="2509.2" y2="1828.1" stroke="#000" stroke-width="0.5"/><text x="2509.2" y="1834.8" font-size="5.4" text-anchor="middle" font-family="'Liberation Sans',sans-serif">0</text><line x1="2437.7999999999997" y1="1756.7" x2="2439.6" y2="1756.7" stroke="#000" stroke-width="0.5"/><text x="2436.4" y="1758.7" font-size="5.4" text-anchor="end" font-family="'Liberation Sans',sans-serif">0</text><line x1="2537.0" y1="1826.3" x2="2537.0" y2="1828.1" stroke="#000" stroke-width="0.5"/><text x="2537.0" y="1834.8" font-size="5.4" text-anchor="middle" font-family="'Liberation Sans',sans-serif">1</text><line x1="2437.7999999999997" y1="1728.9" x2="2439.6" y2="1728.9" stroke="#000" stroke-width="0.5"/><text x="2436.4" y="1730.9" font-size="5.4" text-anchor="end" font-family="'Liberation Sans',sans-serif">1</text><line x1="2564.9" y1="1826.3" x2="2564.9" y2="1828.1" stroke="#000" stroke-width="0.5"/><text x="2564.9" y="1834.8" font-size="5.4" text-anchor="middle" font-family="'Liberation Sans',sans-serif">2</text><line x1="2437.7999999999997" y1="1701.0" x2="2439.6" y2="1701.0" stroke="#000" stroke-width="0.5"/><text x="2436.4" y="1703.0" font-size="5.4" text-anchor="end" font-family="'Liberation Sans',sans-serif">2</text><text x="2509.2" y="1845.8" font-size="10.5" font-style="italic" text-anchor="middle" font-family="'Liberation Sans',sans-serif">x<tspan font-size="7.2" dy="2.2" font-style="normal">1</tspan></text><text transform="translate(2423.1 1756.7) rotate(-90)" font-size="10.5" font-style="italic" text-anchor="middle" font-family="'Liberation Sans',sans-serif">x<tspan font-size="7.2" dy="2.2" font-style="normal">2</tspan></text><line x1="2609.7" y1="1826.3" x2="2609.7" y2="1828.1" stroke="#000" stroke-width="0.5"/><text x="2609.7" y="1834.8" font-size="5.4" text-anchor="middle" font-family="'Liberation Sans',sans-serif">−2</text><line x1="2594.0" y1="1812.4" x2="2595.8" y2="1812.4" stroke="#000" stroke-width="0.5"/><text x="2592.6" y="1814.4" font-size="5.4" text-anchor="end" font-family="'Liberation Sans',sans-serif">−2</text><line x1="2637.6" y1="1826.3" x2="2637.6" y2="1828.1" stroke="#000" stroke-width="0.5"/><text x="2637.6" y="1834.8" font-size="5.4" text-anchor="middle" font-family="'Liberation Sans',sans-serif">−1</text><line x1="2594.0" y1="1784.5" x2="2595.8" y2="1784.5" stroke="#000" stroke-width="0.5"/><text x="2592.6" y="1786.5" font-size="5.4" text-anchor="end" font-family="'Liberation Sans',sans-serif">−1</text><line x1="2665.4" y1="1826.3" x2="2665.4" y2="1828.1" stroke="#000" stroke-width="0.5"/><text x="2665.4" y="1834.8" font-size="5.4" text-anchor="middle" font-family="'Liberation Sans',sans-serif">0</text><line x1="2594.0" y1="1756.7" x2="2595.8" y2="1756.7" stroke="#000" stroke-width="0.5"/><text x="2592.6" y="1758.7" font-size="5.4" text-anchor="end" font-family="'Liberation Sans',sans-serif">0</text><line x1="2693.2" y1="1826.3" x2="2693.2" y2="1828.1" stroke="#000" stroke-width="0.5"/><text x="2693.2" y="1834.8" font-size="5.4" text-anchor="middle" font-family="'Liberation Sans',sans-serif">1</text><line x1="2594.0" y1="1728.9" x2="2595.8" y2="1728.9" stroke="#000" stroke-width="0.5"/><text x="2592.6" y="1730.9" font-size="5.4" text-anchor="end" font-family="'Liberation Sans',sans-serif">1</text><line x1="2721.1" y1="1826.3" x2="2721.1" y2="1828.1" stroke="#000" stroke-width="0.5"/><text x="2721.1" y="1834.8" font-size="5.4" text-anchor="middle" font-family="'Liberation Sans',sans-serif">2</text><line x1="2594.0" y1="1701.0" x2="2595.8" y2="1701.0" stroke="#000" stroke-width="0.5"/><text x="2592.6" y="1703.0" font-size="5.4" text-anchor="end" font-family="'Liberation Sans',sans-serif">2</text><text x="2665.4" y="1845.8" font-size="10.5" font-style="italic" text-anchor="middle" font-family="'Liberation Sans',sans-serif">x<tspan font-size="7.2" dy="2.2" font-style="normal">1</tspan></text><text transform="translate(2579.3 1756.7) rotate(-90)" font-size="10.5" font-style="italic" text-anchor="middle" font-family="'Liberation Sans',sans-serif">x<tspan font-size="7.2" dy="2.2" font-style="normal">2</tspan></text><line x1="2766.0" y1="1826.3" x2="2766.0" y2="1828.1" stroke="#000" stroke-width="0.5"/><text x="2766.0" y="1834.8" font-size="5.4" text-anchor="middle" font-family="'Liberation Sans',sans-serif">−2</text><line x1="2750.2999999999997" y1="1812.4" x2="2752.1" y2="1812.4" stroke="#000" stroke-width="0.5"/><text x="2748.9" y="1814.4" font-size="5.4" text-anchor="end" font-family="'Liberation Sans',sans-serif">−2</text><line x1="2793.9" y1="1826.3" x2="2793.9" y2="1828.1" stroke="#000" stroke-width="0.5"/><text x="2793.9" y="1834.8" font-size="5.4" text-anchor="middle" font-family="'Liberation Sans',sans-serif">−1</text><line x1="2750.2999999999997" y1="1784.5" x2="2752.1" y2="1784.5" stroke="#000" stroke-width="0.5"/><text x="2748.9" y="1786.5" font-size="5.4" text-anchor="end" font-family="'Liberation Sans',sans-serif">−1</text><line x1="2821.7" y1="1826.3" x2="2821.7" y2="1828.1" stroke="#000" stroke-width="0.5"/><text x="2821.7" y="1834.8" font-size="5.4" text-anchor="middle" font-family="'Liberation Sans',sans-serif">0</text><line x1="2750.2999999999997" y1="1756.7" x2="2752.1" y2="1756.7" stroke="#000" stroke-width="0.5"/><text x="2748.9" y="1758.7" font-size="5.4" text-anchor="end" font-family="'Liberation Sans',sans-serif">0</text><line x1="2849.5" y1="1826.3" x2="2849.5" y2="1828.1" stroke="#000" stroke-width="0.5"/><text x="2849.5" y="1834.8" font-size="5.4" text-anchor="middle" font-family="'Liberation Sans',sans-serif">1</text><line x1="2750.2999999999997" y1="1728.9" x2="2752.1" y2="1728.9" stroke="#000" stroke-width="0.5"/><text x="2748.9" y="1730.9" font-size="5.4" text-anchor="end" font-family="'Liberation Sans',sans-serif">1</text><line x1="2877.4" y1="1826.3" x2="2877.4" y2="1828.1" stroke="#000" stroke-width="0.5"/><text x="2877.4" y="1834.8" font-size="5.4" text-anchor="middle" font-family="'Liberation Sans',sans-serif">2</text><line x1="2750.2999999999997" y1="1701.0" x2="2752.1" y2="1701.0" stroke="#000" stroke-width="0.5"/><text x="2748.9" y="1703.0" font-size="5.4" text-anchor="end" font-family="'Liberation Sans',sans-serif">2</text><text x="2821.7" y="1845.8" font-size="10.5" font-style="italic" text-anchor="middle" font-family="'Liberation Sans',sans-serif">x<tspan font-size="7.2" dy="2.2" font-style="normal">1</tspan></text><text transform="translate(2735.6 1756.7) rotate(-90)" font-size="10.5" font-style="italic" text-anchor="middle" font-family="'Liberation Sans',sans-serif">x<tspan font-size="7.2" dy="2.2" font-style="normal">2</tspan></text><line x1="2922.2" y1="1826.3" x2="2922.2" y2="1828.1" stroke="#000" stroke-width="0.5"/><text x="2922.2" y="1834.8" font-size="5.4" text-anchor="middle" font-family="'Liberation Sans',sans-serif">−2</text><line x1="2906.5" y1="1812.4" x2="2908.3" y2="1812.4" stroke="#000" stroke-width="0.5"/><text x="2905.1" y="1814.4" font-size="5.4" text-anchor="end" font-family="'Liberation Sans',sans-serif">−2</text><line x1="2950.1" y1="1826.3" x2="2950.1" y2="1828.1" stroke="#000" stroke-width="0.5"/><text x="2950.1" y="1834.8" font-size="5.4" text-anchor="middle" font-family="'Liberation Sans',sans-serif">−1</text><line x1="2906.5" y1="1784.5" x2="2908.3" y2="1784.5" stroke="#000" stroke-width="0.5"/><text x="2905.1" y="1786.5" font-size="5.4" text-anchor="end" font-family="'Liberation Sans',sans-serif">−1</text><line x1="2977.9" y1="1826.3" x2="2977.9" y2="1828.1" stroke="#000" stroke-width="0.5"/><text x="2977.9" y="1834.8" font-size="5.4" text-anchor="middle" font-family="'Liberation Sans',sans-serif">0</text><line x1="2906.5" y1="1756.7" x2="2908.3" y2="1756.7" stroke="#000" stroke-width="0.5"/><text x="2905.1" y="1758.7" font-size="5.4" text-anchor="end" font-family="'Liberation Sans',sans-serif">0</text><line x1="3005.7" y1="1826.3" x2="3005.7" y2="1828.1" stroke="#000" stroke-width="0.5"/><text x="3005.7" y="1834.8" font-size="5.4" text-anchor="middle" font-family="'Liberation Sans',sans-serif">1</text><line x1="2906.5" y1="1728.9" x2="2908.3" y2="1728.9" stroke="#000" stroke-width="0.5"/><text x="2905.1" y="1730.9" font-size="5.4" text-anchor="end" font-family="'Liberation Sans',sans-serif">1</text><line x1="3033.6" y1="1826.3" x2="3033.6" y2="1828.1" stroke="#000" stroke-width="0.5"/><text x="3033.6" y="1834.8" font-size="5.4" text-anchor="middle" font-family="'Liberation Sans',sans-serif">2</text><line x1="2906.5" y1="1701.0" x2="2908.3" y2="1701.0" stroke="#000" stroke-width="0.5"/><text x="2905.1" y="1703.0" font-size="5.4" text-anchor="end" font-family="'Liberation Sans',sans-serif">2</text><text x="2977.9" y="1845.8" font-size="10.5" font-style="italic" text-anchor="middle" font-family="'Liberation Sans',sans-serif">x<tspan font-size="7.2" dy="2.2" font-style="normal">1</tspan></text><text transform="translate(2891.8 1756.7) rotate(-90)" font-size="10.5" font-style="italic" text-anchor="middle" font-family="'Liberation Sans',sans-serif">x<tspan font-size="7.2" dy="2.2" font-style="normal">2</tspan></text><line x1="3078.5" y1="1826.3" x2="3078.5" y2="1828.1" stroke="#000" stroke-width="0.5"/><text x="3078.5" y="1834.8" font-size="5.4" text-anchor="middle" font-family="'Liberation Sans',sans-serif">−2</text><line x1="3062.7999999999997" y1="1812.4" x2="3064.6" y2="1812.4" stroke="#000" stroke-width="0.5"/><text x="3061.4" y="1814.4" font-size="5.4" text-anchor="end" font-family="'Liberation Sans',sans-serif">−2</text><line x1="3106.4" y1="1826.3" x2="3106.4" y2="1828.1" stroke="#000" stroke-width="0.5"/><text x="3106.4" y="1834.8" font-size="5.4" text-anchor="middle" font-family="'Liberation Sans',sans-serif">−1</text><line x1="3062.7999999999997" y1="1784.5" x2="3064.6" y2="1784.5" stroke="#000" stroke-width="0.5"/><text x="3061.4" y="1786.5" font-size="5.4" text-anchor="end" font-family="'Liberation Sans',sans-serif">−1</text><line x1="3134.2" y1="1826.3" x2="3134.2" y2="1828.1" stroke="#000" stroke-width="0.5"/><text x="3134.2" y="1834.8" font-size="5.4" text-anchor="middle" font-family="'Liberation Sans',sans-serif">0</text><line x1="3062.7999999999997" y1="1756.7" x2="3064.6" y2="1756.7" stroke="#000" stroke-width="0.5"/><text x="3061.4" y="1758.7" font-size="5.4" text-anchor="end" font-family="'Liberation Sans',sans-serif">0</text><line x1="3162.0" y1="1826.3" x2="3162.0" y2="1828.1" stroke="#000" stroke-width="0.5"/><text x="3162.0" y="1834.8" font-size="5.4" text-anchor="middle" font-family="'Liberation Sans',sans-serif">1</text><line x1="3062.7999999999997" y1="1728.9" x2="3064.6" y2="1728.9" stroke="#000" stroke-width="0.5"/><text x="3061.4" y="1730.9" font-size="5.4" text-anchor="end" font-family="'Liberation Sans',sans-serif">1</text><line x1="3189.9" y1="1826.3" x2="3189.9" y2="1828.1" stroke="#000" stroke-width="0.5"/><text x="3189.9" y="1834.8" font-size="5.4" text-anchor="middle" font-family="'Liberation Sans',sans-serif">2</text><line x1="3062.7999999999997" y1="1701.0" x2="3064.6" y2="1701.0" stroke="#000" stroke-width="0.5"/><text x="3061.4" y="1703.0" font-size="5.4" text-anchor="end" font-family="'Liberation Sans',sans-serif">2</text><text x="3134.2" y="1845.8" font-size="10.5" font-style="italic" text-anchor="middle" font-family="'Liberation Sans',sans-serif">x<tspan font-size="7.2" dy="2.2" font-style="normal">1</tspan></text><text transform="translate(3048.1 1756.7) rotate(-90)" font-size="10.5" font-style="italic" text-anchor="middle" font-family="'Liberation Sans',sans-serif">x<tspan font-size="7.2" dy="2.2" font-style="normal">2</tspan></text><rect x="2439.6" y="1687.1" width="139.2" height="139.2" fill="#440154"/><g clip-path="url(#hc10)"><g transform="translate(2509.2 1756.7)"><circle r="36.7" fill="url(#hg10)" filter="url(#bl1)"/></g></g><text x="2509.2" y="1683.4" font-size="14.3" letter-spacing="0.35" text-anchor="middle" fill="#111" font-family="'Liberation Sans',sans-serif">Exact Solution</text><rect x="2595.8" y="1687.1" width="139.2" height="139.2" fill="#440154"/><g clip-path="url(#hc11)"><g transform="translate(2665.4 1756.7)"><path d="M37.2,0.0L36.9,3.9L36.1,7.7L35.0,11.4L33.4,14.9L31.6,18.2L29.6,21.5L27.3,24.6L24.9,27.6L22.0,30.3L18.8,32.6L15.3,34.3L11.5,35.5L7.7,36.4L3.9,37.0L0.0,37.4L-4.0,37.6L-7.9,37.3L-11.8,36.3L-15.5,34.8L-18.9,32.7L-22.0,30.3L-24.8,27.6L-27.5,24.7L-29.8,21.6L-31.7,18.3L-33.3,14.8L-34.5,11.2L-35.5,7.6L-36.4,3.8L-37.1,0.0L-37.5,-3.9L-37.3,-7.9L-36.4,-11.8L-34.9,-15.5L-32.8,-18.9L-30.4,-22.1L-27.8,-25.0L-25.0,-27.8L-22.0,-30.3L-18.8,-32.5L-15.2,-34.2L-11.5,-35.4L-7.7,-36.2L-3.9,-36.7L-0.0,-36.9L3.9,-36.8L7.7,-36.2L11.4,-35.1L14.9,-33.5L18.3,-31.7L21.6,-29.7L24.8,-27.5L28.0,-25.2L30.9,-22.4L33.3,-19.2L35.2,-15.7L36.4,-11.8L37.0,-7.9L37.3,-3.9Z" fill="url(#hg11)" filter="url(#bl1)"/><path d="M0,5.6 L7.0,37.3 L13.9,35.4 Z" fill="#26848d" opacity="0.18" filter="url(#bl1)"/></g></g><text x="2665.4" y="1683.4" font-size="14.3" letter-spacing="0.35" text-anchor="middle" fill="#111" font-family="'Liberation Sans',sans-serif">HyperDeepONet</text><rect x="2752.1" y="1687.1" width="139.2" height="139.2" fill="#440154"/><g clip-path="url(#hc12)"><g transform="translate(2821.7 1756.7)"><path d="M0,0 L-79.6,19.7 L-82.0,-0.3 Z" fill="#443780" opacity="0.28" filter="url(#bl3)"/><path d="M0,0 L-38.5,-77.3 L-15.3,-85.0 Z" fill="#443780" opacity="0.28" filter="url(#bl3)"/><path d="M0,0 L45.5,61.4 L34.1,68.4 Z" fill="#443780" opacity="0.28" filter="url(#bl3)"/><path d="M0,0 L-57.2,63.7 L-73.2,44.3 Z" fill="#443780" opacity="0.28" filter="url(#bl3)"/><path d="M0,0 L-65.8,20.2 L-68.5,7.0 Z" fill="#443780" opacity="0.28" filter="url(#bl3)"/><path d="M0,0 L-58.7,-32.0 L-47.1,-47.4 Z" fill="#443780" opacity="0.28" filter="url(#bl3)"/><path d="M0,0 L-75.2,31.7 L-79.9,16.5 Z" fill="#443780" opacity="0.28" filter="url(#bl3)"/><path d="M39.0,0.0L38.1,4.0L37.3,7.9L36.3,11.8L34.9,15.5L32.8,19.0L30.2,21.9L27.1,24.4L24.4,27.1L21.9,30.2L19.1,33.1L15.9,35.8L12.3,37.9L8.4,39.3L4.2,40.0L0.0,40.4L-4.3,40.5L-8.5,40.2L-12.7,39.2L-16.6,37.4L-19.9,34.5L-22.4,30.9L-24.3,27.0L-26.3,23.7L-28.8,20.9L-31.4,18.1L-34.0,15.2L-36.4,11.8L-38.1,8.1L-39.3,4.1L-39.9,0.0L-40.2,-4.2L-39.9,-8.5L-39.0,-12.7L-37.2,-16.6L-34.5,-19.9L-31.2,-22.7L-27.7,-24.9L-24.7,-27.4L-22.1,-30.4L-19.3,-33.4L-16.1,-36.1L-12.4,-38.0L-8.3,-39.0L-4.1,-39.1L-0.0,-38.6L4.0,-37.8L7.9,-37.0L11.7,-36.1L15.5,-34.7L19.0,-32.9L22.2,-30.5L25.1,-27.8L28.2,-25.4L31.8,-23.1L35.1,-20.3L37.8,-16.8L39.6,-12.9L40.2,-8.5L39.8,-4.2Z" fill="url(#hg12)" filter="url(#bl3)"/><circle cx="32.2" cy="2.2" r="5.6" fill="#eae525" opacity="0.7" filter="url(#bl2)"/><circle cx="-22.8" cy="22.9" r="5.6" fill="#eae525" opacity="0.7" filter="url(#bl2)"/><circle cx="-4.8" cy="31.9" r="5.6" fill="#eae525" opacity="0.7" filter="url(#bl2)"/></g></g><text x="2821.7" y="1683.4" font-size="14.3" letter-spacing="0.35" text-anchor="middle" fill="#111" font-family="'Liberation Sans',sans-serif">DeepONet</text><rect x="2908.3" y="1687.1" width="139.2" height="139.2" fill="#440154"/><g clip-path="url(#hc13)"><g transform="translate(2977.9 1756.7)"><path d="M37.8,0.0L37.5,3.9L36.9,7.8L35.9,11.7L34.4,15.3L32.4,18.7L29.8,21.7L27.0,24.3L24.1,26.8L21.3,29.3L18.2,31.6L14.9,33.6L11.4,35.2L7.7,36.3L3.9,37.0L0.0,37.5L-3.9,37.6L-7.9,37.3L-11.9,36.5L-15.6,35.1L-19.0,32.9L-22.0,30.3L-24.5,27.3L-27.0,24.3L-29.5,21.4L-31.8,18.3L-33.8,15.0L-35.4,11.5L-36.5,7.8L-37.1,3.9L-37.3,0.0L-37.1,-3.9L-36.6,-7.8L-35.6,-11.6L-34.1,-15.2L-32.1,-18.5L-29.7,-21.5L-27.0,-24.3L-24.4,-27.1L-21.7,-29.9L-18.8,-32.6L-15.5,-34.9L-11.9,-36.6L-8.0,-37.6L-4.0,-37.9L-0.0,-37.7L3.9,-37.1L7.7,-36.2L11.4,-35.0L14.9,-33.5L18.2,-31.5L21.2,-29.2L24.0,-26.7L26.8,-24.2L29.7,-21.6L32.4,-18.7L34.7,-15.4L36.3,-11.8L37.4,-7.9L37.8,-4.0Z" fill="url(#hg13)" filter="url(#bl1)"/><rect x="-8.4" y="-7.8" width="16.7" height="3.3" fill="#414487" filter="url(#bl1)"/></g></g><text x="2977.9" y="1668.4" font-size="14.3" letter-spacing="0.35" text-anchor="middle" fill="#111" font-family="'Liberation Sans',sans-serif">HyperDeepONet</text><text x="2977.9" y="1683.4" font-size="14.3" letter-spacing="0.35" text-anchor="middle" fill="#111" font-family="'Liberation Sans',sans-serif">(small)</text><rect x="3064.6" y="1687.1" width="139.2" height="139.2" fill="#440154"/><g clip-path="url(#hc14)"><g transform="translate(3134.2 1756.7)"><path d="M0,0 L-69.6,-0.8 L-68.2,-13.9 Z" fill="#45317c" opacity="0.25" filter="url(#bl3)"/><path d="M0,0 L-66.6,-9.9 L-63.3,-23.1 Z" fill="#45317c" opacity="0.25" filter="url(#bl3)"/><path d="M0,0 L85.3,15.8 L81.4,30.0 Z" fill="#45317c" opacity="0.25" filter="url(#bl3)"/><path d="M0,0 L56.2,-39.7 L63.9,-25.6 Z" fill="#45317c" opacity="0.25" filter="url(#bl3)"/><path d="M0,0 L-82.0,-15.1 L-75.6,-35.1 Z" fill="#45317c" opacity="0.25" filter="url(#bl3)"/><path d="M39.1,0.0L39.0,4.1L38.7,8.2L38.0,12.3L36.7,16.3L34.6,20.0L31.7,23.1L28.4,25.6L25.2,28.0L22.1,30.4L18.8,32.6L15.4,34.5L11.7,36.0L7.9,37.1L4.0,37.7L0.0,38.1L-4.0,38.3L-8.1,38.3L-12.3,37.8L-16.3,36.5L-19.9,34.5L-23.0,31.7L-25.6,28.4L-28.1,25.3L-30.8,22.4L-33.4,19.3L-35.7,15.9L-37.6,12.2L-38.7,8.2L-39.1,4.1L-39.0,0.0L-38.5,-4.0L-37.7,-8.0L-36.5,-11.8L-34.8,-15.5L-32.6,-18.8L-30.0,-21.8L-27.2,-24.5L-24.7,-27.4L-22.3,-30.7L-19.6,-33.9L-16.4,-36.7L-12.6,-38.9L-8.5,-40.1L-4.2,-40.4L-0.0,-40.0L4.1,-39.2L8.1,-38.0L11.9,-36.7L15.5,-34.9L18.9,-32.7L21.9,-30.1L24.5,-27.3L27.3,-24.6L30.3,-22.0L33.1,-19.1L35.5,-15.8L37.4,-12.1L38.5,-8.2L39.0,-4.1Z" fill="url(#hg14)" filter="url(#bl2)"/></g></g><text x="3134.2" y="1668.4" font-size="14.3" letter-spacing="0.35" text-anchor="middle" fill="#111" font-family="'Liberation Sans',sans-serif">DeepONet</text><text x="3134.2" y="1683.4" font-size="14.3" letter-spacing="0.35" text-anchor="middle" fill="#111" font-family="'Liberation Sans',sans-serif">(small)</text><rect x="3252.9" y="1687.1" width="13.8" height="139.2" fill="url(#vbar)"/><line x1="3266.7" y1="1687.1" x2="3269" y2="1687.1" stroke="#000" stroke-width="0.5"/><text x="3270.8" y="1691.5" font-size="12.3" fill="#111" font-family="'Liberation Sans',sans-serif">1.4</text><line x1="3266.7" y1="1721.9" x2="3269" y2="1721.9" stroke="#000" stroke-width="0.5"/><text x="3270.8" y="1726.3" font-size="12.3" fill="#111" font-family="'Liberation Sans',sans-serif">1.3</text><line x1="3266.7" y1="1756.7" x2="3269" y2="1756.7" stroke="#000" stroke-width="0.5"/><text x="3270.8" y="1761.1" font-size="12.3" fill="#111" font-family="'Liberation Sans',sans-serif">1.2</text><line x1="3266.7" y1="1791.5" x2="3269" y2="1791.5" stroke="#000" stroke-width="0.5"/><text x="3270.8" y="1795.9" font-size="12.3" fill="#111" font-family="'Liberation Sans',sans-serif">1.1</text><line x1="3266.7" y1="1826.3" x2="3269" y2="1826.3" stroke="#000" stroke-width="0.5"/><text x="3270.8" y="1830.7" font-size="12.3" fill="#111" font-family="'Liberation Sans',sans-serif">1.0</text><line x1="2453.5" y1="2033.8" x2="2453.5" y2="2035.6" stroke="#000" stroke-width="0.5"/><text x="2453.5" y="2042.3" font-size="5.4" text-anchor="middle" font-family="'Liberation Sans',sans-serif">−2</text><line x1="2437.7999999999997" y1="2019.9" x2="2439.6" y2="2019.9" stroke="#000" stroke-width="0.5"/><text x="2436.4" y="2021.9" font-size="5.4" text-anchor="end" font-family="'Liberation Sans',sans-serif">−2</text><line x1="2481.4" y1="2033.8" x2="2481.4" y2="2035.6" stroke="#000" stroke-width="0.5"/><text x="2481.4" y="2042.3" font-size="5.4" text-anchor="middle" font-family="'Liberation Sans',sans-serif">−1</text><line x1="2437.7999999999997" y1="1992.0" x2="2439.6" y2="1992.0" stroke="#000" stroke-width="0.5"/><text x="2436.4" y="1994.0" font-size="5.4" text-anchor="end" font-family="'Liberation Sans',sans-serif">−1</text><line x1="2509.2" y1="2033.8" x2="2509.2" y2="2035.6" stroke="#000" stroke-width="0.5"/><text x="2509.2" y="2042.3" font-size="5.4" text-anchor="middle" font-family="'Liberation Sans',sans-serif">0</text><line x1="2437.7999999999997" y1="1964.2" x2="2439.6" y2="1964.2" stroke="#000" stroke-width="0.5"/><text x="2436.4" y="1966.2" font-size="5.4" text-anchor="end" font-family="'Liberation Sans',sans-serif">0</text><line x1="2537.0" y1="2033.8" x2="2537.0" y2="2035.6" stroke="#000" stroke-width="0.5"/><text x="2537.0" y="2042.3" font-size="5.4" text-anchor="middle" font-family="'Liberation Sans',sans-serif">1</text><line x1="2437.7999999999997" y1="1936.4" x2="2439.6" y2="1936.4" stroke="#000" stroke-width="0.5"/><text x="2436.4" y="1938.4" font-size="5.4" text-anchor="end" font-family="'Liberation Sans',sans-serif">1</text><line x1="2564.9" y1="2033.8" x2="2564.9" y2="2035.6" stroke="#000" stroke-width="0.5"/><text x="2564.9" y="2042.3" font-size="5.4" text-anchor="middle" font-family="'Liberation Sans',sans-serif">2</text><line x1="2437.7999999999997" y1="1908.5" x2="2439.6" y2="1908.5" stroke="#000" stroke-width="0.5"/><text x="2436.4" y="1910.5" font-size="5.4" text-anchor="end" font-family="'Liberation Sans',sans-serif">2</text><text x="2509.2" y="2053.3" font-size="10.5" font-style="italic" text-anchor="middle" font-family="'Liberation Sans',sans-serif">x<tspan font-size="7.2" dy="2.2" font-style="normal">1</tspan></text><text transform="translate(2423.1 1964.2) rotate(-90)" font-size="10.5" font-style="italic" text-anchor="middle" font-family="'Liberation Sans',sans-serif">x<tspan font-size="7.2" dy="2.2" font-style="normal">2</tspan></text><line x1="2609.7" y1="2033.8" x2="2609.7" y2="2035.6" stroke="#000" stroke-width="0.5"/><text x="2609.7" y="2042.3" font-size="5.4" text-anchor="middle" font-family="'Liberation Sans',sans-serif">−2</text><line x1="2594.0" y1="2019.9" x2="2595.8" y2="2019.9" stroke="#000" stroke-width="0.5"/><text x="2592.6" y="2021.9" font-size="5.4" text-anchor="end" font-family="'Liberation Sans',sans-serif">−2</text><line x1="2637.6" y1="2033.8" x2="2637.6" y2="2035.6" stroke="#000" stroke-width="0.5"/><text x="2637.6" y="2042.3" font-size="5.4" text-anchor="middle" font-family="'Liberation Sans',sans-serif">−1</text><line x1="2594.0" y1="1992.0" x2="2595.8" y2="1992.0" stroke="#000" stroke-width="0.5"/><text x="2592.6" y="1994.0" font-size="5.4" text-anchor="end" font-family="'Liberation Sans',sans-serif">−1</text><line x1="2665.4" y1="2033.8" x2="2665.4" y2="2035.6" stroke="#000" stroke-width="0.5"/><text x="2665.4" y="2042.3" font-size="5.4" text-anchor="middle" font-family="'Liberation Sans',sans-serif">0</text><line x1="2594.0" y1="1964.2" x2="2595.8" y2="1964.2" stroke="#000" stroke-width="0.5"/><text x="2592.6" y="1966.2" font-size="5.4" text-anchor="end" font-family="'Liberation Sans',sans-serif">0</text><line x1="2693.2" y1="2033.8" x2="2693.2" y2="2035.6" stroke="#000" stroke-width="0.5"/><text x="2693.2" y="2042.3" font-size="5.4" text-anchor="middle" font-family="'Liberation Sans',sans-serif">1</text><line x1="2594.0" y1="1936.4" x2="2595.8" y2="1936.4" stroke="#000" stroke-width="0.5"/><text x="2592.6" y="1938.4" font-size="5.4" text-anchor="end" font-family="'Liberation Sans',sans-serif">1</text><line x1="2721.1" y1="2033.8" x2="2721.1" y2="2035.6" stroke="#000" stroke-width="0.5"/><text x="2721.1" y="2042.3" font-size="5.4" text-anchor="middle" font-family="'Liberation Sans',sans-serif">2</text><line x1="2594.0" y1="1908.5" x2="2595.8" y2="1908.5" stroke="#000" stroke-width="0.5"/><text x="2592.6" y="1910.5" font-size="5.4" text-anchor="end" font-family="'Liberation Sans',sans-serif">2</text><text x="2665.4" y="2053.3" font-size="10.5" font-style="italic" text-anchor="middle" font-family="'Liberation Sans',sans-serif">x<tspan font-size="7.2" dy="2.2" font-style="normal">1</tspan></text><text transform="translate(2579.3 1964.2) rotate(-90)" font-size="10.5" font-style="italic" text-anchor="middle" font-family="'Liberation Sans',sans-serif">x<tspan font-size="7.2" dy="2.2" font-style="normal">2</tspan></text><line x1="2766.0" y1="2033.8" x2="2766.0" y2="2035.6" stroke="#000" stroke-width="0.5"/><text x="2766.0" y="2042.3" font-size="5.4" text-anchor="middle" font-family="'Liberation Sans',sans-serif">−2</text><line x1="2750.2999999999997" y1="2019.9" x2="2752.1" y2="2019.9" stroke="#000" stroke-width="0.5"/><text x="2748.9" y="2021.9" font-size="5.4" text-anchor="end" font-family="'Liberation Sans',sans-serif">−2</text><line x1="2793.9" y1="2033.8" x2="2793.9" y2="2035.6" stroke="#000" stroke-width="0.5"/><text x="2793.9" y="2042.3" font-size="5.4" text-anchor="middle" font-family="'Liberation Sans',sans-serif">−1</text><line x1="2750.2999999999997" y1="1992.0" x2="2752.1" y2="1992.0" stroke="#000" stroke-width="0.5"/><text x="2748.9" y="1994.0" font-size="5.4" text-anchor="end" font-family="'Liberation Sans',sans-serif">−1</text><line x1="2821.7" y1="2033.8" x2="2821.7" y2="2035.6" stroke="#000" stroke-width="0.5"/><text x="2821.7" y="2042.3" font-size="5.4" text-anchor="middle" font-family="'Liberation Sans',sans-serif">0</text><line x1="2750.2999999999997" y1="1964.2" x2="2752.1" y2="1964.2" stroke="#000" stroke-width="0.5"/><text x="2748.9" y="1966.2" font-size="5.4" text-anchor="end" font-family="'Liberation Sans',sans-serif">0</text><line x1="2849.5" y1="2033.8" x2="2849.5" y2="2035.6" stroke="#000" stroke-width="0.5"/><text x="2849.5" y="2042.3" font-size="5.4" text-anchor="middle" font-family="'Liberation Sans',sans-serif">1</text><line x1="2750.2999999999997" y1="1936.4" x2="2752.1" y2="1936.4" stroke="#000" stroke-width="0.5"/><text x="2748.9" y="1938.4" font-size="5.4" text-anchor="end" font-family="'Liberation Sans',sans-serif">1</text><line x1="2877.4" y1="2033.8" x2="2877.4" y2="2035.6" stroke="#000" stroke-width="0.5"/><text x="2877.4" y="2042.3" font-size="5.4" text-anchor="middle" font-family="'Liberation Sans',sans-serif">2</text><line x1="2750.2999999999997" y1="1908.5" x2="2752.1" y2="1908.5" stroke="#000" stroke-width="0.5"/><text x="2748.9" y="1910.5" font-size="5.4" text-anchor="end" font-family="'Liberation Sans',sans-serif">2</text><text x="2821.7" y="2053.3" font-size="10.5" font-style="italic" text-anchor="middle" font-family="'Liberation Sans',sans-serif">x<tspan font-size="7.2" dy="2.2" font-style="normal">1</tspan></text><text transform="translate(2735.6 1964.2) rotate(-90)" font-size="10.5" font-style="italic" text-anchor="middle" font-family="'Liberation Sans',sans-serif">x<tspan font-size="7.2" dy="2.2" font-style="normal">2</tspan></text><line x1="2922.2" y1="2033.8" x2="2922.2" y2="2035.6" stroke="#000" stroke-width="0.5"/><text x="2922.2" y="2042.3" font-size="5.4" text-anchor="middle" font-family="'Liberation Sans',sans-serif">−2</text><line x1="2906.5" y1="2019.9" x2="2908.3" y2="2019.9" stroke="#000" stroke-width="0.5"/><text x="2905.1" y="2021.9" font-size="5.4" text-anchor="end" font-family="'Liberation Sans',sans-serif">−2</text><line x1="2950.1" y1="2033.8" x2="2950.1" y2="2035.6" stroke="#000" stroke-width="0.5"/><text x="2950.1" y="2042.3" font-size="5.4" text-anchor="middle" font-family="'Liberation Sans',sans-serif">−1</text><line x1="2906.5" y1="1992.0" x2="2908.3" y2="1992.0" stroke="#000" stroke-width="0.5"/><text x="2905.1" y="1994.0" font-size="5.4" text-anchor="end" font-family="'Liberation Sans',sans-serif">−1</text><line x1="2977.9" y1="2033.8" x2="2977.9" y2="2035.6" stroke="#000" stroke-width="0.5"/><text x="2977.9" y="2042.3" font-size="5.4" text-anchor="middle" font-family="'Liberation Sans',sans-serif">0</text><line x1="2906.5" y1="1964.2" x2="2908.3" y2="1964.2" stroke="#000" stroke-width="0.5"/><text x="2905.1" y="1966.2" font-size="5.4" text-anchor="end" font-family="'Liberation Sans',sans-serif">0</text><line x1="3005.7" y1="2033.8" x2="3005.7" y2="2035.6" stroke="#000" stroke-width="0.5"/><text x="3005.7" y="2042.3" font-size="5.4" text-anchor="middle" font-family="'Liberation Sans',sans-serif">1</text><line x1="2906.5" y1="1936.4" x2="2908.3" y2="1936.4" stroke="#000" stroke-width="0.5"/><text x="2905.1" y="1938.4" font-size="5.4" text-anchor="end" font-family="'Liberation Sans',sans-serif">1</text><line x1="3033.6" y1="2033.8" x2="3033.6" y2="2035.6" stroke="#000" stroke-width="0.5"/><text x="3033.6" y="2042.3" font-size="5.4" text-anchor="middle" font-family="'Liberation Sans',sans-serif">2</text><line x1="2906.5" y1="1908.5" x2="2908.3" y2="1908.5" stroke="#000" stroke-width="0.5"/><text x="2905.1" y="1910.5" font-size="5.4" text-anchor="end" font-family="'Liberation Sans',sans-serif">2</text><text x="2977.9" y="2053.3" font-size="10.5" font-style="italic" text-anchor="middle" font-family="'Liberation Sans',sans-serif">x<tspan font-size="7.2" dy="2.2" font-style="normal">1</tspan></text><text transform="translate(2891.8 1964.2) rotate(-90)" font-size="10.5" font-style="italic" text-anchor="middle" font-family="'Liberation Sans',sans-serif">x<tspan font-size="7.2" dy="2.2" font-style="normal">2</tspan></text><line x1="3078.5" y1="2033.8" x2="3078.5" y2="2035.6" stroke="#000" stroke-width="0.5"/><text x="3078.5" y="2042.3" font-size="5.4" text-anchor="middle" font-family="'Liberation Sans',sans-serif">−2</text><line x1="3062.7999999999997" y1="2019.9" x2="3064.6" y2="2019.9" stroke="#000" stroke-width="0.5"/><text x="3061.4" y="2021.9" font-size="5.4" text-anchor="end" font-family="'Liberation Sans',sans-serif">−2</text><line x1="3106.4" y1="2033.8" x2="3106.4" y2="2035.6" stroke="#000" stroke-width="0.5"/><text x="3106.4" y="2042.3" font-size="5.4" text-anchor="middle" font-family="'Liberation Sans',sans-serif">−1</text><line x1="3062.7999999999997" y1="1992.0" x2="3064.6" y2="1992.0" stroke="#000" stroke-width="0.5"/><text x="3061.4" y="1994.0" font-size="5.4" text-anchor="end" font-family="'Liberation Sans',sans-serif">−1</text><line x1="3134.2" y1="2033.8" x2="3134.2" y2="2035.6" stroke="#000" stroke-width="0.5"/><text x="3134.2" y="2042.3" font-size="5.4" text-anchor="middle" font-family="'Liberation Sans',sans-serif">0</text><line x1="3062.7999999999997" y1="1964.2" x2="3064.6" y2="1964.2" stroke="#000" stroke-width="0.5"/><text x="3061.4" y="1966.2" font-size="5.4" text-anchor="end" font-family="'Liberation Sans',sans-serif">0</text><line x1="3162.0" y1="2033.8" x2="3162.0" y2="2035.6" stroke="#000" stroke-width="0.5"/><text x="3162.0" y="2042.3" font-size="5.4" text-anchor="middle" font-family="'Liberation Sans',sans-serif">1</text><line x1="3062.7999999999997" y1="1936.4" x2="3064.6" y2="1936.4" stroke="#000" stroke-width="0.5"/><text x="3061.4" y="1938.4" font-size="5.4" text-anchor="end" font-family="'Liberation Sans',sans-serif">1</text><line x1="3189.9" y1="2033.8" x2="3189.9" y2="2035.6" stroke="#000" stroke-width="0.5"/><text x="3189.9" y="2042.3" font-size="5.4" text-anchor="middle" font-family="'Liberation Sans',sans-serif">2</text><line x1="3062.7999999999997" y1="1908.5" x2="3064.6" y2="1908.5" stroke="#000" stroke-width="0.5"/><text x="3061.4" y="1910.5" font-size="5.4" text-anchor="end" font-family="'Liberation Sans',sans-serif">2</text><text x="3134.2" y="2053.3" font-size="10.5" font-style="italic" text-anchor="middle" font-family="'Liberation Sans',sans-serif">x<tspan font-size="7.2" dy="2.2" font-style="normal">1</tspan></text><text transform="translate(3048.1 1964.2) rotate(-90)" font-size="10.5" font-style="italic" text-anchor="middle" font-family="'Liberation Sans',sans-serif">x<tspan font-size="7.2" dy="2.2" font-style="normal">2</tspan></text><rect x="2439.6" y="1894.6" width="139.2" height="139.2" fill="#440154"/><g clip-path="url(#hc20)"><g transform="translate(2509.2 1964.2)"><circle r="45.1" fill="url(#hg20)" filter="url(#bl1)"/></g></g><text x="2509.2" y="1890.9" font-size="14.3" letter-spacing="0.35" text-anchor="middle" fill="#111" font-family="'Liberation Sans',sans-serif">Exact Solution</text><rect x="2595.8" y="1894.6" width="139.2" height="139.2" fill="#440154"/><g clip-path="url(#hc21)"><g transform="translate(2665.4 1964.2)"><path d="M45.7,0.0L45.4,4.8L44.9,9.5L44.0,14.3L42.6,19.0L40.4,23.3L37.5,27.3L34.1,30.7L30.4,33.7L26.5,36.4L22.4,38.8L18.2,40.9L13.8,42.5L9.3,43.7L4.7,44.4L0.0,44.8L-4.7,45.0L-9.5,44.8L-14.4,44.2L-19.1,42.9L-23.5,40.7L-27.5,37.8L-30.9,34.4L-34.0,30.6L-36.8,26.8L-39.4,22.8L-41.7,18.6L-43.5,14.1L-44.6,9.5L-45.2,4.7L-45.2,0.0L-44.8,-4.7L-44.1,-9.4L-43.0,-14.0L-41.4,-18.4L-39.2,-22.6L-36.5,-26.5L-33.5,-30.2L-30.3,-33.7L-26.9,-37.0L-23.2,-40.1L-19.1,-42.9L-14.6,-44.9L-9.8,-46.1L-4.9,-46.4L-0.0,-46.0L4.8,-45.2L9.4,-44.1L13.9,-42.8L18.3,-41.0L22.4,-38.9L26.3,-36.3L30.0,-33.3L33.4,-30.1L36.6,-26.6L39.5,-22.8L42.1,-18.7L44.0,-14.3L45.1,-9.6L45.6,-4.8Z" fill="url(#hg21)" filter="url(#bl1)"/><path d="M0,5.6 L7.0,45.7 L13.9,43.4 Z" fill="#26848d" opacity="0.18" filter="url(#bl1)"/></g></g><text x="2665.4" y="1890.9" font-size="14.3" letter-spacing="0.35" text-anchor="middle" fill="#111" font-family="'Liberation Sans',sans-serif">HyperDeepONet</text><rect x="2752.1" y="1894.6" width="139.2" height="139.2" fill="#440154"/><g clip-path="url(#hc22)"><g transform="translate(2821.7 1964.2)"><path d="M0,0 L-71.2,4.0 L-70.2,-12.7 Z" fill="#443780" opacity="0.28" filter="url(#bl3)"/><path d="M0,0 L72.9,-46.8 L82.4,-26.8 Z" fill="#443780" opacity="0.28" filter="url(#bl3)"/><path d="M0,0 L-78.9,33.5 L-85.1,10.9 Z" fill="#443780" opacity="0.28" filter="url(#bl3)"/><path d="M0,0 L-66.9,-36.7 L-60.4,-46.7 Z" fill="#443780" opacity="0.28" filter="url(#bl3)"/><path d="M0,0 L70.5,-22.1 L73.7,-5.5 Z" fill="#443780" opacity="0.28" filter="url(#bl3)"/><path d="M0,0 L-54.2,-47.8 L-45.7,-55.9 Z" fill="#443780" opacity="0.28" filter="url(#bl3)"/><path d="M0,0 L5.5,-74.0 L21.2,-71.1 Z" fill="#443780" opacity="0.28" filter="url(#bl3)"/><path d="M49.1,0.0L49.9,5.2L49.4,10.5L47.5,15.4L44.5,19.8L41.0,23.7L37.5,27.2L33.9,30.6L30.8,34.2L27.6,38.0L23.8,41.2L19.4,43.6L14.7,45.3L9.9,46.5L5.0,47.4L0.0,47.7L-5.0,47.3L-9.8,46.0L-14.3,43.9L-18.4,41.4L-22.4,38.8L-26.4,36.4L-30.5,33.8L-34.9,31.4L-39.5,28.7L-43.2,24.9L-45.7,20.4L-47.2,15.3L-48.1,10.2L-48.4,5.1L-48.4,0.0L-47.8,-5.0L-46.4,-9.9L-44.3,-14.4L-41.7,-18.6L-38.9,-22.5L-36.1,-26.2L-33.1,-29.8L-30.3,-33.7L-27.3,-37.6L-23.5,-40.7L-19.2,-43.1L-14.6,-45.0L-9.9,-46.7L-5.1,-48.3L-0.0,-49.7L5.3,-50.4L10.6,-49.8L15.6,-47.9L20.0,-44.8L23.8,-41.1L27.0,-37.2L29.9,-33.2L32.9,-29.6L36.1,-26.2L38.7,-22.4L41.0,-18.2L43.0,-14.0L45.1,-9.6L47.3,-5.0Z" fill="url(#hg22)" filter="url(#bl3)"/><circle cx="15.8" cy="36.0" r="5.6" fill="#eae525" opacity="0.7" filter="url(#bl2)"/><circle cx="28.5" cy="27.0" r="5.6" fill="#eae525" opacity="0.7" filter="url(#bl2)"/><circle cx="-22.9" cy="-31.9" r="5.6" fill="#eae525" opacity="0.7" filter="url(#bl2)"/></g></g><text x="2821.7" y="1890.9" font-size="14.3" letter-spacing="0.35" text-anchor="middle" fill="#111" font-family="'Liberation Sans',sans-serif">DeepONet</text><rect x="2908.3" y="1894.6" width="139.2" height="139.2" fill="#440154"/><g clip-path="url(#hc23)"><g transform="translate(2977.9 1964.2)"><path d="M45.7,0.0L46.0,4.8L45.7,9.7L44.6,14.5L42.7,19.0L40.0,23.1L36.9,26.8L33.4,30.1L30.1,33.4L26.6,36.6L22.8,39.5L18.6,41.7L14.1,43.5L9.5,44.7L4.8,45.5L0.0,45.9L-4.8,45.8L-9.6,45.0L-14.1,43.5L-18.4,41.3L-22.4,38.7L-26.0,35.8L-29.5,32.8L-33.1,29.8L-36.8,26.8L-40.1,23.2L-42.8,19.1L-44.7,14.5L-45.9,9.8L-46.5,4.9L-46.6,0.0L-46.1,-4.8L-45.0,-9.6L-43.3,-14.1L-41.0,-18.3L-38.4,-22.2L-35.6,-25.9L-32.6,-29.3L-29.6,-32.9L-26.5,-36.5L-22.9,-39.6L-18.7,-42.1L-14.3,-43.9L-9.6,-45.2L-4.8,-45.9L-0.0,-46.3L4.9,-46.3L9.7,-45.7L14.4,-44.4L18.9,-42.4L22.9,-39.7L26.6,-36.6L29.9,-33.2L33.1,-29.8L36.3,-26.4L38.9,-22.5L41.1,-18.3L42.7,-13.9L43.9,-9.3L44.9,-4.7Z" fill="url(#hg23)" filter="url(#bl1)"/><path d="M0,-13.9 L5.6,-45.4 L12.5,-43.6 Z" fill="#2a788e" opacity="0.2" filter="url(#bl1)"/></g></g><text x="2977.9" y="1875.9" font-size="14.3" letter-spacing="0.35" text-anchor="middle" fill="#111" font-family="'Liberation Sans',sans-serif">HyperDeepONet</text><text x="2977.9" y="1890.9" font-size="14.3" letter-spacing="0.35" text-anchor="middle" fill="#111" font-family="'Liberation Sans',sans-serif">(small)</text><rect x="3064.6" y="1894.6" width="139.2" height="139.2" fill="#440154"/><g clip-path="url(#hc24)"><g transform="translate(3134.2 1964.2)"><path d="M0,0 L60.2,19.8 L56.1,29.5 Z" fill="#45317c" opacity="0.25" filter="url(#bl3)"/><path d="M0,0 L-72.5,-9.7 L-69.7,-22.0 Z" fill="#45317c" opacity="0.25" filter="url(#bl3)"/><path d="M0,0 L52.5,-32.8 L58.3,-20.9 Z" fill="#45317c" opacity="0.25" filter="url(#bl3)"/><path d="M0,0 L-23.9,59.5 L-36.1,53.0 Z" fill="#45317c" opacity="0.25" filter="url(#bl3)"/><path d="M0,0 L24.6,-66.7 L37.3,-60.5 Z" fill="#45317c" opacity="0.25" filter="url(#bl3)"/><path d="M46.6,0.0L46.5,4.9L45.8,9.7L44.4,14.4L42.7,19.0L40.5,23.4L38.0,27.6L34.9,31.4L31.5,34.9L27.8,38.2L23.6,40.9L19.2,43.2L14.7,45.2L10.0,47.0L5.1,48.4L0.0,49.0L-5.1,48.6L-10.0,47.1L-14.6,44.8L-18.7,42.1L-22.6,39.2L-26.3,36.2L-29.8,33.1L-33.3,29.9L-36.8,26.7L-39.9,23.1L-42.8,19.1L-45.5,14.8L-47.8,10.2L-49.5,5.2L-50.2,0.0L-49.6,-5.2L-47.9,-10.2L-45.4,-14.8L-42.7,-19.0L-39.8,-23.0L-36.9,-26.8L-33.7,-30.4L-30.5,-33.9L-27.1,-37.2L-23.1,-40.0L-18.8,-42.3L-14.4,-44.3L-9.8,-45.9L-5.0,-47.1L-0.0,-47.7L5.0,-47.5L9.9,-46.6L14.7,-45.1L19.3,-43.3L23.8,-41.2L28.1,-38.7L32.0,-35.5L35.6,-32.0L38.7,-28.1L41.0,-23.7L42.6,-19.0L43.9,-14.3L45.1,-9.6L46.0,-4.8Z" fill="url(#hg24)" filter="url(#bl2)"/></g></g><text x="3134.2" y="1875.9" font-size="14.3" letter-spacing="0.35" text-anchor="middle" fill="#111" font-family="'Liberation Sans',sans-serif">DeepONet</text><text x="3134.2" y="1890.9" font-size="14.3" letter-spacing="0.35" text-anchor="middle" fill="#111" font-family="'Liberation Sans',sans-serif">(small)</text><rect x="3252.9" y="1894.6" width="13.8" height="139.2" fill="url(#vbar)"/><line x1="3266.7" y1="1894.6" x2="3269" y2="1894.6" stroke="#000" stroke-width="0.5"/><text x="3270.8" y="1899.0" font-size="12.3" fill="#111" font-family="'Liberation Sans',sans-serif">1.4</text><line x1="3266.7" y1="1929.4" x2="3269" y2="1929.4" stroke="#000" stroke-width="0.5"/><text x="3270.8" y="1933.8" font-size="12.3" fill="#111" font-family="'Liberation Sans',sans-serif">1.3</text><line x1="3266.7" y1="1964.2" x2="3269" y2="1964.2" stroke="#000" stroke-width="0.5"/><text x="3270.8" y="1968.6" font-size="12.3" fill="#111" font-family="'Liberation Sans',sans-serif">1.2</text><line x1="3266.7" y1="1999.0" x2="3269" y2="1999.0" stroke="#000" stroke-width="0.5"/><text x="3270.8" y="2003.4" font-size="12.3" fill="#111" font-family="'Liberation Sans',sans-serif">1.1</text><line x1="3266.7" y1="2033.8" x2="3269" y2="2033.8" stroke="#000" stroke-width="0.5"/><text x="3270.8" y="2038.2" font-size="12.3" fill="#111" font-family="'Liberation Sans',sans-serif">1.0</text><line x1="2453.5" y1="2238.3999999999996" x2="2453.5" y2="2240.2" stroke="#000" stroke-width="0.5"/><text x="2453.5" y="2246.9" font-size="5.4" text-anchor="middle" font-family="'Liberation Sans',sans-serif">−2</text><line x1="2437.7999999999997" y1="2224.5" x2="2439.6" y2="2224.5" stroke="#000" stroke-width="0.5"/><text x="2436.4" y="2226.5" font-size="5.4" text-anchor="end" font-family="'Liberation Sans',sans-serif">−2</text><line x1="2481.4" y1="2238.3999999999996" x2="2481.4" y2="2240.2" stroke="#000" stroke-width="0.5"/><text x="2481.4" y="2246.9" font-size="5.4" text-anchor="middle" font-family="'Liberation Sans',sans-serif">−1</text><line x1="2437.7999999999997" y1="2196.6" x2="2439.6" y2="2196.6" stroke="#000" stroke-width="0.5"/><text x="2436.4" y="2198.6" font-size="5.4" text-anchor="end" font-family="'Liberation Sans',sans-serif">−1</text><line x1="2509.2" y1="2238.3999999999996" x2="2509.2" y2="2240.2" stroke="#000" stroke-width="0.5"/><text x="2509.2" y="2246.9" font-size="5.4" text-anchor="middle" font-family="'Liberation Sans',sans-serif">0</text><line x1="2437.7999999999997" y1="2168.8" x2="2439.6" y2="2168.8" stroke="#000" stroke-width="0.5"/><text x="2436.4" y="2170.8" font-size="5.4" text-anchor="end" font-family="'Liberation Sans',sans-serif">0</text><line x1="2537.0" y1="2238.3999999999996" x2="2537.0" y2="2240.2" stroke="#000" stroke-width="0.5"/><text x="2537.0" y="2246.9" font-size="5.4" text-anchor="middle" font-family="'Liberation Sans',sans-serif">1</text><line x1="2437.7999999999997" y1="2141.0" x2="2439.6" y2="2141.0" stroke="#000" stroke-width="0.5"/><text x="2436.4" y="2143.0" font-size="5.4" text-anchor="end" font-family="'Liberation Sans',sans-serif">1</text><line x1="2564.9" y1="2238.3999999999996" x2="2564.9" y2="2240.2" stroke="#000" stroke-width="0.5"/><text x="2564.9" y="2246.9" font-size="5.4" text-anchor="middle" font-family="'Liberation Sans',sans-serif">2</text><line x1="2437.7999999999997" y1="2113.1" x2="2439.6" y2="2113.1" stroke="#000" stroke-width="0.5"/><text x="2436.4" y="2115.1" font-size="5.4" text-anchor="end" font-family="'Liberation Sans',sans-serif">2</text><text x="2509.2" y="2257.9" font-size="10.5" font-style="italic" text-anchor="middle" font-family="'Liberation Sans',sans-serif">x<tspan font-size="7.2" dy="2.2" font-style="normal">1</tspan></text><text transform="translate(2423.1 2168.8) rotate(-90)" font-size="10.5" font-style="italic" text-anchor="middle" font-family="'Liberation Sans',sans-serif">x<tspan font-size="7.2" dy="2.2" font-style="normal">2</tspan></text><line x1="2609.7" y1="2238.3999999999996" x2="2609.7" y2="2240.2" stroke="#000" stroke-width="0.5"/><text x="2609.7" y="2246.9" font-size="5.4" text-anchor="middle" font-family="'Liberation Sans',sans-serif">−2</text><line x1="2594.0" y1="2224.5" x2="2595.8" y2="2224.5" stroke="#000" stroke-width="0.5"/><text x="2592.6" y="2226.5" font-size="5.4" text-anchor="end" font-family="'Liberation Sans',sans-serif">−2</text><line x1="2637.6" y1="2238.3999999999996" x2="2637.6" y2="2240.2" stroke="#000" stroke-width="0.5"/><text x="2637.6" y="2246.9" font-size="5.4" text-anchor="middle" font-family="'Liberation Sans',sans-serif">−1</text><line x1="2594.0" y1="2196.6" x2="2595.8" y2="2196.6" stroke="#000" stroke-width="0.5"/><text x="2592.6" y="2198.6" font-size="5.4" text-anchor="end" font-family="'Liberation Sans',sans-serif">−1</text><line x1="2665.4" y1="2238.3999999999996" x2="2665.4" y2="2240.2" stroke="#000" stroke-width="0.5"/><text x="2665.4" y="2246.9" font-size="5.4" text-anchor="middle" font-family="'Liberation Sans',sans-serif">0</text><line x1="2594.0" y1="2168.8" x2="2595.8" y2="2168.8" stroke="#000" stroke-width="0.5"/><text x="2592.6" y="2170.8" font-size="5.4" text-anchor="end" font-family="'Liberation Sans',sans-serif">0</text><line x1="2693.2" y1="2238.3999999999996" x2="2693.2" y2="2240.2" stroke="#000" stroke-width="0.5"/><text x="2693.2" y="2246.9" font-size="5.4" text-anchor="middle" font-family="'Liberation Sans',sans-serif">1</text><line x1="2594.0" y1="2141.0" x2="2595.8" y2="2141.0" stroke="#000" stroke-width="0.5"/><text x="2592.6" y="2143.0" font-size="5.4" text-anchor="end" font-family="'Liberation Sans',sans-serif">1</text><line x1="2721.1" y1="2238.3999999999996" x2="2721.1" y2="2240.2" stroke="#000" stroke-width="0.5"/><text x="2721.1" y="2246.9" font-size="5.4" text-anchor="middle" font-family="'Liberation Sans',sans-serif">2</text><line x1="2594.0" y1="2113.1" x2="2595.8" y2="2113.1" stroke="#000" stroke-width="0.5"/><text x="2592.6" y="2115.1" font-size="5.4" text-anchor="end" font-family="'Liberation Sans',sans-serif">2</text><text x="2665.4" y="2257.9" font-size="10.5" font-style="italic" text-anchor="middle" font-family="'Liberation Sans',sans-serif">x<tspan font-size="7.2" dy="2.2" font-style="normal">1</tspan></text><text transform="translate(2579.3 2168.8) rotate(-90)" font-size="10.5" font-style="italic" text-anchor="middle" font-family="'Liberation Sans',sans-serif">x<tspan font-size="7.2" dy="2.2" font-style="normal">2</tspan></text><line x1="2766.0" y1="2238.3999999999996" x2="2766.0" y2="2240.2" stroke="#000" stroke-width="0.5"/><text x="2766.0" y="2246.9" font-size="5.4" text-anchor="middle" font-family="'Liberation Sans',sans-serif">−2</text><line x1="2750.2999999999997" y1="2224.5" x2="2752.1" y2="2224.5" stroke="#000" stroke-width="0.5"/><text x="2748.9" y="2226.5" font-size="5.4" text-anchor="end" font-family="'Liberation Sans',sans-serif">−2</text><line x1="2793.9" y1="2238.3999999999996" x2="2793.9" y2="2240.2" stroke="#000" stroke-width="0.5"/><text x="2793.9" y="2246.9" font-size="5.4" text-anchor="middle" font-family="'Liberation Sans',sans-serif">−1</text><line x1="2750.2999999999997" y1="2196.6" x2="2752.1" y2="2196.6" stroke="#000" stroke-width="0.5"/><text x="2748.9" y="2198.6" font-size="5.4" text-anchor="end" font-family="'Liberation Sans',sans-serif">−1</text><line x1="2821.7" y1="2238.3999999999996" x2="2821.7" y2="2240.2" stroke="#000" stroke-width="0.5"/><text x="2821.7" y="2246.9" font-size="5.4" text-anchor="middle" font-family="'Liberation Sans',sans-serif">0</text><line x1="2750.2999999999997" y1="2168.8" x2="2752.1" y2="2168.8" stroke="#000" stroke-width="0.5"/><text x="2748.9" y="2170.8" font-size="5.4" text-anchor="end" font-family="'Liberation Sans',sans-serif">0</text><line x1="2849.5" y1="2238.3999999999996" x2="2849.5" y2="2240.2" stroke="#000" stroke-width="0.5"/><text x="2849.5" y="2246.9" font-size="5.4" text-anchor="middle" font-family="'Liberation Sans',sans-serif">1</text><line x1="2750.2999999999997" y1="2141.0" x2="2752.1" y2="2141.0" stroke="#000" stroke-width="0.5"/><text x="2748.9" y="2143.0" font-size="5.4" text-anchor="end" font-family="'Liberation Sans',sans-serif">1</text><line x1="2877.4" y1="2238.3999999999996" x2="2877.4" y2="2240.2" stroke="#000" stroke-width="0.5"/><text x="2877.4" y="2246.9" font-size="5.4" text-anchor="middle" font-family="'Liberation Sans',sans-serif">2</text><line x1="2750.2999999999997" y1="2113.1" x2="2752.1" y2="2113.1" stroke="#000" stroke-width="0.5"/><text x="2748.9" y="2115.1" font-size="5.4" text-anchor="end" font-family="'Liberation Sans',sans-serif">2</text><text x="2821.7" y="2257.9" font-size="10.5" font-style="italic" text-anchor="middle" font-family="'Liberation Sans',sans-serif">x<tspan font-size="7.2" dy="2.2" font-style="normal">1</tspan></text><text transform="translate(2735.6 2168.8) rotate(-90)" font-size="10.5" font-style="italic" text-anchor="middle" font-family="'Liberation Sans',sans-serif">x<tspan font-size="7.2" dy="2.2" font-style="normal">2</tspan></text><line x1="2922.2" y1="2238.3999999999996" x2="2922.2" y2="2240.2" stroke="#000" stroke-width="0.5"/><text x="2922.2" y="2246.9" font-size="5.4" text-anchor="middle" font-family="'Liberation Sans',sans-serif">−2</text><line x1="2906.5" y1="2224.5" x2="2908.3" y2="2224.5" stroke="#000" stroke-width="0.5"/><text x="2905.1" y="2226.5" font-size="5.4" text-anchor="end" font-family="'Liberation Sans',sans-serif">−2</text><line x1="2950.1" y1="2238.3999999999996" x2="2950.1" y2="2240.2" stroke="#000" stroke-width="0.5"/><text x="2950.1" y="2246.9" font-size="5.4" text-anchor="middle" font-family="'Liberation Sans',sans-serif">−1</text><line x1="2906.5" y1="2196.6" x2="2908.3" y2="2196.6" stroke="#000" stroke-width="0.5"/><text x="2905.1" y="2198.6" font-size="5.4" text-anchor="end" font-family="'Liberation Sans',sans-serif">−1</text><line x1="2977.9" y1="2238.3999999999996" x2="2977.9" y2="2240.2" stroke="#000" stroke-width="0.5"/><text x="2977.9" y="2246.9" font-size="5.4" text-anchor="middle" font-family="'Liberation Sans',sans-serif">0</text><line x1="2906.5" y1="2168.8" x2="2908.3" y2="2168.8" stroke="#000" stroke-width="0.5"/><text x="2905.1" y="2170.8" font-size="5.4" text-anchor="end" font-family="'Liberation Sans',sans-serif">0</text><line x1="3005.7" y1="2238.3999999999996" x2="3005.7" y2="2240.2" stroke="#000" stroke-width="0.5"/><text x="3005.7" y="2246.9" font-size="5.4" text-anchor="middle" font-family="'Liberation Sans',sans-serif">1</text><line x1="2906.5" y1="2141.0" x2="2908.3" y2="2141.0" stroke="#000" stroke-width="0.5"/><text x="2905.1" y="2143.0" font-size="5.4" text-anchor="end" font-family="'Liberation Sans',sans-serif">1</text><line x1="3033.6" y1="2238.3999999999996" x2="3033.6" y2="2240.2" stroke="#000" stroke-width="0.5"/><text x="3033.6" y="2246.9" font-size="5.4" text-anchor="middle" font-family="'Liberation Sans',sans-serif">2</text><line x1="2906.5" y1="2113.1" x2="2908.3" y2="2113.1" stroke="#000" stroke-width="0.5"/><text x="2905.1" y="2115.1" font-size="5.4" text-anchor="end" font-family="'Liberation Sans',sans-serif">2</text><text x="2977.9" y="2257.9" font-size="10.5" font-style="italic" text-anchor="middle" font-family="'Liberation Sans',sans-serif">x<tspan font-size="7.2" dy="2.2" font-style="normal">1</tspan></text><text transform="translate(2891.8 2168.8) rotate(-90)" font-size="10.5" font-style="italic" text-anchor="middle" font-family="'Liberation Sans',sans-serif">x<tspan font-size="7.2" dy="2.2" font-style="normal">2</tspan></text><line x1="3078.5" y1="2238.3999999999996" x2="3078.5" y2="2240.2" stroke="#000" stroke-width="0.5"/><text x="3078.5" y="2246.9" font-size="5.4" text-anchor="middle" font-family="'Liberation Sans',sans-serif">−2</text><line x1="3062.7999999999997" y1="2224.5" x2="3064.6" y2="2224.5" stroke="#000" stroke-width="0.5"/><text x="3061.4" y="2226.5" font-size="5.4" text-anchor="end" font-family="'Liberation Sans',sans-serif">−2</text><line x1="3106.4" y1="2238.3999999999996" x2="3106.4" y2="2240.2" stroke="#000" stroke-width="0.5"/><text x="3106.4" y="2246.9" font-size="5.4" text-anchor="middle" font-family="'Liberation Sans',sans-serif">−1</text><line x1="3062.7999999999997" y1="2196.6" x2="3064.6" y2="2196.6" stroke="#000" stroke-width="0.5"/><text x="3061.4" y="2198.6" font-size="5.4" text-anchor="end" font-family="'Liberation Sans',sans-serif">−1</text><line x1="3134.2" y1="2238.3999999999996" x2="3134.2" y2="2240.2" stroke="#000" stroke-width="0.5"/><text x="3134.2" y="2246.9" font-size="5.4" text-anchor="middle" font-family="'Liberation Sans',sans-serif">0</text><line x1="3062.7999999999997" y1="2168.8" x2="3064.6" y2="2168.8" stroke="#000" stroke-width="0.5"/><text x="3061.4" y="2170.8" font-size="5.4" text-anchor="end" font-family="'Liberation Sans',sans-serif">0</text><line x1="3162.0" y1="2238.3999999999996" x2="3162.0" y2="2240.2" stroke="#000" stroke-width="0.5"/><text x="3162.0" y="2246.9" font-size="5.4" text-anchor="middle" font-family="'Liberation Sans',sans-serif">1</text><line x1="3062.7999999999997" y1="2141.0" x2="3064.6" y2="2141.0" stroke="#000" stroke-width="0.5"/><text x="3061.4" y="2143.0" font-size="5.4" text-anchor="end" font-family="'Liberation Sans',sans-serif">1</text><line x1="3189.9" y1="2238.3999999999996" x2="3189.9" y2="2240.2" stroke="#000" stroke-width="0.5"/><text x="3189.9" y="2246.9" font-size="5.4" text-anchor="middle" font-family="'Liberation Sans',sans-serif">2</text><line x1="3062.7999999999997" y1="2113.1" x2="3064.6" y2="2113.1" stroke="#000" stroke-width="0.5"/><text x="3061.4" y="2115.1" font-size="5.4" text-anchor="end" font-family="'Liberation Sans',sans-serif">2</text><text x="3134.2" y="2257.9" font-size="10.5" font-style="italic" text-anchor="middle" font-family="'Liberation Sans',sans-serif">x<tspan font-size="7.2" dy="2.2" font-style="normal">1</tspan></text><text transform="translate(3048.1 2168.8) rotate(-90)" font-size="10.5" font-style="italic" text-anchor="middle" font-family="'Liberation Sans',sans-serif">x<tspan font-size="7.2" dy="2.2" font-style="normal">2</tspan></text><rect x="2439.6" y="2099.2" width="139.2" height="139.2" fill="#440154"/><g clip-path="url(#hc30)"><g transform="translate(2509.2 2168.8)"><circle r="53.7" fill="url(#hg30)" filter="url(#bl1)"/></g></g><text x="2509.2" y="2095.5" font-size="14.3" letter-spacing="0.35" text-anchor="middle" fill="#111" font-family="'Liberation Sans',sans-serif">Exact Solution</text><rect x="2595.8" y="2099.2" width="139.2" height="139.2" fill="#440154"/><g clip-path="url(#hc31)"><g transform="translate(2665.4 2168.8)"><path d="M55.0,0.0L54.8,5.8L53.9,11.5L52.5,17.0L50.5,22.5L47.9,27.6L44.6,32.4L40.7,36.7L36.3,40.4L31.7,43.6L26.8,46.5L21.9,49.1L16.7,51.4L11.3,53.1L5.7,54.0L0.0,54.0L-5.6,53.2L-11.0,52.0L-16.4,50.5L-21.7,48.7L-27.0,46.7L-32.1,44.1L-36.8,40.9L-41.1,37.0L-44.8,32.5L-48.0,27.7L-50.6,22.5L-52.7,17.1L-54.0,11.5L-54.5,5.7L-54.1,0.0L-53.0,-5.6L-51.6,-11.0L-50.1,-16.3L-48.4,-21.6L-46.4,-26.8L-43.8,-31.8L-40.5,-36.4L-36.4,-40.5L-31.9,-43.9L-27.1,-46.9L-22.1,-49.6L-16.8,-51.8L-11.4,-53.6L-5.8,-54.7L-0.0,-55.0L5.7,-54.6L11.4,-53.6L16.9,-52.1L22.3,-50.1L27.5,-47.6L32.2,-44.3L36.3,-40.3L39.7,-35.8L42.7,-31.0L45.4,-26.2L48.0,-21.4L50.5,-16.4L52.7,-11.2L54.2,-5.7Z" fill="url(#hg31)" filter="url(#bl1)"/><path d="M0,5.6 L7.0,54.3 L13.9,51.6 Z" fill="#26848d" opacity="0.18" filter="url(#bl1)"/></g></g><text x="2665.4" y="2095.5" font-size="14.3" letter-spacing="0.35" text-anchor="middle" fill="#111" font-family="'Liberation Sans',sans-serif">HyperDeepONet</text><rect x="2752.1" y="2099.2" width="139.2" height="139.2" fill="#440154"/><g clip-path="url(#hc32)"><g transform="translate(2821.7 2168.8)"><path d="M0,0 L-72.4,55.5 L-82.2,39.6 Z" fill="#443780" opacity="0.28" filter="url(#bl3)"/><path d="M0,0 L66.3,-60.3 L76.4,-46.7 Z" fill="#443780" opacity="0.28" filter="url(#bl3)"/><path d="M0,0 L57.1,-24.3 L61.6,-8.0 Z" fill="#443780" opacity="0.28" filter="url(#bl3)"/><path d="M0,0 L85.9,-19.1 L87.9,-3.2 Z" fill="#443780" opacity="0.28" filter="url(#bl3)"/><path d="M0,0 L43.0,61.0 L27.8,69.3 Z" fill="#443780" opacity="0.28" filter="url(#bl3)"/><path d="M0,0 L-43.9,-78.0 L-22.1,-86.7 Z" fill="#443780" opacity="0.28" filter="url(#bl3)"/><path d="M0,0 L29.4,-76.5 L49.3,-65.4 Z" fill="#443780" opacity="0.28" filter="url(#bl3)"/><path d="M60.8,0.0L60.4,6.3L58.5,12.4L55.7,18.1L52.4,23.3L48.8,28.2L44.9,32.6L40.4,36.4L36.1,40.1L31.9,43.9L27.3,47.2L22.4,50.3L17.3,53.2L11.8,55.6L6.0,57.0L0.0,57.2L-5.9,56.1L-11.5,54.2L-16.9,52.2L-22.4,50.2L-27.8,48.2L-33.2,45.6L-37.9,42.1L-42.5,38.3L-46.8,34.0L-50.2,29.0L-52.8,23.5L-54.9,17.8L-56.4,12.0L-57.0,6.0L-56.5,0.0L-55.2,-5.8L-53.4,-11.3L-51.4,-16.7L-49.5,-22.0L-47.3,-27.3L-44.6,-32.4L-40.8,-36.8L-36.8,-40.9L-32.6,-44.8L-27.8,-48.2L-22.9,-51.3L-17.7,-54.4L-12.2,-57.3L-6.2,-59.4L-0.0,-60.2L6.3,-59.6L12.3,-57.7L17.8,-54.9L23.0,-51.7L27.7,-48.0L31.8,-43.8L35.2,-39.1L38.5,-34.6L41.9,-30.4L45.2,-26.1L48.8,-21.7L52.7,-17.1L56.5,-12.0L59.4,-6.2Z" fill="url(#hg32)" filter="url(#bl3)"/><circle cx="-46.8" cy="1.2" r="5.6" fill="#eae525" opacity="0.7" filter="url(#bl2)"/><circle cx="-8.8" cy="-45.9" r="5.6" fill="#eae525" opacity="0.7" filter="url(#bl2)"/><circle cx="37.8" cy="27.5" r="5.6" fill="#eae525" opacity="0.7" filter="url(#bl2)"/></g></g><text x="2821.7" y="2095.5" font-size="14.3" letter-spacing="0.35" text-anchor="middle" fill="#111" font-family="'Liberation Sans',sans-serif">DeepONet</text><rect x="2908.3" y="2099.2" width="139.2" height="139.2" fill="#440154"/><g clip-path="url(#hc33)"><g transform="translate(2977.9 2168.8)"><path d="M54.3,0.0L53.9,5.7L53.0,11.3L51.5,16.7L49.3,22.0L46.5,26.9L43.2,31.4L39.5,35.6L35.8,39.8L31.9,44.0L27.5,47.6L22.5,50.6L17.1,52.8L11.5,54.2L5.8,55.1L0.0,55.5L-5.8,55.4L-11.6,54.7L-17.2,53.1L-22.5,50.5L-27.2,47.1L-31.4,43.2L-35.1,39.0L-38.9,35.0L-42.7,31.0L-46.2,26.7L-49.2,21.9L-51.7,16.8L-53.6,11.4L-55.0,5.8L-55.8,0.0L-56.0,-5.9L-55.3,-11.8L-53.7,-17.4L-51.0,-22.7L-47.6,-27.5L-43.6,-31.7L-39.4,-35.5L-35.4,-39.3L-31.4,-43.3L-27.0,-46.9L-22.2,-49.8L-16.9,-52.1L-11.4,-53.6L-5.7,-54.4L-0.0,-54.7L5.7,-54.4L11.4,-53.6L16.9,-52.1L22.2,-49.8L27.1,-46.9L31.7,-43.6L35.9,-39.9L40.2,-36.2L44.5,-32.4L48.3,-27.9L51.2,-22.8L53.1,-17.3L54.1,-11.5L54.5,-5.7Z" fill="url(#hg33)" filter="url(#bl1)"/><path d="M0,-13.9 L5.6,-54.3 L12.5,-52.1 Z" fill="#2a788e" opacity="0.2" filter="url(#bl1)"/></g></g><text x="2977.9" y="2080.5" font-size="14.3" letter-spacing="0.35" text-anchor="middle" fill="#111" font-family="'Liberation Sans',sans-serif">HyperDeepONet</text><text x="2977.9" y="2095.5" font-size="14.3" letter-spacing="0.35" text-anchor="middle" fill="#111" font-family="'Liberation Sans',sans-serif">(small)</text><rect x="3064.6" y="2099.2" width="139.2" height="139.2" fill="#440154"/><g clip-path="url(#hc34)"><g transform="translate(3134.2 2168.8)"><path d="M0,0 L-36.7,76.8 L-55.3,64.7 Z" fill="#45317c" opacity="0.25" filter="url(#bl3)"/><path d="M0,0 L62.0,-41.5 L69.3,-27.6 Z" fill="#45317c" opacity="0.25" filter="url(#bl3)"/><path d="M0,0 L65.5,-59.1 L79.0,-39.3 Z" fill="#45317c" opacity="0.25" filter="url(#bl3)"/><path d="M0,0 L-41.2,75.1 L-55.9,64.9 Z" fill="#45317c" opacity="0.25" filter="url(#bl3)"/><path d="M0,0 L0.3,80.3 L-15.2,78.9 Z" fill="#45317c" opacity="0.25" filter="url(#bl3)"/><path d="M55.9,0.0L55.2,5.8L54.1,11.5L52.4,17.0L50.0,22.3L47.0,27.1L43.6,31.7L40.0,36.0L36.5,40.5L32.8,45.2L28.4,49.2L23.3,52.4L17.7,54.5L11.9,55.9L6.0,56.7L0.0,57.3L-6.0,57.4L-12.1,56.9L-18.0,55.3L-23.4,52.5L-28.1,48.7L-32.2,44.3L-35.8,39.7L-39.4,35.5L-43.3,31.4L-46.8,27.0L-49.9,22.2L-52.3,17.0L-54.3,11.5L-56.0,5.9L-57.3,0.0L-58.0,-6.1L-57.8,-12.3L-56.2,-18.3L-53.3,-23.7L-49.4,-28.5L-44.9,-32.6L-40.3,-36.3L-36.2,-40.2L-32.2,-44.3L-27.8,-48.1L-22.8,-51.2L-17.4,-53.4L-11.6,-54.8L-5.8,-55.6L-0.0,-55.9L5.9,-55.8L11.7,-55.0L17.3,-53.3L22.6,-50.8L27.5,-47.7L32.1,-44.2L36.6,-40.6L41.3,-37.2L46.2,-33.6L50.5,-29.1L53.7,-23.9L55.6,-18.1L56.3,-12.0L56.3,-5.9Z" fill="url(#hg34)" filter="url(#bl2)"/></g></g><text x="3134.2" y="2080.5" font-size="14.3" letter-spacing="0.35" text-anchor="middle" fill="#111" font-family="'Liberation Sans',sans-serif">DeepONet</text><text x="3134.2" y="2095.5" font-size="14.3" letter-spacing="0.35" text-anchor="middle" fill="#111" font-family="'Liberation Sans',sans-serif">(small)</text><rect x="3252.9" y="2099.2" width="13.8" height="139.2" fill="url(#vbar)"/><line x1="3266.7" y1="2099.2" x2="3269" y2="2099.2" stroke="#000" stroke-width="0.5"/><text x="3270.8" y="2103.6" font-size="12.3" fill="#111" font-family="'Liberation Sans',sans-serif">1.4</text><line x1="3266.7" y1="2134.0" x2="3269" y2="2134.0" stroke="#000" stroke-width="0.5"/><text x="3270.8" y="2138.4" font-size="12.3" fill="#111" font-family="'Liberation Sans',sans-serif">1.3</text><line x1="3266.7" y1="2168.8" x2="3269" y2="2168.8" stroke="#000" stroke-width="0.5"/><text x="3270.8" y="2173.2" font-size="12.3" fill="#111" font-family="'Liberation Sans',sans-serif">1.2</text><line x1="3266.7" y1="2203.6" x2="3269" y2="2203.6" stroke="#000" stroke-width="0.5"/><text x="3270.8" y="2208.0" font-size="12.3" fill="#111" font-family="'Liberation Sans',sans-serif">1.1</text><line x1="3266.7" y1="2238.4" x2="3269" y2="2238.4" stroke="#000" stroke-width="0.5"/><text x="3270.8" y="2242.8" font-size="12.3" fill="#111" font-family="'Liberation Sans',sans-serif">1.0</text></svg>
</body></html>
